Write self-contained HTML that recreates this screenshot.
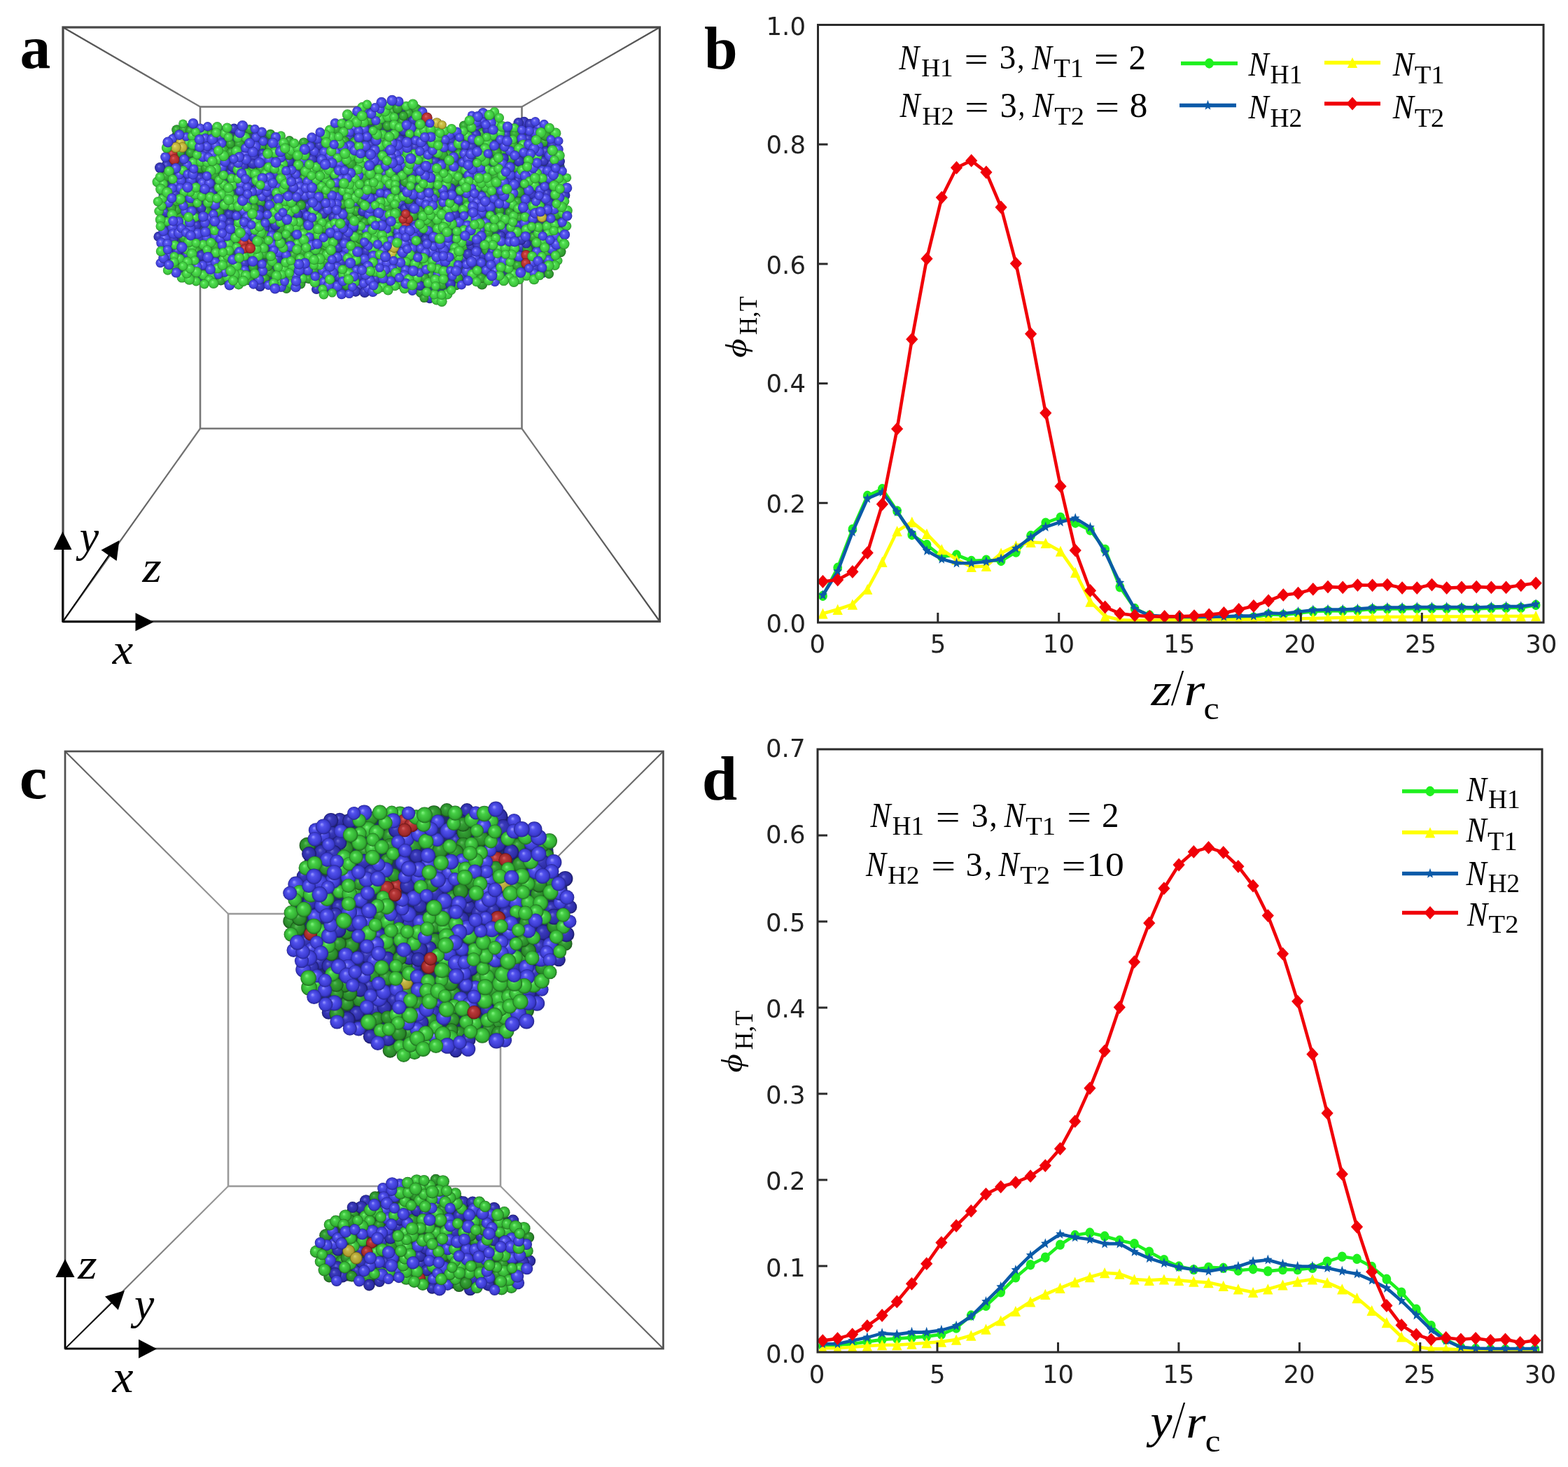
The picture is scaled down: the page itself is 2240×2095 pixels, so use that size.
<!DOCTYPE html>
<html><head><meta charset="utf-8"><title>Figure</title><style>html,body{margin:0;padding:0;background:#fff;}svg{display:block;}</style></head><body>
<svg width="2240" height="2095" viewBox="0 0 2240 2095">
<defs><radialGradient id="ga" cx="0.5" cy="0.5" r="0.5" fx="0.38" fy="0.34"><stop offset="0" stop-color="#8cf88c"/><stop offset="0.3" stop-color="#50e050"/><stop offset="0.8" stop-color="#3cc43c"/><stop offset="1" stop-color="#2a8a2a"/></radialGradient><radialGradient id="ba" cx="0.5" cy="0.5" r="0.5" fx="0.38" fy="0.34"><stop offset="0" stop-color="#a0a0ff"/><stop offset="0.3" stop-color="#5a5af2"/><stop offset="0.8" stop-color="#4040da"/><stop offset="1" stop-color="#2c2c9a"/></radialGradient><radialGradient id="ra" cx="0.5" cy="0.5" r="0.5" fx="0.38" fy="0.34"><stop offset="0" stop-color="#ff8c8c"/><stop offset="0.3" stop-color="#ee4a4a"/><stop offset="0.8" stop-color="#d43434"/><stop offset="1" stop-color="#902222"/></radialGradient><radialGradient id="ya" cx="0.5" cy="0.5" r="0.5" fx="0.38" fy="0.34"><stop offset="0" stop-color="#ffffa0"/><stop offset="0.3" stop-color="#fbec58"/><stop offset="0.8" stop-color="#e6d63c"/><stop offset="1" stop-color="#9a8a1c"/></radialGradient><radialGradient id="ga1" cx="0.5" cy="0.5" r="0.5" fx="0.38" fy="0.34"><stop offset="0" stop-color="#6cd06c"/><stop offset="0.3" stop-color="#3cb43c"/><stop offset="0.8" stop-color="#2e9a2e"/><stop offset="1" stop-color="#1e641e"/></radialGradient><radialGradient id="ba1" cx="0.5" cy="0.5" r="0.5" fx="0.38" fy="0.34"><stop offset="0" stop-color="#7c7ce4"/><stop offset="0.3" stop-color="#4444cc"/><stop offset="0.8" stop-color="#3232b2"/><stop offset="1" stop-color="#202078"/></radialGradient><radialGradient id="ra1" cx="0.5" cy="0.5" r="0.5" fx="0.38" fy="0.34"><stop offset="0" stop-color="#e06a6a"/><stop offset="0.3" stop-color="#c83c3c"/><stop offset="0.8" stop-color="#ac2c2c"/><stop offset="1" stop-color="#701818"/></radialGradient><radialGradient id="ya1" cx="0.5" cy="0.5" r="0.5" fx="0.38" fy="0.34"><stop offset="0" stop-color="#e0e088"/><stop offset="0.3" stop-color="#d0c448"/><stop offset="0.8" stop-color="#b8aa34"/><stop offset="1" stop-color="#746612"/></radialGradient><radialGradient id="gc" cx="0.5" cy="0.5" r="0.5" fx="0.38" fy="0.34"><stop offset="0" stop-color="#84f484"/><stop offset="0.3" stop-color="#46d046"/><stop offset="0.8" stop-color="#32ae32"/><stop offset="1" stop-color="#206a20"/></radialGradient><radialGradient id="bc" cx="0.5" cy="0.5" r="0.5" fx="0.38" fy="0.34"><stop offset="0" stop-color="#9c9cff"/><stop offset="0.3" stop-color="#5252ee"/><stop offset="0.8" stop-color="#3a3ace"/><stop offset="1" stop-color="#24248a"/></radialGradient><radialGradient id="rc" cx="0.5" cy="0.5" r="0.5" fx="0.38" fy="0.34"><stop offset="0" stop-color="#ff8080"/><stop offset="0.3" stop-color="#e84444"/><stop offset="0.8" stop-color="#cc3030"/><stop offset="1" stop-color="#861c1c"/></radialGradient><radialGradient id="yc" cx="0.5" cy="0.5" r="0.5" fx="0.38" fy="0.34"><stop offset="0" stop-color="#ffff98"/><stop offset="0.3" stop-color="#f4e450"/><stop offset="0.8" stop-color="#dccc38"/><stop offset="1" stop-color="#8e7e18"/></radialGradient><radialGradient id="gc1" cx="0.5" cy="0.5" r="0.5" fx="0.38" fy="0.34"><stop offset="0" stop-color="#60bc60"/><stop offset="0.3" stop-color="#34a034"/><stop offset="0.8" stop-color="#288628"/><stop offset="1" stop-color="#184c18"/></radialGradient><radialGradient id="bc1" cx="0.5" cy="0.5" r="0.5" fx="0.38" fy="0.34"><stop offset="0" stop-color="#7070dc"/><stop offset="0.3" stop-color="#3a3abc"/><stop offset="0.8" stop-color="#2c2ca2"/><stop offset="1" stop-color="#181860"/></radialGradient><radialGradient id="rc1" cx="0.5" cy="0.5" r="0.5" fx="0.38" fy="0.34"><stop offset="0" stop-color="#d46464"/><stop offset="0.3" stop-color="#b83838"/><stop offset="0.8" stop-color="#9c2828"/><stop offset="1" stop-color="#5c1212"/></radialGradient><radialGradient id="yc1" cx="0.5" cy="0.5" r="0.5" fx="0.38" fy="0.34"><stop offset="0" stop-color="#d4d476"/><stop offset="0.3" stop-color="#c2b444"/><stop offset="0.8" stop-color="#ac9c2e"/><stop offset="1" stop-color="#5e520e"/></radialGradient><linearGradient id="dg16" gradientUnits="userSpaceOnUse" x1="90" y1="39" x2="286" y2="152.5"><stop offset="0" stop-color="#4e4e4e"/><stop offset="1" stop-color="#777777"/></linearGradient><linearGradient id="dg17" gradientUnits="userSpaceOnUse" x1="942.5" y1="39" x2="745.5" y2="152.5"><stop offset="0" stop-color="#4e4e4e"/><stop offset="1" stop-color="#777777"/></linearGradient><linearGradient id="dg18" gradientUnits="userSpaceOnUse" x1="90" y1="887.5" x2="286" y2="612"><stop offset="0" stop-color="#4e4e4e"/><stop offset="1" stop-color="#777777"/></linearGradient><linearGradient id="dg19" gradientUnits="userSpaceOnUse" x1="942.5" y1="887.5" x2="745.5" y2="612"><stop offset="0" stop-color="#4e4e4e"/><stop offset="1" stop-color="#777777"/></linearGradient><linearGradient id="dg20" gradientUnits="userSpaceOnUse" x1="93" y1="1073" x2="326" y2="1305"><stop offset="0" stop-color="#5e5e5e"/><stop offset="1" stop-color="#9a9a9a"/></linearGradient><linearGradient id="dg21" gradientUnits="userSpaceOnUse" x1="947.5" y1="1073" x2="715" y2="1305"><stop offset="0" stop-color="#5e5e5e"/><stop offset="1" stop-color="#9a9a9a"/></linearGradient><linearGradient id="dg22" gradientUnits="userSpaceOnUse" x1="93" y1="1926" x2="326" y2="1694"><stop offset="0" stop-color="#5e5e5e"/><stop offset="1" stop-color="#9a9a9a"/></linearGradient><linearGradient id="dg23" gradientUnits="userSpaceOnUse" x1="947.5" y1="1926" x2="715" y2="1694"><stop offset="0" stop-color="#5e5e5e"/><stop offset="1" stop-color="#9a9a9a"/></linearGradient><clipPath id="cpb"><rect x="1168.5" y="35.5" width="1036.5" height="853.5"/></clipPath><clipPath id="cpd"><rect x="1168" y="1070" width="1035" height="861"/></clipPath></defs>
<rect width="2240" height="2095" fill="#fff"/>
<rect x="286" y="152.5" width="459.5" height="459.5" fill="none" stroke="#777777" stroke-width="2.6"/>
<line x1="90" y1="39" x2="286" y2="152.5" stroke="url(#dg16)" stroke-width="2.2"/>
<line x1="942.5" y1="39" x2="745.5" y2="152.5" stroke="url(#dg17)" stroke-width="2.2"/>
<line x1="90" y1="887.5" x2="286" y2="612" stroke="url(#dg18)" stroke-width="2.2"/>
<line x1="942.5" y1="887.5" x2="745.5" y2="612" stroke="url(#dg19)" stroke-width="2.2"/>
<g><polygon points="238.7,198.9 235.6,217.5 226,255.6 229.3,376 250,393.7 297.1,406.3 361,406.3 409,412.6 441.8,403 459,419.1 505.7,419.1 553.5,412.7 586.7,412.7 619.1,431.8 632.6,429.1 649.5,406.5 714.7,403 777.9,396.6 798.8,375.8 809.8,328.9 808.2,242.8 792.6,186.8 762.8,171.9 721.1,178.2 718.8,176.8 707,160.6 678,162 653.2,186.9 650.1,187.8 616.3,171 600.5,152.2 560.6,144.6 523.2,150.8 491.6,168 452.6,193.9 425.9,207.2 391.8,190.9 354,181.5 296.5,179.5 259.4,175.2" fill="#2e4a78"/><circle cx="738.9" cy="240.6" r="6.6" fill="url(#ga1)"/><circle cx="674.1" cy="210.1" r="7.5" fill="url(#ba1)"/><circle cx="584.3" cy="161.9" r="6.7" fill="url(#ga1)"/><circle cx="626.9" cy="284.3" r="7.5" fill="url(#ba1)"/><circle cx="285.7" cy="254.4" r="7.5" fill="url(#ba1)"/><circle cx="681.8" cy="183.4" r="7.3" fill="url(#ba1)"/><circle cx="371.5" cy="409.1" r="7.2" fill="url(#ba1)"/><circle cx="349.6" cy="376.2" r="6.8" fill="url(#ba1)"/><circle cx="576.7" cy="187.4" r="6.5" fill="url(#ba1)"/><circle cx="613.9" cy="426.6" r="6.7" fill="url(#ba1)"/><circle cx="358" cy="345.1" r="6.6" fill="url(#ra1)"/><circle cx="614.6" cy="321.6" r="7.3" fill="url(#ga1)"/><circle cx="334.4" cy="183.5" r="6.9" fill="url(#ba1)"/><circle cx="396.5" cy="370" r="7.5" fill="url(#ba1)"/><circle cx="576.1" cy="268" r="6.8" fill="url(#ba1)"/><circle cx="741.9" cy="274.5" r="7.7" fill="url(#ga1)"/><circle cx="548.7" cy="267.1" r="7.6" fill="url(#ba1)"/><circle cx="385.2" cy="388.9" r="7.1" fill="url(#ga1)"/><circle cx="664.9" cy="352.3" r="7.7" fill="url(#ga1)"/><circle cx="688.6" cy="406" r="7.6" fill="url(#ga1)"/><circle cx="688.8" cy="190.3" r="7.6" fill="url(#ga1)"/><circle cx="401.4" cy="326.1" r="7.3" fill="url(#ga1)"/><circle cx="513.1" cy="310.6" r="6.7" fill="url(#ga1)"/><circle cx="543.2" cy="234" r="7.6" fill="url(#ba1)"/><circle cx="295.6" cy="301.7" r="7.5" fill="url(#ga1)"/><circle cx="578.8" cy="320.7" r="7.5" fill="url(#ra1)"/><circle cx="386.5" cy="329.4" r="6.9" fill="url(#ba1)"/><circle cx="568.7" cy="298.2" r="7.7" fill="url(#ga1)"/><circle cx="721.3" cy="328.8" r="7.3" fill="url(#ba1)"/><circle cx="465" cy="280.2" r="6.5" fill="url(#ga1)"/><circle cx="272.1" cy="218.1" r="6.8" fill="url(#ga1)"/><circle cx="414.5" cy="342.9" r="6.7" fill="url(#ga1)"/><circle cx="666.1" cy="285.5" r="7.3" fill="url(#ga1)"/><circle cx="429.6" cy="405.8" r="6.8" fill="url(#ga1)"/><circle cx="499.3" cy="196.7" r="6.9" fill="url(#ba1)"/><circle cx="314" cy="197.1" r="6.9" fill="url(#ba1)"/><circle cx="572.2" cy="405.9" r="7.2" fill="url(#ga1)"/><circle cx="786.3" cy="234" r="7" fill="url(#ba1)"/><circle cx="494.4" cy="316.5" r="6.6" fill="url(#ba1)"/><circle cx="362.3" cy="338" r="7.4" fill="url(#ba1)"/><circle cx="419.2" cy="364.3" r="7.1" fill="url(#ga1)"/><circle cx="320.4" cy="214.5" r="7.6" fill="url(#ga1)"/><circle cx="778" cy="202.5" r="6.7" fill="url(#ga1)"/><circle cx="742" cy="311.4" r="7.3" fill="url(#ga1)"/><circle cx="281.5" cy="358.6" r="7" fill="url(#ga1)"/><circle cx="252.6" cy="185.6" r="7.4" fill="url(#ga1)"/><circle cx="521.1" cy="317.3" r="6.6" fill="url(#ga1)"/><circle cx="434" cy="203.6" r="7.2" fill="url(#ga1)"/><circle cx="795.1" cy="306.6" r="7" fill="url(#ga1)"/><circle cx="672.8" cy="352" r="6.3" fill="url(#ba1)"/><circle cx="621.4" cy="230.9" r="7.2" fill="url(#ba1)"/><circle cx="574.5" cy="173.6" r="7" fill="url(#ga1)"/><circle cx="601.3" cy="417.4" r="7.7" fill="url(#ga1)"/><circle cx="779.4" cy="193.7" r="7.5" fill="url(#ga1)"/><circle cx="433.8" cy="237" r="7.1" fill="url(#ba1)"/><circle cx="696.1" cy="279.6" r="7.5" fill="url(#ga1)"/><circle cx="689.8" cy="329.4" r="7" fill="url(#ba1)"/><circle cx="440.3" cy="294.7" r="7.1" fill="url(#ba1)"/><circle cx="413.1" cy="231.1" r="7.3" fill="url(#ba1)"/><circle cx="315.5" cy="401" r="6.4" fill="url(#ga1)"/><circle cx="508.7" cy="292.5" r="7.2" fill="url(#ba1)"/><circle cx="463.3" cy="326.2" r="6.6" fill="url(#ga1)"/><circle cx="715.7" cy="336.2" r="6.3" fill="url(#ba1)"/><circle cx="639" cy="236.5" r="7.7" fill="url(#ga1)"/><circle cx="432.7" cy="326.6" r="7.1" fill="url(#ga1)"/><circle cx="441.2" cy="398.1" r="6.9" fill="url(#ga1)"/><circle cx="713.7" cy="300.5" r="6.7" fill="url(#ga1)"/><circle cx="489.8" cy="291.3" r="6.6" fill="url(#ga1)"/><circle cx="697.8" cy="332.9" r="6.6" fill="url(#ga1)"/><circle cx="393.6" cy="321.7" r="7.4" fill="url(#ba1)"/><circle cx="656.8" cy="243.1" r="6.7" fill="url(#ga1)"/><circle cx="579.4" cy="259.5" r="7.4" fill="url(#ga1)"/><circle cx="362.9" cy="226" r="7.6" fill="url(#ba1)"/><circle cx="718.3" cy="217.3" r="6.7" fill="url(#ga1)"/><circle cx="655.5" cy="219.3" r="6.7" fill="url(#ga1)"/><circle cx="590" cy="171.9" r="6.9" fill="url(#ba1)"/><circle cx="483.9" cy="353.8" r="6.6" fill="url(#ba1)"/><circle cx="360.5" cy="242.4" r="6.8" fill="url(#ga1)"/><circle cx="308" cy="352" r="7.4" fill="url(#ga1)"/><circle cx="375.7" cy="343.3" r="7.5" fill="url(#ga1)"/><circle cx="466" cy="373.6" r="7.3" fill="url(#ga1)"/><circle cx="784.6" cy="290.1" r="7.1" fill="url(#ba1)"/><circle cx="724.2" cy="192.6" r="6.6" fill="url(#ba1)"/><circle cx="780" cy="216" r="7.1" fill="url(#ba1)"/><circle cx="663.8" cy="369.6" r="6.6" fill="url(#ba1)"/><circle cx="764.5" cy="382.6" r="7.1" fill="url(#ba1)"/><circle cx="806.9" cy="279" r="7.5" fill="url(#ba1)"/><circle cx="605.9" cy="425.6" r="6.5" fill="url(#ga1)"/><circle cx="415.3" cy="397.5" r="6.9" fill="url(#ga1)"/><circle cx="287.4" cy="364.8" r="7.6" fill="url(#ba1)"/><circle cx="708" cy="251.7" r="7.6" fill="url(#ga1)"/><circle cx="522.4" cy="159" r="7.7" fill="url(#ba1)"/><circle cx="739.9" cy="257.4" r="6.5" fill="url(#ba1)"/><circle cx="373.6" cy="242.3" r="7.3" fill="url(#ga1)"/><circle cx="741.5" cy="230.4" r="7.4" fill="url(#ba1)"/><circle cx="745.1" cy="352.9" r="7.1" fill="url(#ba1)"/><circle cx="520.7" cy="254" r="7.5" fill="url(#ga1)"/><circle cx="452.1" cy="413" r="7.1" fill="url(#ba1)"/><circle cx="709.4" cy="267.8" r="6.8" fill="url(#ba1)"/><circle cx="412.9" cy="221.8" r="6.7" fill="url(#ga1)"/><circle cx="361.7" cy="381.9" r="6.6" fill="url(#ga1)"/><circle cx="287.6" cy="297.7" r="6.8" fill="url(#ba1)"/><circle cx="478.2" cy="272.5" r="7.5" fill="url(#ga1)"/><circle cx="247.7" cy="341.8" r="7" fill="url(#ba1)"/><circle cx="709.4" cy="217.3" r="7.2" fill="url(#ga1)"/><circle cx="556.2" cy="391.8" r="7.4" fill="url(#ga1)"/><circle cx="329.8" cy="217.5" r="6.5" fill="url(#ga1)"/><circle cx="538" cy="221.7" r="7.1" fill="url(#ba1)"/><circle cx="615.4" cy="393.5" r="6.7" fill="url(#ga1)"/><circle cx="262.9" cy="340.4" r="6.7" fill="url(#ga1)"/><circle cx="382.5" cy="380.7" r="6.9" fill="url(#ga1)"/><circle cx="453.6" cy="272" r="6.9" fill="url(#ga1)"/><circle cx="432" cy="301.5" r="6.8" fill="url(#ba1)"/><circle cx="506.5" cy="202.5" r="7" fill="url(#ga1)"/><circle cx="781.7" cy="276.2" r="6.8" fill="url(#ba1)"/><circle cx="591" cy="316.6" r="7.3" fill="url(#ba1)"/><circle cx="237.2" cy="251.9" r="7.5" fill="url(#ga1)"/><circle cx="650.6" cy="307" r="6.7" fill="url(#ba1)"/><circle cx="631.9" cy="406.7" r="6.9" fill="url(#ga1)"/><circle cx="300.6" cy="191.4" r="6.5" fill="url(#ga1)"/><circle cx="466.8" cy="313.1" r="7.4" fill="url(#ga1)"/><circle cx="513.9" cy="411.1" r="6.8" fill="url(#ba1)"/><circle cx="540.3" cy="180" r="6.4" fill="url(#ga1)"/><circle cx="356.4" cy="184.7" r="6.6" fill="url(#ga1)"/><circle cx="668.9" cy="363.1" r="7.5" fill="url(#ba1)"/><circle cx="226.6" cy="338" r="7.2" fill="url(#ba1)"/><circle cx="488.2" cy="375" r="7.1" fill="url(#ba1)"/><circle cx="733.8" cy="207.6" r="6.7" fill="url(#ga1)"/><circle cx="476.1" cy="310.1" r="7.1" fill="url(#ba1)"/><circle cx="569" cy="382.8" r="7.5" fill="url(#ga1)"/><circle cx="753.5" cy="355.7" r="7.2" fill="url(#ga1)"/><circle cx="727.9" cy="303" r="6.4" fill="url(#ga1)"/><circle cx="800.9" cy="359.6" r="7.6" fill="url(#ga1)"/><circle cx="508.1" cy="416.4" r="7.3" fill="url(#ba1)"/><circle cx="430" cy="293.1" r="7" fill="url(#ga1)"/><circle cx="456.5" cy="207.6" r="6.7" fill="url(#ba1)"/><circle cx="394.7" cy="249.3" r="7.5" fill="url(#ba1)"/><circle cx="784.3" cy="391.3" r="6.7" fill="url(#ga1)"/><circle cx="425.4" cy="306.1" r="7.1" fill="url(#ba1)"/><circle cx="497.5" cy="382.8" r="7.2" fill="url(#ga1)"/><circle cx="465.2" cy="354.2" r="6.9" fill="url(#ga1)"/><circle cx="661.1" cy="393.3" r="6.8" fill="url(#ba1)"/><circle cx="608" cy="340.7" r="6.5" fill="url(#ba1)"/><circle cx="651.5" cy="407.8" r="6.5" fill="url(#ga1)"/><circle cx="250.6" cy="277" r="7.2" fill="url(#ba1)"/><circle cx="250.9" cy="289.6" r="7.2" fill="url(#ga1)"/><circle cx="554.2" cy="297.9" r="7.7" fill="url(#ga1)"/><circle cx="449.5" cy="320.5" r="7.2" fill="url(#ga1)"/><circle cx="372.9" cy="289.1" r="6.3" fill="url(#ga1)"/><circle cx="762" cy="338.5" r="6.8" fill="url(#ga1)"/><circle cx="561.5" cy="159.7" r="7.6" fill="url(#ga1)"/><circle cx="624.3" cy="358.8" r="7" fill="url(#ba1)"/><circle cx="689.2" cy="364.6" r="6.4" fill="url(#ba1)"/><circle cx="748.6" cy="174.4" r="7.6" fill="url(#ba1)"/><circle cx="378" cy="363.4" r="6.3" fill="url(#ga1)"/><circle cx="263.2" cy="185.3" r="7.6" fill="url(#ga1)"/><circle cx="385.3" cy="285" r="7.6" fill="url(#ba1)"/><circle cx="669.6" cy="344" r="7.5" fill="url(#ba1)"/><circle cx="695.6" cy="185.7" r="6.4" fill="url(#ba1)"/><circle cx="271.5" cy="186.5" r="6.6" fill="url(#ga1)"/><circle cx="358" cy="260.3" r="6.5" fill="url(#ba1)"/><circle cx="341.9" cy="205.9" r="7.7" fill="url(#ga1)"/><circle cx="590.6" cy="308.3" r="7.3" fill="url(#ga1)"/><circle cx="549.6" cy="248.7" r="7.6" fill="url(#ba1)"/><circle cx="573.5" cy="291.4" r="7.7" fill="url(#ba1)"/><circle cx="286.1" cy="240.2" r="6.7" fill="url(#ga1)"/><circle cx="409.2" cy="412.2" r="6.8" fill="url(#ga1)"/><circle cx="347.1" cy="347.8" r="7.7" fill="url(#ra1)"/><circle cx="329.3" cy="205.6" r="6.5" fill="url(#ga1)"/><circle cx="754.7" cy="198.1" r="6.8" fill="url(#ba1)"/><circle cx="606.3" cy="396.9" r="7.1" fill="url(#ga1)"/><circle cx="483.5" cy="395.8" r="6.8" fill="url(#ba1)"/><circle cx="528.6" cy="172.3" r="6.5" fill="url(#ga1)"/><circle cx="640.6" cy="221" r="6.8" fill="url(#ga1)"/><circle cx="461.6" cy="305.1" r="7.6" fill="url(#ba1)"/><circle cx="523.3" cy="358.7" r="6.9" fill="url(#ba1)"/><circle cx="501.6" cy="234.2" r="7.7" fill="url(#ga1)"/><circle cx="740.7" cy="175.3" r="7.2" fill="url(#ba1)"/><circle cx="578.8" cy="297.7" r="7.2" fill="url(#ba1)"/><circle cx="511.6" cy="348.7" r="7.2" fill="url(#ga1)"/><circle cx="445.8" cy="227.4" r="7.4" fill="url(#ba1)"/><circle cx="777" cy="229.9" r="6.8" fill="url(#ba1)"/><circle cx="458.4" cy="394.3" r="6.7" fill="url(#ga1)"/><circle cx="347.8" cy="237.3" r="6.7" fill="url(#ba1)"/><circle cx="623.3" cy="275.6" r="7.7" fill="url(#ga1)"/><circle cx="329.3" cy="246.4" r="6.5" fill="url(#ba1)"/><circle cx="572" cy="199.9" r="7" fill="url(#ba1)"/><circle cx="386.3" cy="191.7" r="7" fill="url(#ga1)"/><circle cx="679.9" cy="192.1" r="7" fill="url(#ba1)"/><circle cx="560.4" cy="362.9" r="6.9" fill="url(#ya1)"/><circle cx="695.4" cy="357.4" r="7.3" fill="url(#ga1)"/><circle cx="413.5" cy="200.8" r="6.7" fill="url(#ga1)"/><circle cx="586.3" cy="292.1" r="7.7" fill="url(#ba1)"/><circle cx="281.4" cy="321.5" r="6.4" fill="url(#ba1)"/><circle cx="256.6" cy="306.6" r="7.6" fill="url(#ga1)"/><circle cx="378.9" cy="397.7" r="6.5" fill="url(#ga1)"/><circle cx="644.7" cy="200.5" r="7" fill="url(#ba1)"/><circle cx="560" cy="325.9" r="6.6" fill="url(#ga1)"/><circle cx="501.9" cy="308.6" r="7.7" fill="url(#ga1)"/><circle cx="735.6" cy="190.8" r="7.2" fill="url(#ga1)"/><circle cx="356.2" cy="400.4" r="6.8" fill="url(#ga1)"/><circle cx="237.2" cy="303.2" r="7" fill="url(#ba1)"/><circle cx="266.3" cy="364.8" r="6.7" fill="url(#ba1)"/><circle cx="741.6" cy="321.8" r="6.6" fill="url(#ba1)"/><circle cx="459.7" cy="361.6" r="6.8" fill="url(#ga1)"/><circle cx="751.8" cy="348.1" r="6.5" fill="url(#ba1)"/><circle cx="728.9" cy="227" r="7.4" fill="url(#ga1)"/><circle cx="537.6" cy="398.4" r="6.7" fill="url(#ba1)"/><circle cx="739.7" cy="379.2" r="7.4" fill="url(#ga1)"/><circle cx="515.7" cy="333.1" r="6.9" fill="url(#ga1)"/><circle cx="789.2" cy="206.9" r="7.7" fill="url(#ba1)"/><circle cx="298.8" cy="324.9" r="6.5" fill="url(#ga1)"/><circle cx="313.2" cy="302.6" r="6.9" fill="url(#ga1)"/><circle cx="370.8" cy="299.4" r="6.7" fill="url(#ba1)"/><circle cx="249.7" cy="381.8" r="7.2" fill="url(#ga1)"/><circle cx="729.4" cy="257.7" r="6.9" fill="url(#ba1)"/><circle cx="585.9" cy="346.5" r="6.9" fill="url(#ba1)"/><circle cx="306" cy="250.1" r="7.3" fill="url(#ga1)"/><circle cx="601.2" cy="381.7" r="6.4" fill="url(#ga1)"/><circle cx="604.1" cy="224.6" r="6.7" fill="url(#ga1)"/><circle cx="649.1" cy="258.6" r="7.3" fill="url(#ga1)"/><circle cx="654.1" cy="397.3" r="7.2" fill="url(#ga1)"/><circle cx="449" cy="386.7" r="6.3" fill="url(#ga1)"/><circle cx="521" cy="417.3" r="7.7" fill="url(#ba1)"/><circle cx="481.6" cy="185.2" r="7" fill="url(#ga1)"/><circle cx="386.2" cy="211.2" r="7.5" fill="url(#ga1)"/><circle cx="332.5" cy="238.2" r="7.5" fill="url(#ba1)"/><circle cx="760.4" cy="277.8" r="6.4" fill="url(#ba1)"/><circle cx="744.4" cy="342.2" r="7.4" fill="url(#ba1)"/><circle cx="326.7" cy="378.8" r="7.7" fill="url(#ga1)"/><circle cx="702.9" cy="359.7" r="6.7" fill="url(#ba1)"/><circle cx="537.9" cy="282.6" r="6.7" fill="url(#ba1)"/><circle cx="495.5" cy="406.8" r="7.5" fill="url(#ga1)"/><circle cx="302.8" cy="274.1" r="6.9" fill="url(#ba1)"/><circle cx="509.3" cy="301.1" r="7.2" fill="url(#ga1)"/><circle cx="270.9" cy="291.7" r="6.4" fill="url(#ga1)"/><circle cx="392.8" cy="290" r="7.3" fill="url(#ga1)"/><circle cx="567.9" cy="155" r="7.3" fill="url(#ga1)"/><circle cx="456.2" cy="220.4" r="6.5" fill="url(#ba1)"/><circle cx="687.8" cy="397.1" r="7.2" fill="url(#ga1)"/><circle cx="355.5" cy="288.2" r="7" fill="url(#ba1)"/><circle cx="327.6" cy="306.4" r="7" fill="url(#ba1)"/><circle cx="253" cy="299.8" r="6.8" fill="url(#ga1)"/><circle cx="529.9" cy="206.9" r="6.9" fill="url(#ba1)"/><circle cx="595.3" cy="156" r="7.3" fill="url(#ga1)"/><circle cx="373.5" cy="209.9" r="6.6" fill="url(#ga1)"/><circle cx="757.3" cy="177.4" r="7.6" fill="url(#ba1)"/><circle cx="597.7" cy="332.5" r="7.1" fill="url(#ba1)"/><circle cx="253.1" cy="359.2" r="7.4" fill="url(#ba1)"/><circle cx="433.5" cy="254.6" r="6.3" fill="url(#ga1)"/><circle cx="514.3" cy="341" r="7.4" fill="url(#ga1)"/><circle cx="553.6" cy="179.6" r="7.1" fill="url(#ga1)"/><circle cx="285.6" cy="340.7" r="6.4" fill="url(#ba1)"/><circle cx="546.2" cy="199.5" r="6.5" fill="url(#ga1)"/><circle cx="294.1" cy="240" r="7.1" fill="url(#ga1)"/><circle cx="403.6" cy="278.7" r="6.5" fill="url(#ba1)"/><circle cx="599.8" cy="408.1" r="7" fill="url(#ba1)"/><circle cx="238.3" cy="236.2" r="7.4" fill="url(#ba1)"/><circle cx="626.3" cy="293.4" r="7.5" fill="url(#ga1)"/><circle cx="632.8" cy="221.2" r="7.1" fill="url(#ga1)"/><circle cx="360.9" cy="233.8" r="7.3" fill="url(#ba1)"/><circle cx="378.3" cy="326.3" r="6.7" fill="url(#ba1)"/><circle cx="800" cy="230.4" r="7" fill="url(#ba1)"/><circle cx="739.8" cy="288.1" r="6.8" fill="url(#ga1)"/><circle cx="459.9" cy="242.4" r="6.6" fill="url(#ga1)"/><circle cx="433.1" cy="360.1" r="6.5" fill="url(#ga1)"/><circle cx="549.8" cy="213.5" r="6.8" fill="url(#ba1)"/><circle cx="380.1" cy="336.1" r="6.7" fill="url(#ga1)"/><circle cx="228.5" cy="239.6" r="7.5" fill="url(#ba1)"/><circle cx="719.9" cy="225.9" r="6.9" fill="url(#ba1)"/><circle cx="518.1" cy="302.2" r="6.9" fill="url(#ba1)"/><circle cx="374.7" cy="218.6" r="6.3" fill="url(#ba1)"/><circle cx="630.5" cy="332.8" r="6.9" fill="url(#ba1)"/><circle cx="583.8" cy="284.3" r="7.3" fill="url(#ga1)"/><circle cx="515.6" cy="287.8" r="6.7" fill="url(#ga1)"/><circle cx="492.6" cy="201.1" r="6.6" fill="url(#ga1)"/><circle cx="256.9" cy="218.4" r="6.9" fill="url(#ga1)"/><circle cx="781.2" cy="361.6" r="6.5" fill="url(#ga1)"/><circle cx="643.5" cy="405.4" r="7.4" fill="url(#ba1)"/><circle cx="644.4" cy="268.7" r="6.6" fill="url(#ba1)"/><circle cx="590.4" cy="246.4" r="7.5" fill="url(#ba1)"/><circle cx="362.8" cy="297.3" r="6.9" fill="url(#ga1)"/><circle cx="576.3" cy="165.6" r="6.6" fill="url(#ga1)"/><circle cx="294.3" cy="216.9" r="6.6" fill="url(#ba1)"/><circle cx="494.4" cy="339.5" r="7.6" fill="url(#ba1)"/><circle cx="663" cy="179.6" r="7.1" fill="url(#ga1)"/><circle cx="328.2" cy="318.7" r="7.4" fill="url(#ba1)"/><circle cx="593" cy="210.3" r="7.4" fill="url(#ba1)"/><circle cx="534.5" cy="269.4" r="7.7" fill="url(#ga1)"/><circle cx="513.8" cy="393.9" r="7.3" fill="url(#ba1)"/><circle cx="245.2" cy="297.3" r="6.6" fill="url(#ga1)"/><circle cx="600.1" cy="300.9" r="6.3" fill="url(#ga1)"/><circle cx="682.6" cy="349.7" r="7.3" fill="url(#ba1)"/><circle cx="714.3" cy="309.6" r="6.4" fill="url(#ga)"/><circle cx="295.2" cy="339.9" r="6.4" fill="url(#ba)"/><circle cx="486.8" cy="255.5" r="7.1" fill="url(#ba)"/><circle cx="267.9" cy="203.4" r="7.3" fill="url(#ga)"/><circle cx="698.8" cy="343.4" r="6.6" fill="url(#ga)"/><circle cx="265" cy="302.2" r="6.9" fill="url(#ba)"/><circle cx="330.5" cy="294.1" r="6.5" fill="url(#ga)"/><circle cx="709.7" cy="177.8" r="7.5" fill="url(#ga)"/><circle cx="482.1" cy="281.9" r="7.4" fill="url(#ba)"/><circle cx="622.6" cy="301.3" r="6.5" fill="url(#ga)"/><circle cx="616.5" cy="359.5" r="7.5" fill="url(#ba)"/><circle cx="246.3" cy="324.9" r="7.2" fill="url(#ba)"/><circle cx="433.9" cy="334.3" r="7.7" fill="url(#ga)"/><circle cx="416.1" cy="214.5" r="7.4" fill="url(#ga)"/><circle cx="263.1" cy="317.2" r="6.9" fill="url(#ga)"/><circle cx="332.8" cy="263.9" r="7.3" fill="url(#ga)"/><circle cx="465.9" cy="256.4" r="6.6" fill="url(#ga)"/><circle cx="453.4" cy="198.4" r="6.8" fill="url(#ba)"/><circle cx="571.8" cy="215" r="7.6" fill="url(#ba)"/><circle cx="593.7" cy="236.9" r="7.6" fill="url(#ba)"/><circle cx="760" cy="375.2" r="7" fill="url(#ba)"/><circle cx="600.7" cy="287.6" r="7.1" fill="url(#ba)"/><circle cx="344.7" cy="263.6" r="7.4" fill="url(#ba)"/><circle cx="612.1" cy="403.9" r="7.3" fill="url(#ga)"/><circle cx="308.1" cy="337" r="7.5" fill="url(#ba)"/><circle cx="710.5" cy="371.7" r="7.6" fill="url(#ba)"/><circle cx="699.7" cy="366.8" r="7.4" fill="url(#ba)"/><circle cx="388.2" cy="337" r="7.3" fill="url(#ba)"/><circle cx="564.3" cy="408.6" r="6.6" fill="url(#ga)"/><circle cx="262.1" cy="294.1" r="6.6" fill="url(#ba)"/><circle cx="506.5" cy="402.7" r="7.3" fill="url(#ga)"/><circle cx="405.2" cy="384.5" r="7.5" fill="url(#ga)"/><circle cx="464.5" cy="248.7" r="7.1" fill="url(#ga)"/><circle cx="345.7" cy="324.4" r="6.7" fill="url(#ba)"/><circle cx="575.6" cy="235" r="6.9" fill="url(#ba)"/><circle cx="547.3" cy="357.3" r="6.7" fill="url(#ba)"/><circle cx="568.8" cy="330.6" r="6.7" fill="url(#ba)"/><circle cx="656" cy="317.5" r="7.2" fill="url(#ba)"/><circle cx="544.5" cy="170" r="6.4" fill="url(#ga)"/><circle cx="299.8" cy="375" r="7.4" fill="url(#ba)"/><circle cx="425.1" cy="347.7" r="6.7" fill="url(#ga)"/><circle cx="735.1" cy="182.6" r="6.4" fill="url(#ga)"/><circle cx="589.4" cy="354.5" r="6.5" fill="url(#ba)"/><circle cx="770.4" cy="181.8" r="7.3" fill="url(#ba)"/><circle cx="667.7" cy="294.3" r="6.7" fill="url(#ga)"/><circle cx="365.3" cy="316.4" r="7.6" fill="url(#ga)"/><circle cx="474.3" cy="279.3" r="7" fill="url(#ba)"/><circle cx="693.9" cy="267.2" r="7" fill="url(#ga)"/><circle cx="481.3" cy="291.2" r="6.9" fill="url(#ba)"/><circle cx="590.3" cy="336.8" r="7.6" fill="url(#ba)"/><circle cx="401.3" cy="194" r="6.7" fill="url(#ga)"/><circle cx="551.7" cy="288.1" r="6.9" fill="url(#ga)"/><circle cx="799.8" cy="330.7" r="6.5" fill="url(#ga)"/><circle cx="574.6" cy="250.5" r="7" fill="url(#ga)"/><circle cx="338" cy="215.9" r="7.6" fill="url(#ga)"/><circle cx="732.6" cy="292.3" r="6.8" fill="url(#ga)"/><circle cx="519.5" cy="242.3" r="7.4" fill="url(#ga)"/><circle cx="260" cy="396.2" r="7.4" fill="url(#ga)"/><circle cx="659.7" cy="346.4" r="6.8" fill="url(#ga)"/><circle cx="353" cy="247.8" r="7.2" fill="url(#ga)"/><circle cx="379.5" cy="247.9" r="6.9" fill="url(#ga)"/><circle cx="389.8" cy="349.4" r="6.7" fill="url(#ba)"/><circle cx="601.3" cy="354.7" r="6.6" fill="url(#ba)"/><circle cx="612.6" cy="263.5" r="7.3" fill="url(#ga)"/><circle cx="276.1" cy="231.9" r="7.3" fill="url(#ga)"/><circle cx="694.6" cy="385.8" r="6.9" fill="url(#ba)"/><circle cx="580.2" cy="151.5" r="6.7" fill="url(#ga)"/><circle cx="675.2" cy="283.6" r="7" fill="url(#ba)"/><circle cx="696.1" cy="241.6" r="6.3" fill="url(#ga)"/><circle cx="349.5" cy="385.5" r="6.4" fill="url(#ba)"/><circle cx="714.3" cy="190.4" r="6.7" fill="url(#ga)"/><circle cx="473.2" cy="290.5" r="6.8" fill="url(#ba)"/><circle cx="376.4" cy="354.3" r="7.3" fill="url(#ga)"/><circle cx="783.9" cy="371.5" r="7.3" fill="url(#ba)"/><circle cx="252.2" cy="262.7" r="6.5" fill="url(#ba)"/><circle cx="418.1" cy="379.9" r="7.7" fill="url(#ga)"/><circle cx="350.7" cy="196.1" r="6.8" fill="url(#ga)"/><circle cx="272.3" cy="282.6" r="7.5" fill="url(#ba)"/><circle cx="732.5" cy="199.5" r="6.5" fill="url(#ga)"/><circle cx="570.3" cy="367.1" r="6.5" fill="url(#ga)"/><circle cx="246.4" cy="198" r="6.5" fill="url(#ba)"/><circle cx="612.1" cy="329.5" r="6.5" fill="url(#ba)"/><circle cx="729.3" cy="249.9" r="6.9" fill="url(#ba)"/><circle cx="767" cy="359.3" r="6.9" fill="url(#ba)"/><circle cx="235.7" cy="340.8" r="7.6" fill="url(#ba)"/><circle cx="543.5" cy="208.6" r="7.2" fill="url(#ga)"/><circle cx="541.3" cy="242" r="6.9" fill="url(#ga)"/><circle cx="770.8" cy="294.4" r="7.3" fill="url(#ga)"/><circle cx="397.6" cy="205.3" r="7" fill="url(#ba)"/><circle cx="524" cy="328.5" r="7.2" fill="url(#ba)"/><circle cx="767.6" cy="224.3" r="6.5" fill="url(#ga)"/><circle cx="662" cy="260.1" r="6.7" fill="url(#ga)"/><circle cx="312.6" cy="267.9" r="6.9" fill="url(#ga)"/><circle cx="432.3" cy="397.5" r="6.5" fill="url(#ga)"/><circle cx="752" cy="393.4" r="7.4" fill="url(#ga)"/><circle cx="528.4" cy="282.9" r="6.9" fill="url(#ba)"/><circle cx="485.1" cy="234.1" r="7.4" fill="url(#ba)"/><circle cx="290.1" cy="189.6" r="7" fill="url(#ga)"/><circle cx="425.7" cy="259.1" r="6.7" fill="url(#ba)"/><circle cx="335.2" cy="285.2" r="7.1" fill="url(#ga)"/><circle cx="522.1" cy="230.6" r="7" fill="url(#ga)"/><circle cx="591.3" cy="219.5" r="6.4" fill="url(#ga)"/><circle cx="509" cy="385.8" r="6.6" fill="url(#ba)"/><circle cx="769.5" cy="208.3" r="6.5" fill="url(#ba)"/><circle cx="578" cy="226.2" r="7" fill="url(#ga)"/><circle cx="267.4" cy="356.6" r="7.1" fill="url(#ga)"/><circle cx="432.9" cy="229.2" r="6.9" fill="url(#ba)"/><circle cx="513.1" cy="250.7" r="6.3" fill="url(#ba)"/><circle cx="317.2" cy="277.9" r="7.3" fill="url(#ga)"/><circle cx="369.8" cy="307.4" r="7" fill="url(#ba)"/><circle cx="637.2" cy="264.1" r="7.5" fill="url(#ga)"/><circle cx="415" cy="405.2" r="6.4" fill="url(#ga)"/><circle cx="241" cy="289.9" r="6.5" fill="url(#ba)"/><circle cx="809.8" cy="253.8" r="6.4" fill="url(#ga)"/><circle cx="540.6" cy="254.4" r="7.2" fill="url(#ga)"/><circle cx="626.1" cy="392.4" r="7.6" fill="url(#ba)"/><circle cx="741.4" cy="366.1" r="7.5" fill="url(#ba)"/><circle cx="540.8" cy="313.7" r="7.1" fill="url(#ga)"/><circle cx="753.6" cy="291.5" r="6.9" fill="url(#ba)"/><circle cx="286.5" cy="231.3" r="6.6" fill="url(#ga)"/><circle cx="520.9" cy="278" r="7.4" fill="url(#ba)"/><circle cx="688.2" cy="173" r="6.5" fill="url(#ba)"/><circle cx="749.5" cy="318.5" r="7" fill="url(#ba)"/><circle cx="467.1" cy="346.7" r="7.7" fill="url(#ga)"/><circle cx="630.3" cy="235.8" r="7.2" fill="url(#ba)"/><circle cx="246" cy="220.4" r="7.6" fill="url(#ra1)"/><circle cx="435.7" cy="279.4" r="6.9" fill="url(#ba)"/><circle cx="666.8" cy="276.6" r="6.4" fill="url(#ba)"/><circle cx="567.7" cy="321.2" r="6.4" fill="url(#ga)"/><circle cx="738.3" cy="331.3" r="7.5" fill="url(#ga)"/><circle cx="282.1" cy="333.6" r="7.7" fill="url(#ba)"/><circle cx="750.7" cy="284.4" r="7" fill="url(#ba)"/><circle cx="274.6" cy="353.6" r="6.6" fill="url(#ga)"/><circle cx="646.1" cy="248" r="7.1" fill="url(#ga)"/><circle cx="413.7" cy="303.1" r="7.4" fill="url(#ga)"/><circle cx="551.7" cy="256.6" r="7.5" fill="url(#ga)"/><circle cx="488" cy="420.2" r="7.1" fill="url(#ba)"/><circle cx="278.9" cy="277.3" r="7.4" fill="url(#ga)"/><circle cx="622" cy="399.4" r="7.4" fill="url(#ga)"/><circle cx="316.6" cy="204.6" r="6.7" fill="url(#ba)"/><circle cx="289.7" cy="378.6" r="6.5" fill="url(#ba)"/><circle cx="435" cy="221.5" r="7.5" fill="url(#ga)"/><circle cx="256.9" cy="369.6" r="6.8" fill="url(#ga)"/><circle cx="797.3" cy="213.4" r="7.4" fill="url(#ba)"/><circle cx="258.5" cy="257.9" r="6.8" fill="url(#ba)"/><circle cx="385.2" cy="292.9" r="7.1" fill="url(#ba)"/><circle cx="396.3" cy="266.3" r="6.9" fill="url(#ba)"/><circle cx="463.7" cy="217.2" r="7.6" fill="url(#ba)"/><circle cx="681.9" cy="288.6" r="7.2" fill="url(#ba)"/><circle cx="299" cy="311.7" r="6.7" fill="url(#ba)"/><circle cx="330.9" cy="254.6" r="6.7" fill="url(#ga)"/><circle cx="546.5" cy="222.5" r="7.2" fill="url(#ga)"/><circle cx="307.1" cy="292.2" r="7.5" fill="url(#ba)"/><circle cx="257.4" cy="268.6" r="6.8" fill="url(#ba)"/><circle cx="295.7" cy="232.3" r="6.4" fill="url(#ga)"/><circle cx="625.4" cy="326.8" r="7.5" fill="url(#ga)"/><circle cx="348" cy="301.7" r="6.6" fill="url(#ba)"/><circle cx="281.9" cy="289.9" r="6.4" fill="url(#ga)"/><circle cx="721.9" cy="313.2" r="7" fill="url(#ga)"/><circle cx="666.8" cy="387.4" r="7.4" fill="url(#ba)"/><circle cx="337.8" cy="379.9" r="7.7" fill="url(#ga)"/><circle cx="506.8" cy="338.2" r="6.9" fill="url(#ga)"/><circle cx="606.1" cy="211.3" r="7" fill="url(#ba)"/><circle cx="728.6" cy="215.7" r="6.9" fill="url(#ba)"/><circle cx="741.4" cy="249.4" r="6.3" fill="url(#ba)"/><circle cx="302.8" cy="392.3" r="7.1" fill="url(#ga)"/><circle cx="398.3" cy="360.6" r="6.7" fill="url(#ba)"/><circle cx="774.5" cy="243" r="6.3" fill="url(#ba)"/><circle cx="733.9" cy="391.6" r="7.5" fill="url(#ga)"/><circle cx="673.3" cy="337.1" r="7.3" fill="url(#ga)"/><circle cx="388.2" cy="270.6" r="7.3" fill="url(#ba)"/><circle cx="742" cy="399.4" r="6.6" fill="url(#ga)"/><circle cx="526.3" cy="262.5" r="6.4" fill="url(#ga)"/><circle cx="388.7" cy="313.1" r="6.4" fill="url(#ga)"/><circle cx="325.7" cy="396.1" r="7.6" fill="url(#ga)"/><circle cx="499.7" cy="208.7" r="7.6" fill="url(#ba)"/><circle cx="592.8" cy="325.6" r="7.4" fill="url(#ba)"/><circle cx="428.6" cy="266.7" r="7.2" fill="url(#ba)"/><circle cx="554.2" cy="166.4" r="7.6" fill="url(#ga)"/><circle cx="306.5" cy="329.1" r="7" fill="url(#ga)"/><circle cx="461" cy="386.7" r="6.8" fill="url(#ba)"/><circle cx="320.8" cy="292.6" r="7.2" fill="url(#ga)"/><circle cx="326.8" cy="348.8" r="7.1" fill="url(#ga)"/><circle cx="715.5" cy="321.9" r="6.3" fill="url(#ga)"/><circle cx="495.2" cy="356" r="7.1" fill="url(#ba)"/><circle cx="527.1" cy="306.3" r="6.9" fill="url(#ba)"/><circle cx="517.3" cy="153.1" r="7" fill="url(#ga)"/><circle cx="272.9" cy="257.5" r="7.6" fill="url(#ba)"/><circle cx="229.1" cy="375.6" r="6.6" fill="url(#ba)"/><circle cx="364.9" cy="248.7" r="7.7" fill="url(#ga)"/><circle cx="682" cy="268" r="6.4" fill="url(#ga)"/><circle cx="727.7" cy="396.4" r="6.7" fill="url(#ga)"/><circle cx="803.5" cy="304.3" r="6.7" fill="url(#ga)"/><circle cx="678.1" cy="260" r="7.1" fill="url(#ga)"/><circle cx="558" cy="401.2" r="6.8" fill="url(#ba)"/><circle cx="470" cy="243" r="7.2" fill="url(#ga)"/><circle cx="459.4" cy="266.3" r="6.9" fill="url(#ga)"/><circle cx="471.4" cy="323" r="7.3" fill="url(#ga)"/><circle cx="422.4" cy="324.3" r="7.2" fill="url(#ga)"/><circle cx="376" cy="201.9" r="6.4" fill="url(#ba)"/><circle cx="339.3" cy="242.2" r="6.8" fill="url(#ga)"/><circle cx="296.9" cy="289.3" r="6.9" fill="url(#ga)"/><circle cx="395.6" cy="275.6" r="7.5" fill="url(#ga)"/><circle cx="557.8" cy="246.4" r="7.4" fill="url(#ga)"/><circle cx="567.8" cy="312.1" r="6.8" fill="url(#ga)"/><circle cx="489.7" cy="365.1" r="6.4" fill="url(#ba)"/><circle cx="704.2" cy="193.4" r="6.7" fill="url(#ga)"/><circle cx="256.2" cy="250.1" r="6.3" fill="url(#ba)"/><circle cx="318.8" cy="370.4" r="6.6" fill="url(#ga)"/><circle cx="794.1" cy="336.9" r="6.6" fill="url(#ba)"/><circle cx="806.6" cy="287.5" r="6.7" fill="url(#ga)"/><circle cx="668.3" cy="194.5" r="7" fill="url(#ga)"/><circle cx="481.5" cy="381.2" r="6.7" fill="url(#ba)"/><circle cx="553.2" cy="277.2" r="6.5" fill="url(#ba)"/><circle cx="376.3" cy="226.3" r="7.6" fill="url(#ba)"/><circle cx="408.9" cy="364.5" r="6.8" fill="url(#ba)"/><circle cx="623.7" cy="428" r="7.4" fill="url(#ga)"/><circle cx="566.2" cy="220.3" r="6.6" fill="url(#ba)"/><circle cx="726.5" cy="383.4" r="7" fill="url(#ga)"/><circle cx="271.7" cy="274.2" r="6.7" fill="url(#ga)"/><circle cx="592" cy="297.7" r="7.5" fill="url(#ba)"/><circle cx="810.4" cy="300.7" r="7.4" fill="url(#ga)"/><circle cx="763.8" cy="189.1" r="7.1" fill="url(#ba)"/><circle cx="343.5" cy="392.1" r="7.3" fill="url(#ga)"/><circle cx="481.7" cy="408.7" r="7.4" fill="url(#ba)"/><circle cx="641.9" cy="192.8" r="7.2" fill="url(#ba)"/><circle cx="774.1" cy="366" r="6.4" fill="url(#ga)"/><circle cx="289.7" cy="261.3" r="7.5" fill="url(#ba)"/><circle cx="317.3" cy="239.4" r="6.5" fill="url(#ba)"/><circle cx="670.1" cy="313" r="7.5" fill="url(#ga)"/><circle cx="548.5" cy="308" r="7.5" fill="url(#ba)"/><circle cx="688.5" cy="304" r="6.5" fill="url(#ba)"/><circle cx="406.6" cy="296" r="7.3" fill="url(#ga)"/><circle cx="421.9" cy="298.9" r="6.4" fill="url(#ga)"/><circle cx="598.9" cy="190" r="7.6" fill="url(#ga)"/><circle cx="687.8" cy="247.4" r="6.6" fill="url(#ba)"/><circle cx="655.4" cy="367.2" r="6.5" fill="url(#ga)"/><circle cx="320.7" cy="190.6" r="6.9" fill="url(#ga)"/><circle cx="340.9" cy="406.2" r="7.3" fill="url(#ga)"/><circle cx="554.2" cy="335.4" r="7.1" fill="url(#ga)"/><circle cx="767.6" cy="247.1" r="6.4" fill="url(#ga)"/><circle cx="300.3" cy="281.7" r="7.4" fill="url(#ga)"/><circle cx="537" cy="334.6" r="7.5" fill="url(#ga)"/><circle cx="688.3" cy="295.5" r="7.5" fill="url(#ba)"/><circle cx="290.3" cy="349.4" r="7" fill="url(#ga)"/><circle cx="400.5" cy="318" r="6.4" fill="url(#ga)"/><circle cx="225" cy="259.7" r="7.5" fill="url(#ga)"/><circle cx="763.7" cy="264.8" r="7.2" fill="url(#ga)"/><circle cx="365.1" cy="209" r="7.5" fill="url(#ba)"/><circle cx="719.6" cy="260.7" r="7.6" fill="url(#ba)"/><circle cx="293.2" cy="197.2" r="6.6" fill="url(#ba)"/><circle cx="456.8" cy="379.1" r="6.3" fill="url(#ga)"/><circle cx="352.9" cy="295.7" r="6.7" fill="url(#ga)"/><circle cx="290.7" cy="392.8" r="7" fill="url(#ga)"/><circle cx="372.5" cy="332.2" r="7.6" fill="url(#ga)"/><circle cx="623.1" cy="184.1" r="6.4" fill="url(#ga)"/><circle cx="635.8" cy="186.7" r="6.5" fill="url(#ga)"/><circle cx="482" cy="217.2" r="7.1" fill="url(#ba)"/><circle cx="304.4" cy="220.1" r="7.6" fill="url(#ba)"/><circle cx="526.4" cy="411.5" r="7.5" fill="url(#ba)"/><circle cx="680" cy="174.3" r="7.6" fill="url(#ba)"/><circle cx="520.8" cy="370.2" r="7.4" fill="url(#ba)"/><circle cx="564.9" cy="255.6" r="6.5" fill="url(#ga)"/><circle cx="520.7" cy="184.6" r="6.7" fill="url(#ba)"/><circle cx="648.4" cy="237.9" r="7.2" fill="url(#ba)"/><circle cx="781.6" cy="323.2" r="7.4" fill="url(#ga)"/><circle cx="539" cy="162.9" r="6.3" fill="url(#ga)"/><circle cx="462.9" cy="402.8" r="7.3" fill="url(#ba)"/><circle cx="445" cy="328.2" r="7.1" fill="url(#ga)"/><circle cx="353" cy="310" r="7.3" fill="url(#ba)"/><circle cx="423.2" cy="393.6" r="6.3" fill="url(#ba)"/><circle cx="610.6" cy="229.9" r="7.4" fill="url(#ga)"/><circle cx="714" cy="355" r="7.5" fill="url(#ga)"/><circle cx="755.4" cy="271.8" r="7.3" fill="url(#ba)"/><circle cx="468.1" cy="299.8" r="6.5" fill="url(#ba)"/><circle cx="627.9" cy="374.3" r="6.7" fill="url(#ba)"/><circle cx="484" cy="311.9" r="7.7" fill="url(#ba)"/><circle cx="453.9" cy="310" r="6.7" fill="url(#ga)"/><circle cx="550.3" cy="159.4" r="7" fill="url(#ga)"/><circle cx="454.1" cy="336" r="6.9" fill="url(#ga)"/><circle cx="447.3" cy="301.5" r="7.3" fill="url(#ga)"/><circle cx="585.6" cy="364" r="7.5" fill="url(#ga)"/><circle cx="690" cy="161.5" r="7.4" fill="url(#ba)"/><circle cx="674.7" cy="392" r="7.5" fill="url(#ga)"/><circle cx="580.4" cy="373.8" r="6.5" fill="url(#ga)"/><circle cx="251.6" cy="389.4" r="7.2" fill="url(#ba)"/><circle cx="618.8" cy="283.7" r="6.9" fill="url(#ba)"/><circle cx="802.6" cy="262" r="7.3" fill="url(#ga)"/><circle cx="674.1" cy="268.8" r="6.3" fill="url(#ba)"/><circle cx="746.3" cy="243.1" r="7.6" fill="url(#ga)"/><circle cx="519.6" cy="404.6" r="6.6" fill="url(#ba)"/><circle cx="515.8" cy="323" r="6.5" fill="url(#ga)"/><circle cx="577.2" cy="329.3" r="7.5" fill="url(#ba)"/><circle cx="312.9" cy="227.5" r="6.9" fill="url(#ga)"/><circle cx="338" cy="353" r="6.6" fill="url(#ga)"/><circle cx="603.5" cy="159.6" r="6.9" fill="url(#ba)"/><circle cx="661.4" cy="299.2" r="6.8" fill="url(#ga)"/><circle cx="533.9" cy="343.1" r="6.9" fill="url(#ga)"/><circle cx="532.6" cy="416.4" r="7.6" fill="url(#ba)"/><circle cx="536.9" cy="172.3" r="6.5" fill="url(#ba)"/><circle cx="384.3" cy="228.4" r="6.6" fill="url(#ba)"/><circle cx="471.1" cy="185.6" r="7.1" fill="url(#ga)"/><circle cx="770.1" cy="216.8" r="6.7" fill="url(#ba)"/><circle cx="232.2" cy="283.6" r="6.6" fill="url(#ga)"/><circle cx="645.4" cy="319.9" r="7.5" fill="url(#ga)"/><circle cx="414.5" cy="351.6" r="7.6" fill="url(#ba)"/><circle cx="279" cy="310.4" r="6.3" fill="url(#ga)"/><circle cx="427.1" cy="317" r="6.4" fill="url(#ga)"/><circle cx="592.7" cy="376.7" r="7" fill="url(#ga)"/><circle cx="552.2" cy="327" r="6.6" fill="url(#ba)"/><circle cx="546.9" cy="409.5" r="7.5" fill="url(#ga)"/><circle cx="662" cy="187.4" r="6.5" fill="url(#ga)"/><circle cx="500.6" cy="223" r="7.6" fill="url(#ga)"/><circle cx="585.4" cy="329.5" r="7.7" fill="url(#ba)"/><circle cx="543.5" cy="288.2" r="7" fill="url(#ga)"/><circle cx="640.3" cy="349.1" r="7.2" fill="url(#ba)"/><circle cx="588.7" cy="256.6" r="7" fill="url(#ga)"/><circle cx="321.5" cy="231" r="7.2" fill="url(#ba)"/><circle cx="441.9" cy="338.4" r="6.5" fill="url(#ba)"/><circle cx="562.9" cy="167.3" r="6.5" fill="url(#ga)"/><circle cx="715.1" cy="199.4" r="6.7" fill="url(#ba)"/><circle cx="758.9" cy="247.6" r="6.9" fill="url(#ba)"/><circle cx="247.5" cy="333.7" r="7.3" fill="url(#ba)"/><circle cx="799.4" cy="282.4" r="7" fill="url(#ba)"/><circle cx="756.3" cy="186.9" r="6.7" fill="url(#ba)"/><circle cx="544.6" cy="375" r="7.1" fill="url(#ba)"/><circle cx="393.8" cy="195.8" r="7.1" fill="url(#ba)"/><circle cx="504.7" cy="323.1" r="7.6" fill="url(#ba)"/><circle cx="609.7" cy="314.4" r="6.5" fill="url(#ga)"/><circle cx="308.2" cy="208" r="6.8" fill="url(#ba)"/><circle cx="449.6" cy="403.1" r="7.3" fill="url(#ga)"/><circle cx="797.2" cy="372.2" r="6.3" fill="url(#ga)"/><circle cx="497.5" cy="331.7" r="7.1" fill="url(#ba)"/><circle cx="288.1" cy="280.7" r="6.4" fill="url(#ga)"/><circle cx="734.1" cy="402.3" r="7.6" fill="url(#ga)"/><circle cx="543.3" cy="156.1" r="6.3" fill="url(#ba)"/><circle cx="679.1" cy="368.1" r="6.3" fill="url(#ba)"/><circle cx="750.3" cy="251.1" r="7.5" fill="url(#ba)"/><circle cx="685.9" cy="239.5" r="7.2" fill="url(#ba)"/><circle cx="751.5" cy="364.2" r="7.1" fill="url(#ra1)"/><circle cx="701.2" cy="378.2" r="6.9" fill="url(#ba)"/><circle cx="241.5" cy="364" r="6.7" fill="url(#ba)"/><circle cx="391.7" cy="302.7" r="6.8" fill="url(#ga)"/><circle cx="721.8" cy="291.3" r="6.6" fill="url(#ba)"/><circle cx="534.6" cy="228.9" r="7.4" fill="url(#ba)"/><circle cx="704.6" cy="244.1" r="6.6" fill="url(#ga)"/><circle cx="370.3" cy="399.5" r="6.9" fill="url(#ba)"/><circle cx="583.5" cy="313.1" r="6.6" fill="url(#ra1)"/><circle cx="625.4" cy="218.1" r="7.5" fill="url(#ga)"/><circle cx="611" cy="284.9" r="7.4" fill="url(#ba)"/><circle cx="624.6" cy="313.4" r="7.3" fill="url(#ga)"/><circle cx="593.9" cy="200.6" r="6.7" fill="url(#ba)"/><circle cx="227.1" cy="301.5" r="6.8" fill="url(#ga)"/><circle cx="353.7" cy="329.7" r="7.7" fill="url(#ba)"/><circle cx="271.8" cy="325.9" r="7.2" fill="url(#ba)"/><circle cx="729.7" cy="337.4" r="7.3" fill="url(#ba)"/><circle cx="791.6" cy="299.1" r="7.1" fill="url(#ba)"/><circle cx="349.5" cy="365.9" r="6.3" fill="url(#ga)"/><circle cx="375.3" cy="387" r="6.9" fill="url(#ba)"/><circle cx="478.2" cy="318.8" r="6.8" fill="url(#ga)"/><circle cx="611.5" cy="221.1" r="7" fill="url(#ba)"/><circle cx="528.3" cy="297.7" r="7.3" fill="url(#ba)"/><circle cx="734.9" cy="354.6" r="7.3" fill="url(#ga)"/><circle cx="249" cy="227.8" r="7.6" fill="url(#ra1)"/><circle cx="503.2" cy="361.9" r="6.4" fill="url(#ga)"/><circle cx="383.8" cy="238.7" r="6.9" fill="url(#ga)"/><circle cx="745.4" cy="197.7" r="7" fill="url(#ba)"/><circle cx="545.7" cy="335.8" r="7.3" fill="url(#ga)"/><circle cx="270.2" cy="345.2" r="7.7" fill="url(#ga)"/><circle cx="507" cy="256.2" r="7.4" fill="url(#ga)"/><circle cx="292.8" cy="318.3" r="6.9" fill="url(#ba)"/><circle cx="788.5" cy="356" r="7" fill="url(#ba)"/><circle cx="374.1" cy="281" r="6.5" fill="url(#ba)"/><circle cx="687.7" cy="261.7" r="7" fill="url(#ga)"/><circle cx="579.1" cy="385" r="6.5" fill="url(#ba)"/><circle cx="428.8" cy="369.2" r="6.7" fill="url(#ga)"/><circle cx="696.8" cy="203.6" r="7.3" fill="url(#ga)"/><circle cx="733.7" cy="275.8" r="6.7" fill="url(#ba)"/><circle cx="639.7" cy="298.9" r="7.6" fill="url(#ga)"/><circle cx="439.8" cy="386" r="7.2" fill="url(#ba)"/><circle cx="677.6" cy="250.1" r="6.8" fill="url(#ba)"/><circle cx="233.4" cy="330" r="7.1" fill="url(#ba)"/><circle cx="469.4" cy="407.6" r="7.4" fill="url(#ba)"/><circle cx="782.2" cy="243.8" r="6.9" fill="url(#ba)"/><circle cx="522.1" cy="208.7" r="7.4" fill="url(#ba)"/><circle cx="349.4" cy="338.2" r="6.8" fill="url(#ba)"/><circle cx="777.3" cy="177.3" r="6.5" fill="url(#ba)"/><circle cx="552.9" cy="376" r="7.3" fill="url(#ba)"/><circle cx="753.9" cy="302.3" r="7.2" fill="url(#ba)"/><circle cx="339.9" cy="255.3" r="6.7" fill="url(#ga)"/><circle cx="340.5" cy="294.5" r="7.2" fill="url(#ga)"/><circle cx="267.7" cy="235.4" r="6.4" fill="url(#ba)"/><circle cx="499" cy="419.6" r="6.5" fill="url(#ba)"/><circle cx="688.2" cy="280.2" r="6.8" fill="url(#ba)"/><circle cx="692.9" cy="212.3" r="7.5" fill="url(#ga)"/><circle cx="460.9" cy="412.8" r="6.6" fill="url(#ga)"/><circle cx="799.3" cy="222" r="7.5" fill="url(#ga)"/><circle cx="317.7" cy="312.2" r="6.4" fill="url(#ba)"/><circle cx="632.9" cy="289.2" r="6.4" fill="url(#ba)"/><circle cx="761.2" cy="294.5" r="7.3" fill="url(#ga)"/><circle cx="460.2" cy="317.9" r="6.5" fill="url(#ga)"/><circle cx="761.5" cy="239.5" r="7.6" fill="url(#ba)"/><circle cx="346.6" cy="286.3" r="7.7" fill="url(#ba)"/><circle cx="335.4" cy="392" r="7.3" fill="url(#ga)"/><circle cx="280.2" cy="401.9" r="6.5" fill="url(#ga)"/><circle cx="756.3" cy="258.5" r="6.4" fill="url(#ga)"/><circle cx="604.9" cy="326.7" r="6.6" fill="url(#ga)"/><circle cx="559.4" cy="283.6" r="7.3" fill="url(#ga)"/><circle cx="282" cy="380.8" r="6.6" fill="url(#ba)"/><circle cx="599.3" cy="255.6" r="6.4" fill="url(#ga)"/><circle cx="667.4" cy="321.6" r="6.9" fill="url(#ba)"/><circle cx="700" cy="295.4" r="7.5" fill="url(#ba)"/><circle cx="422.5" cy="410" r="7.3" fill="url(#ba)"/><circle cx="719.6" cy="400.7" r="7.4" fill="url(#ga)"/><circle cx="765.7" cy="287.6" r="6.6" fill="url(#ba)"/><circle cx="368.6" cy="272" r="6.7" fill="url(#ba)"/><circle cx="659.3" cy="406.9" r="6.6" fill="url(#ba)"/><circle cx="231.2" cy="294.4" r="6.4" fill="url(#ga)"/><circle cx="533.4" cy="355.8" r="7.6" fill="url(#ga)"/><circle cx="349.6" cy="355.1" r="6.6" fill="url(#ra1)"/><circle cx="475.1" cy="389.3" r="7.5" fill="url(#ba)"/><circle cx="775" cy="345" r="6.9" fill="url(#ga)"/><circle cx="426.2" cy="235.5" r="7.3" fill="url(#ga)"/><circle cx="619.5" cy="338.5" r="7.3" fill="url(#ba)"/><circle cx="793.8" cy="190.2" r="7.6" fill="url(#ga)"/><circle cx="506.8" cy="214.8" r="7.3" fill="url(#ba)"/><circle cx="560.6" cy="383.2" r="6.6" fill="url(#ba)"/><circle cx="255.3" cy="316.3" r="6.8" fill="url(#ba)"/><circle cx="261.6" cy="243.3" r="6.5" fill="url(#ga)"/><circle cx="648.1" cy="224.5" r="7.2" fill="url(#ba)"/><circle cx="366.6" cy="257.8" r="7.3" fill="url(#ga)"/><circle cx="496.8" cy="368.6" r="7" fill="url(#ga)"/><circle cx="784.9" cy="182.8" r="7.1" fill="url(#ga)"/><circle cx="706.1" cy="208.1" r="7.1" fill="url(#ba)"/><circle cx="451" cy="356.2" r="7.5" fill="url(#ga)"/><circle cx="453" cy="294.7" r="7" fill="url(#ba)"/><circle cx="718.4" cy="233.7" r="6.8" fill="url(#ba)"/><circle cx="398.4" cy="309.3" r="6.4" fill="url(#ba)"/><circle cx="383.6" cy="407.2" r="6.9" fill="url(#ba)"/><circle cx="558.1" cy="343.2" r="6.4" fill="url(#ba)"/><circle cx="533.2" cy="365.3" r="7.3" fill="url(#ba)"/><circle cx="480.9" cy="326.9" r="6.9" fill="url(#ba)"/><circle cx="664.7" cy="243.2" r="6.4" fill="url(#ga)"/><circle cx="652.3" cy="340.7" r="6.6" fill="url(#ga)"/><circle cx="660.9" cy="232.1" r="6.6" fill="url(#ba)"/><circle cx="649.4" cy="296.1" r="6.3" fill="url(#ga)"/><circle cx="809.8" cy="268.4" r="7.5" fill="url(#ba)"/><circle cx="320.9" cy="389" r="6.7" fill="url(#ba)"/><circle cx="636" cy="199.5" r="6.5" fill="url(#ba)"/><circle cx="619.5" cy="352.1" r="6.3" fill="url(#ba)"/><circle cx="707" cy="402.6" r="6.7" fill="url(#ba)"/><circle cx="669.7" cy="250.4" r="7.3" fill="url(#ba)"/><circle cx="575.6" cy="313.1" r="6.3" fill="url(#ra1)"/><circle cx="338" cy="325.6" r="6.4" fill="url(#ga)"/><circle cx="267.7" cy="248.6" r="6.3" fill="url(#ba)"/><circle cx="733.7" cy="308.6" r="7" fill="url(#ga)"/><circle cx="273.7" cy="301.6" r="7.1" fill="url(#ba)"/><circle cx="566.8" cy="239.6" r="7.3" fill="url(#ba)"/><circle cx="809.5" cy="322.7" r="6.8" fill="url(#ga)"/><circle cx="620.6" cy="248.1" r="7.5" fill="url(#ga)"/><circle cx="233.4" cy="262.7" r="6.5" fill="url(#ga)"/><circle cx="543.1" cy="296.4" r="6.4" fill="url(#ga)"/><circle cx="286.2" cy="182.9" r="6.5" fill="url(#ba)"/><circle cx="509" cy="371.2" r="7" fill="url(#ga)"/><circle cx="749.3" cy="262.4" r="6.4" fill="url(#ga)"/><circle cx="445.3" cy="243.1" r="7.5" fill="url(#ga)"/><circle cx="782.7" cy="333.7" r="7" fill="url(#ga)"/><circle cx="785.5" cy="222.3" r="7.7" fill="url(#ba)"/><circle cx="445" cy="350.3" r="7.1" fill="url(#ba)"/><circle cx="274.1" cy="362.6" r="7.5" fill="url(#ga)"/><circle cx="239.6" cy="385.9" r="6.8" fill="url(#ga)"/><circle cx="275.5" cy="249.1" r="7.4" fill="url(#ba)"/><circle cx="350.6" cy="220.1" r="7.2" fill="url(#ba)"/><circle cx="448.4" cy="378.8" r="6.5" fill="url(#ga)"/><circle cx="680.7" cy="402.5" r="6.8" fill="url(#ga)"/><circle cx="556.6" cy="263" r="6.8" fill="url(#ga)"/><circle cx="293.4" cy="331.3" r="7.3" fill="url(#ba)"/><circle cx="389" cy="373.4" r="7.1" fill="url(#ga)"/><circle cx="449.2" cy="216.4" r="6.6" fill="url(#ba)"/><circle cx="271.3" cy="317.6" r="7.2" fill="url(#ba)"/><circle cx="450.9" cy="257.3" r="7.2" fill="url(#ga)"/><circle cx="470.9" cy="223.5" r="7.1" fill="url(#ba)"/><circle cx="289.7" cy="223.6" r="7.7" fill="url(#ba)"/><circle cx="734.4" cy="263.7" r="7.5" fill="url(#ba)"/><circle cx="567.8" cy="284" r="6.3" fill="url(#ga)"/><circle cx="717.3" cy="180.5" r="7.6" fill="url(#ga)"/><circle cx="768.4" cy="333" r="6.6" fill="url(#ga)"/><circle cx="642.6" cy="289.9" r="6.7" fill="url(#ga)"/><circle cx="721.8" cy="353.9" r="7.1" fill="url(#ga)"/><circle cx="512.8" cy="208.7" r="6.7" fill="url(#ga)"/><circle cx="404.7" cy="354" r="6.8" fill="url(#ga)"/><circle cx="638.9" cy="420" r="7.6" fill="url(#ga)"/><circle cx="506.8" cy="282.6" r="7.5" fill="url(#ga)"/><circle cx="535.4" cy="214.2" r="7.2" fill="url(#ba)"/><circle cx="639.8" cy="339.8" r="7" fill="url(#ba)"/><circle cx="646" cy="209.9" r="6.9" fill="url(#ba)"/><circle cx="425.6" cy="212.1" r="7" fill="url(#ga)"/><circle cx="434" cy="342.5" r="7.5" fill="url(#ga)"/><circle cx="618.1" cy="214.9" r="6.7" fill="url(#ba)"/><circle cx="452" cy="238.4" r="7" fill="url(#ga)"/><circle cx="405.2" cy="204.1" r="7.1" fill="url(#ga)"/><circle cx="632.6" cy="270.9" r="6.9" fill="url(#ba)"/><circle cx="478" cy="249.4" r="6.3" fill="url(#ga)"/><circle cx="257.9" cy="203.3" r="6.6" fill="url(#ya1)"/><circle cx="633.8" cy="356.4" r="7.3" fill="url(#ba)"/><circle cx="310.3" cy="181.3" r="7.3" fill="url(#ga)"/><circle cx="473.3" cy="215.9" r="7.3" fill="url(#ga)"/><circle cx="536" cy="293.1" r="6.4" fill="url(#ga)"/><circle cx="617.9" cy="203.8" r="7.4" fill="url(#ga)"/><circle cx="608.7" cy="292.4" r="6.9" fill="url(#ba)"/><circle cx="471.9" cy="332.1" r="7.2" fill="url(#ba)"/><circle cx="575.2" cy="360.3" r="7.7" fill="url(#ba)"/><circle cx="575.6" cy="280.5" r="6.7" fill="url(#ga)"/><circle cx="624.5" cy="196.8" r="7.3" fill="url(#ga)"/><circle cx="750.1" cy="309.9" r="6.9" fill="url(#ga)"/><circle cx="792.7" cy="379" r="7.1" fill="url(#ga)"/><circle cx="779.6" cy="283.8" r="7.1" fill="url(#ba)"/><circle cx="422.9" cy="249" r="6.3" fill="url(#ba)"/><circle cx="601.5" cy="203.3" r="7.4" fill="url(#ba)"/><circle cx="345.2" cy="247.9" r="7.3" fill="url(#ba)"/><circle cx="427.6" cy="274.5" r="6.5" fill="url(#ba)"/><circle cx="490.7" cy="392.6" r="7.4" fill="url(#ga)"/><circle cx="537.4" cy="200.4" r="7.4" fill="url(#ba)"/><circle cx="606" cy="185.9" r="6.9" fill="url(#ga)"/><circle cx="304.9" cy="306" r="6.4" fill="url(#ba)"/><circle cx="701.4" cy="175.3" r="7.4" fill="url(#ba)"/><circle cx="669.9" cy="258.4" r="6.5" fill="url(#ga)"/><circle cx="775.3" cy="337.2" r="6.6" fill="url(#ba)"/><circle cx="307.5" cy="374.3" r="6.8" fill="url(#ba)"/><circle cx="298.9" cy="399.4" r="6.4" fill="url(#ga)"/><circle cx="515.3" cy="234.6" r="6.6" fill="url(#ga)"/><circle cx="280.6" cy="388.6" r="7.6" fill="url(#ga)"/><circle cx="789.3" cy="214.8" r="7.6" fill="url(#ga)"/><circle cx="440.8" cy="321.4" r="7.5" fill="url(#ba)"/><circle cx="311.9" cy="392.1" r="6.4" fill="url(#ba)"/><circle cx="555.4" cy="150.5" r="6.4" fill="url(#ga)"/><circle cx="577.8" cy="348.2" r="7.3" fill="url(#ba)"/><circle cx="495" cy="228.4" r="7.1" fill="url(#ga)"/><circle cx="360.3" cy="361.6" r="6.7" fill="url(#ga)"/><circle cx="511.1" cy="242.3" r="7" fill="url(#ga)"/><circle cx="747.4" cy="206.7" r="7.2" fill="url(#ga)"/><circle cx="532.9" cy="374.3" r="6.9" fill="url(#ga)"/><circle cx="626.3" cy="255.1" r="6.5" fill="url(#ga)"/><circle cx="505.5" cy="183.6" r="6.6" fill="url(#ba)"/><circle cx="482" cy="367.4" r="7.1" fill="url(#ba)"/><circle cx="608" cy="360.6" r="6.6" fill="url(#ba)"/><circle cx="523.9" cy="337.8" r="7" fill="url(#ga)"/><circle cx="501" cy="247.2" r="7.2" fill="url(#ba)"/><circle cx="290.4" cy="309.3" r="7.4" fill="url(#ba)"/><circle cx="314.7" cy="341.3" r="6.9" fill="url(#ba)"/><circle cx="716.1" cy="344.7" r="6.8" fill="url(#ba)"/><circle cx="255.4" cy="332.7" r="7.5" fill="url(#ba)"/><circle cx="308.5" cy="360.8" r="7" fill="url(#ga)"/><circle cx="595.5" cy="165.4" r="7.5" fill="url(#ga)"/><circle cx="490.1" cy="210.3" r="7.5" fill="url(#ba)"/><circle cx="409.5" cy="253.3" r="7.6" fill="url(#ba)"/><circle cx="350.8" cy="211.4" r="6.7" fill="url(#ba)"/><circle cx="542.5" cy="363.5" r="6.6" fill="url(#ga)"/><circle cx="441.3" cy="366" r="7.1" fill="url(#ga)"/><circle cx="752.1" cy="327.9" r="7.5" fill="url(#ga)"/><circle cx="339.7" cy="197.2" r="6.5" fill="url(#ga)"/><circle cx="614.7" cy="253.5" r="7.5" fill="url(#ba)"/><circle cx="550.4" cy="385.6" r="6.8" fill="url(#ba)"/><circle cx="581.7" cy="355.7" r="6.5" fill="url(#ba)"/><circle cx="459.8" cy="228.1" r="7.6" fill="url(#ba)"/><circle cx="539.5" cy="412.9" r="7" fill="url(#ga)"/><circle cx="663.5" cy="219.6" r="7" fill="url(#ba)"/><circle cx="629.1" cy="349.2" r="6.9" fill="url(#ba)"/><circle cx="680" cy="329.3" r="6.8" fill="url(#ga)"/><circle cx="278.1" cy="372" r="6.5" fill="url(#ga)"/><circle cx="608.6" cy="375.6" r="6.5" fill="url(#ga)"/><circle cx="262.8" cy="274.5" r="6.4" fill="url(#ga)"/><circle cx="712.3" cy="240.9" r="6.9" fill="url(#ga)"/><circle cx="361.2" cy="217.2" r="7.6" fill="url(#ba)"/><circle cx="342.7" cy="272.4" r="6.4" fill="url(#ba)"/><circle cx="328" cy="276.7" r="6.9" fill="url(#ga)"/><circle cx="762.9" cy="390.1" r="6.3" fill="url(#ba)"/><circle cx="384.7" cy="253.5" r="7.2" fill="url(#ba)"/><circle cx="249" cy="366" r="6.3" fill="url(#ga)"/><circle cx="771.5" cy="271.3" r="6.7" fill="url(#ba)"/><circle cx="699.8" cy="261.7" r="7.2" fill="url(#ga)"/><circle cx="625.6" cy="264" r="6.6" fill="url(#ga)"/><circle cx="793.5" cy="364.9" r="6.8" fill="url(#ga)"/><circle cx="465.4" cy="290" r="6.9" fill="url(#ba)"/><circle cx="704.3" cy="185.3" r="7.3" fill="url(#ba)"/><circle cx="369" cy="365.3" r="7.2" fill="url(#ga)"/><circle cx="308.2" cy="240.9" r="7.6" fill="url(#ga)"/><circle cx="610" cy="168.2" r="7.7" fill="url(#ra1)"/><circle cx="751.2" cy="376" r="6.9" fill="url(#ra1)"/><circle cx="457.1" cy="251.3" r="7.1" fill="url(#ga)"/><circle cx="655" cy="285.4" r="6.4" fill="url(#ba)"/><circle cx="259.3" cy="325.9" r="6.7" fill="url(#ba)"/><circle cx="401.4" cy="409.3" r="7.7" fill="url(#ba)"/><circle cx="625.2" cy="383.9" r="6.8" fill="url(#ga)"/><circle cx="545" cy="146.4" r="7.6" fill="url(#ba)"/><circle cx="420.3" cy="204.5" r="6.8" fill="url(#ga)"/><circle cx="328" cy="406.9" r="7.5" fill="url(#ba)"/><circle cx="763" cy="399" r="7.3" fill="url(#ga)"/><circle cx="595.4" cy="396.7" r="7.6" fill="url(#ga)"/><circle cx="251.2" cy="240.3" r="7.3" fill="url(#ba)"/><circle cx="490.4" cy="326" r="7" fill="url(#ba)"/><circle cx="525.6" cy="380.3" r="7.6" fill="url(#ba)"/><circle cx="569" cy="338.6" r="6.5" fill="url(#ba)"/><circle cx="444.2" cy="278" r="6.6" fill="url(#ba)"/><circle cx="480.3" cy="260.8" r="6.6" fill="url(#ba)"/><circle cx="795" cy="348.9" r="7.7" fill="url(#ba)"/><circle cx="695.1" cy="195.8" r="6.4" fill="url(#ga)"/><circle cx="340.4" cy="232.8" r="7" fill="url(#ba)"/><circle cx="587.3" cy="182.8" r="7.2" fill="url(#ba)"/><circle cx="512.3" cy="187.3" r="6.6" fill="url(#ba)"/><circle cx="792.8" cy="320.8" r="6.5" fill="url(#ga)"/><circle cx="633.9" cy="387.6" r="7.5" fill="url(#ga)"/><circle cx="265.9" cy="195.2" r="6.3" fill="url(#ba)"/><circle cx="615.9" cy="240.1" r="6.8" fill="url(#ba)"/><circle cx="443.3" cy="209" r="6.4" fill="url(#ba)"/><circle cx="248.7" cy="374.2" r="6.8" fill="url(#ga)"/><circle cx="436.8" cy="244.8" r="7.7" fill="url(#ga)"/><circle cx="510.7" cy="359.4" r="7.5" fill="url(#ba)"/><circle cx="662.9" cy="329.1" r="7.6" fill="url(#ga)"/><circle cx="568.3" cy="207.4" r="7.5" fill="url(#ba)"/><circle cx="687.3" cy="337.2" r="7.5" fill="url(#ba)"/><circle cx="590.2" cy="277.7" r="7.5" fill="url(#ba)"/><circle cx="624" cy="240.4" r="7.1" fill="url(#ga)"/><circle cx="351.4" cy="393.6" r="7.5" fill="url(#ga)"/><circle cx="589.8" cy="149" r="7.6" fill="url(#ga)"/><circle cx="706.3" cy="159.8" r="6.9" fill="url(#ga)"/><circle cx="644.6" cy="375.3" r="7.5" fill="url(#ga)"/><circle cx="530.4" cy="162.6" r="7.1" fill="url(#ba)"/><circle cx="643.8" cy="386.5" r="6.5" fill="url(#ba)"/><circle cx="519.5" cy="174.6" r="7.3" fill="url(#ga)"/><circle cx="798.1" cy="201.3" r="6.4" fill="url(#ba)"/><circle cx="342.6" cy="189.8" r="7.3" fill="url(#ba)"/><circle cx="594.4" cy="343.6" r="6.9" fill="url(#ga)"/><circle cx="541.3" cy="264.7" r="6.8" fill="url(#ga)"/><circle cx="604.7" cy="368.7" r="7.4" fill="url(#ga)"/><circle cx="668.5" cy="400.9" r="7.1" fill="url(#ba)"/><circle cx="362.6" cy="285.1" r="6.6" fill="url(#ga)"/><circle cx="381.1" cy="274.4" r="6.5" fill="url(#ba)"/><circle cx="351.6" cy="227.9" r="7.3" fill="url(#ba)"/><circle cx="281.5" cy="221.1" r="6.6" fill="url(#ga)"/><circle cx="636.3" cy="373" r="7.5" fill="url(#ba)"/><circle cx="454.5" cy="327" r="7.4" fill="url(#ga)"/><circle cx="324.8" cy="365.2" r="7.2" fill="url(#ga)"/><circle cx="465.8" cy="271.3" r="6.4" fill="url(#ga)"/><circle cx="713.2" cy="168.3" r="6.8" fill="url(#ga)"/><circle cx="793.2" cy="277.8" r="7.2" fill="url(#ga)"/><circle cx="407.3" cy="287" r="7.4" fill="url(#ga)"/><circle cx="739.8" cy="297.7" r="6.6" fill="url(#ga)"/><circle cx="475.9" cy="346" r="6.8" fill="url(#ga)"/><circle cx="620.4" cy="420.5" r="7" fill="url(#ga)"/><circle cx="785" cy="255.1" r="6.6" fill="url(#ba)"/><circle cx="597.3" cy="228.6" r="6.5" fill="url(#ga)"/><circle cx="528.7" cy="400.9" r="7.1" fill="url(#ba)"/><circle cx="526.1" cy="351.2" r="6.6" fill="url(#ba)"/><circle cx="324.4" cy="336.9" r="7.2" fill="url(#ba)"/><circle cx="453" cy="348.3" r="7.4" fill="url(#ba)"/><circle cx="249.7" cy="349.9" r="6.6" fill="url(#ga)"/><circle cx="274.3" cy="194.4" r="6.4" fill="url(#ga)"/><circle cx="503.7" cy="169.3" r="7.3" fill="url(#ga)"/><circle cx="524.4" cy="271" r="7.2" fill="url(#ga)"/><circle cx="439.4" cy="259.6" r="7" fill="url(#ba)"/><circle cx="546.5" cy="191.6" r="6.4" fill="url(#ga)"/><circle cx="297.6" cy="224.7" r="6.8" fill="url(#ba)"/><circle cx="727.9" cy="282.6" r="7.4" fill="url(#ga)"/><circle cx="326.7" cy="285.3" r="7.7" fill="url(#ga)"/><circle cx="471.2" cy="380.8" r="7.5" fill="url(#ba)"/><circle cx="416.9" cy="242.8" r="6.5" fill="url(#ba)"/><circle cx="604.3" cy="308.8" r="7.4" fill="url(#ga)"/><circle cx="560.8" cy="204.7" r="7" fill="url(#ba)"/><circle cx="562.9" cy="353.6" r="7.3" fill="url(#ya1)"/><circle cx="803.5" cy="244.4" r="6.4" fill="url(#ba)"/><circle cx="295.6" cy="209" r="6.7" fill="url(#ba)"/><circle cx="400.3" cy="347.1" r="7.5" fill="url(#ga)"/><circle cx="705.4" cy="283.7" r="6.4" fill="url(#ba)"/><circle cx="556.7" cy="306.7" r="7.1" fill="url(#ga)"/><circle cx="547.5" cy="343.5" r="6.8" fill="url(#ga)"/><circle cx="535.7" cy="153.6" r="6.6" fill="url(#ba)"/><circle cx="674.1" cy="164.7" r="6.3" fill="url(#ba)"/><circle cx="727.4" cy="345.3" r="6.6" fill="url(#ba)"/><circle cx="649.9" cy="353.8" r="7.3" fill="url(#ga)"/><circle cx="492.1" cy="347.8" r="6.9" fill="url(#ba)"/><circle cx="506.5" cy="267.2" r="6.8" fill="url(#ga)"/><circle cx="672.2" cy="328.6" r="7.6" fill="url(#ba)"/><circle cx="512.9" cy="226.9" r="6.8" fill="url(#ga)"/><circle cx="498.4" cy="391" r="7.5" fill="url(#ga)"/><circle cx="577.5" cy="393.3" r="7.4" fill="url(#ba)"/><circle cx="233.7" cy="368.5" r="7.4" fill="url(#ba)"/><circle cx="798.3" cy="254.8" r="6.9" fill="url(#ga)"/><circle cx="607.3" cy="251" r="7.1" fill="url(#ba)"/><circle cx="360.6" cy="273.6" r="6.4" fill="url(#ba)"/><circle cx="435.5" cy="376.1" r="7.5" fill="url(#ba)"/><circle cx="755.4" cy="206.3" r="7.2" fill="url(#ba)"/><circle cx="366.3" cy="355.6" r="7.1" fill="url(#ga)"/><circle cx="802.1" cy="341.7" r="6.4" fill="url(#ga)"/><circle cx="617.5" cy="372.7" r="6.5" fill="url(#ga)"/><circle cx="538.5" cy="192.2" r="7.6" fill="url(#ga)"/><circle cx="404" cy="234.6" r="7.2" fill="url(#ga)"/><circle cx="589.1" cy="415.4" r="6.5" fill="url(#ba)"/><circle cx="316.2" cy="321.8" r="7.1" fill="url(#ba)"/><circle cx="241.5" cy="244.4" r="7.2" fill="url(#ga)"/><circle cx="400.6" cy="242.5" r="7.5" fill="url(#ga)"/><circle cx="532.9" cy="186.7" r="6.4" fill="url(#ga)"/><circle cx="467.3" cy="363.9" r="7.5" fill="url(#ga)"/><circle cx="398.4" cy="401.7" r="6.4" fill="url(#ga)"/><circle cx="709" cy="260.1" r="7.5" fill="url(#ga)"/><circle cx="466.5" cy="392.4" r="6.6" fill="url(#ba)"/><circle cx="506.1" cy="315.5" r="7.3" fill="url(#ga)"/><circle cx="279.8" cy="267.8" r="7.1" fill="url(#ga)"/><circle cx="473.6" cy="196" r="7.6" fill="url(#ga)"/><circle cx="365.7" cy="195.8" r="6.6" fill="url(#ba)"/><circle cx="631.2" cy="430.4" r="7.5" fill="url(#ga)"/><circle cx="741.5" cy="212.5" r="7.4" fill="url(#ga)"/><circle cx="735.2" cy="345" r="7.4" fill="url(#ba)"/><circle cx="577.6" cy="412.4" r="6.9" fill="url(#ga)"/><circle cx="303.3" cy="198.9" r="7.7" fill="url(#ba)"/><circle cx="657.3" cy="271.8" r="6.6" fill="url(#ga)"/><circle cx="774.8" cy="254.7" r="6.9" fill="url(#ga)"/><circle cx="496.4" cy="163.8" r="7.5" fill="url(#ga)"/><circle cx="766.5" cy="346.5" r="7" fill="url(#ga)"/><circle cx="628.5" cy="190" r="6.7" fill="url(#ga)"/><circle cx="408" cy="374.9" r="6.9" fill="url(#ga)"/><circle cx="729.4" cy="324.8" r="6.4" fill="url(#ga)"/><circle cx="401.6" cy="225.5" r="6.5" fill="url(#ba)"/><circle cx="772.8" cy="189.5" r="7.6" fill="url(#ga)"/><circle cx="435.3" cy="213.3" r="7.6" fill="url(#ba)"/><circle cx="543" cy="275.6" r="6.3" fill="url(#ba)"/><circle cx="665.8" cy="267.8" r="7.3" fill="url(#ga)"/><circle cx="536.7" cy="388.1" r="6.9" fill="url(#ga)"/><circle cx="693.9" cy="317.6" r="6.8" fill="url(#ba)"/><circle cx="406.6" cy="402" r="6.4" fill="url(#ba)"/><circle cx="509.6" cy="174.5" r="7.6" fill="url(#ga)"/><circle cx="332.6" cy="370.7" r="7.3" fill="url(#ba)"/><circle cx="596.9" cy="367.7" r="6.8" fill="url(#ba)"/><circle cx="340.3" cy="317.8" r="6.5" fill="url(#ga)"/><circle cx="708" cy="386.9" r="6.7" fill="url(#ba)"/><circle cx="499.6" cy="188.8" r="6.5" fill="url(#ba)"/><circle cx="648" cy="361.6" r="7" fill="url(#ga)"/><circle cx="599.6" cy="389.4" r="6.4" fill="url(#ba)"/><circle cx="761" cy="312.6" r="6.8" fill="url(#ba)"/><circle cx="482.3" cy="225.6" r="6.7" fill="url(#ga)"/><circle cx="790.5" cy="249.5" r="7.6" fill="url(#ba)"/><circle cx="490.2" cy="272.6" r="6.8" fill="url(#ga)"/><circle cx="392.2" cy="241.2" r="6.9" fill="url(#ga)"/><circle cx="362.1" cy="406.2" r="6.6" fill="url(#ba)"/><circle cx="524.4" cy="149.1" r="6.6" fill="url(#ga)"/><circle cx="698.1" cy="324.3" r="6.7" fill="url(#ga)"/><circle cx="474.3" cy="232.7" r="7.3" fill="url(#ba)"/><circle cx="624" cy="175.5" r="7.3" fill="url(#ya1)"/><circle cx="245.9" cy="306.6" r="7.4" fill="url(#ga)"/><circle cx="623.9" cy="366.7" r="7.5" fill="url(#ba)"/><circle cx="582" cy="219.2" r="7" fill="url(#ga)"/><circle cx="655.8" cy="358.8" r="7.4" fill="url(#ga)"/><circle cx="464.6" cy="192.8" r="7.6" fill="url(#ga)"/><circle cx="782.2" cy="299.4" r="7.1" fill="url(#ba)"/><circle cx="529.1" cy="248.3" r="7.5" fill="url(#ga)"/><circle cx="265.6" cy="332.2" r="6.5" fill="url(#ba)"/><circle cx="615.4" cy="185" r="7.2" fill="url(#ga)"/><circle cx="735.5" cy="222" r="7" fill="url(#ba)"/><circle cx="257.3" cy="284.3" r="7.6" fill="url(#ga)"/><circle cx="630.9" cy="421.2" r="6.7" fill="url(#ga)"/><circle cx="677.8" cy="276.3" r="6.7" fill="url(#ba)"/><circle cx="719.7" cy="372.6" r="6.8" fill="url(#ba)"/><circle cx="639.1" cy="254.5" r="7.6" fill="url(#ga)"/><circle cx="363.9" cy="328.7" r="6.5" fill="url(#ga)"/><circle cx="346.4" cy="179.7" r="7.7" fill="url(#ba)"/><circle cx="267.8" cy="374.1" r="7.3" fill="url(#ga)"/><circle cx="389.8" cy="204.3" r="7.5" fill="url(#ba)"/><circle cx="348.7" cy="317.1" r="6.8" fill="url(#ba)"/><circle cx="510.1" cy="159" r="6.9" fill="url(#ba)"/><circle cx="767.2" cy="232.5" r="7" fill="url(#ba)"/><circle cx="563.2" cy="191.7" r="7" fill="url(#ga)"/><circle cx="404.5" cy="270.1" r="6.7" fill="url(#ga)"/><circle cx="692.7" cy="229.9" r="7.5" fill="url(#ga)"/><circle cx="600.1" cy="244.4" r="6.8" fill="url(#ba)"/><circle cx="563.2" cy="178.4" r="7.2" fill="url(#ga)"/><circle cx="583.1" cy="242.7" r="7.2" fill="url(#ga)"/><circle cx="615.4" cy="195.7" r="7.2" fill="url(#ba)"/><circle cx="532.1" cy="328.4" r="6.9" fill="url(#ga)"/><circle cx="374.4" cy="377.2" r="6.4" fill="url(#ba)"/><circle cx="471.1" cy="399.1" r="7.1" fill="url(#ga)"/><circle cx="474.6" cy="418.1" r="6.4" fill="url(#ga)"/><circle cx="539.5" cy="349" r="6.6" fill="url(#ba)"/><circle cx="609.5" cy="417.1" r="6.9" fill="url(#ga)"/><circle cx="472.2" cy="262.7" r="6.6" fill="url(#ga)"/><circle cx="584.2" cy="398.4" r="7.1" fill="url(#ga)"/><circle cx="397.7" cy="284" r="7.5" fill="url(#ba)"/><circle cx="608.6" cy="237.3" r="7.6" fill="url(#ba)"/><circle cx="599.8" cy="216.1" r="6.7" fill="url(#ba)"/><circle cx="570.5" cy="228.9" r="7.1" fill="url(#ba)"/><circle cx="515.1" cy="219.4" r="6.9" fill="url(#ba)"/><circle cx="693.2" cy="287.4" r="7.4" fill="url(#ba)"/><circle cx="564.4" cy="305.1" r="7.4" fill="url(#ga)"/><circle cx="478.7" cy="175.9" r="6.9" fill="url(#ba)"/><circle cx="778.1" cy="266.2" r="6.4" fill="url(#ba)"/><circle cx="488.2" cy="176" r="6.6" fill="url(#ga)"/><circle cx="634.1" cy="210.7" r="6.7" fill="url(#ba)"/><circle cx="317.3" cy="350.2" r="6.5" fill="url(#ba)"/><circle cx="762.8" cy="212.2" r="7.7" fill="url(#ba)"/><circle cx="764.7" cy="173.8" r="6.7" fill="url(#ba)"/><circle cx="337.8" cy="308.2" r="6.4" fill="url(#ba)"/><circle cx="531.2" cy="314.7" r="6.6" fill="url(#ga)"/><circle cx="275.3" cy="206.3" r="7.4" fill="url(#ga)"/><circle cx="572.1" cy="375" r="7.2" fill="url(#ba)"/><circle cx="702.4" cy="272.5" r="6.8" fill="url(#ga)"/><circle cx="397.4" cy="381.8" r="6.8" fill="url(#ga)"/><circle cx="416.1" cy="288.8" r="7.3" fill="url(#ga)"/><circle cx="403.1" cy="392.2" r="6.3" fill="url(#ga)"/><circle cx="747.4" cy="296.2" r="7.4" fill="url(#ba)"/><circle cx="398.1" cy="296.2" r="6.6" fill="url(#ga)"/><circle cx="687.4" cy="375" r="6.7" fill="url(#ba)"/><circle cx="695.3" cy="254" r="7.2" fill="url(#ga)"/><circle cx="547.3" cy="397.8" r="7" fill="url(#ba)"/><circle cx="319.5" cy="263.5" r="6.6" fill="url(#ga)"/><circle cx="725.1" cy="180.9" r="7.3" fill="url(#ba)"/><circle cx="498.4" cy="178.2" r="6.7" fill="url(#ga)"/><circle cx="285.1" cy="210.1" r="7" fill="url(#ba)"/><circle cx="246.1" cy="268.9" r="6.7" fill="url(#ba)"/><circle cx="764.6" cy="304.4" r="7.4" fill="url(#ba)"/><circle cx="601.7" cy="278.7" r="6.5" fill="url(#ba)"/><circle cx="562.2" cy="372.2" r="6.4" fill="url(#ba)"/><circle cx="424.3" cy="334.9" r="7" fill="url(#ba)"/><circle cx="427.4" cy="386.1" r="7.7" fill="url(#ba)"/><circle cx="565.2" cy="389.5" r="7" fill="url(#ga)"/><circle cx="230.5" cy="346.8" r="7.3" fill="url(#ba)"/><circle cx="392.5" cy="217.9" r="7.6" fill="url(#ga)"/><circle cx="456.9" cy="369.8" r="7.6" fill="url(#ga)"/><circle cx="437.4" cy="353.6" r="6.9" fill="url(#ga)"/><circle cx="684.3" cy="254.3" r="7.4" fill="url(#ga)"/><circle cx="238.6" cy="316.4" r="6.5" fill="url(#ga)"/><circle cx="418.9" cy="316.7" r="6.8" fill="url(#ga)"/><circle cx="645.3" cy="278.5" r="7.3" fill="url(#ba)"/><circle cx="579.6" cy="305.5" r="6.4" fill="url(#ra1)"/><circle cx="728.4" cy="238.7" r="7.4" fill="url(#ba)"/><circle cx="239.1" cy="347.8" r="6.9" fill="url(#ba)"/><circle cx="301.3" cy="346.5" r="7" fill="url(#ga)"/><circle cx="230" cy="358.8" r="7.2" fill="url(#ga)"/><circle cx="270.5" cy="399.1" r="7.7" fill="url(#ga)"/><circle cx="791.9" cy="228.4" r="6.5" fill="url(#ga)"/><circle cx="395.1" cy="393.9" r="7.4" fill="url(#ga)"/><circle cx="329.5" cy="387" r="7.3" fill="url(#ga)"/><circle cx="713.2" cy="290.7" r="7" fill="url(#ba)"/><circle cx="279.5" cy="188.6" r="6.4" fill="url(#ga)"/><circle cx="652.7" cy="188.3" r="6.8" fill="url(#ba)"/><circle cx="413.3" cy="389.9" r="6.6" fill="url(#ga)"/><circle cx="400.7" cy="216.7" r="7.6" fill="url(#ba)"/><circle cx="637.6" cy="317.4" r="7.3" fill="url(#ga)"/><circle cx="260.5" cy="210.6" r="7.3" fill="url(#ya1)"/><circle cx="438.7" cy="307.9" r="6.5" fill="url(#ba)"/><circle cx="717.2" cy="250.8" r="6.9" fill="url(#ga)"/><circle cx="472.7" cy="357" r="7.4" fill="url(#ga)"/><circle cx="533.8" cy="260.6" r="6.9" fill="url(#ga)"/><circle cx="306.7" cy="316" r="7.4" fill="url(#ba)"/><circle cx="687.1" cy="223.4" r="7.6" fill="url(#ga)"/><circle cx="436.5" cy="268.7" r="6.7" fill="url(#ba)"/><circle cx="550.6" cy="366.6" r="7.6" fill="url(#ba)"/><circle cx="608.7" cy="384.9" r="6.7" fill="url(#ba)"/><circle cx="305.1" cy="404.8" r="7.3" fill="url(#ga)"/><circle cx="728.7" cy="374.2" r="6.5" fill="url(#ga)"/><circle cx="401.4" cy="255.3" r="7.6" fill="url(#ga)"/><circle cx="791.7" cy="265.2" r="7.6" fill="url(#ga)"/><circle cx="564" cy="291.5" r="6.5" fill="url(#ga)"/><circle cx="381.5" cy="265.5" r="7.4" fill="url(#ba)"/><circle cx="442" cy="235" r="7" fill="url(#ga)"/><circle cx="247.4" cy="315.7" r="7.1" fill="url(#ba)"/><circle cx="492.8" cy="219.4" r="7.6" fill="url(#ga)"/><circle cx="370.4" cy="323.7" r="7.2" fill="url(#ga)"/><circle cx="645.1" cy="183.9" r="7" fill="url(#ga)"/><circle cx="680.2" cy="312.1" r="7.6" fill="url(#ba)"/><circle cx="785.9" cy="342.7" r="6.6" fill="url(#ba)"/><circle cx="569.6" cy="144.9" r="7" fill="url(#ba)"/><circle cx="445.9" cy="310.8" r="6.7" fill="url(#ba)"/><circle cx="567.2" cy="346.6" r="7.2" fill="url(#ga)"/><circle cx="361.1" cy="373.2" r="7.5" fill="url(#ba)"/><circle cx="682.5" cy="166.5" r="7.4" fill="url(#ba)"/><circle cx="700.2" cy="307.5" r="6.4" fill="url(#ga)"/><circle cx="545.4" cy="322.1" r="7.7" fill="url(#ba)"/><circle cx="299.2" cy="261.7" r="7.2" fill="url(#ba)"/><circle cx="674.8" cy="198.7" r="6.8" fill="url(#ba)"/><circle cx="675.8" cy="295.3" r="7.7" fill="url(#ba)"/><circle cx="276.7" cy="241.2" r="6.5" fill="url(#ba)"/><circle cx="310.6" cy="383.3" r="7.2" fill="url(#ga)"/><circle cx="312.9" cy="257.1" r="6.4" fill="url(#ga)"/><circle cx="766" cy="199.9" r="7.2" fill="url(#ga)"/><circle cx="445.7" cy="267.9" r="7.4" fill="url(#ba)"/><circle cx="341.8" cy="224.3" r="7.2" fill="url(#ba)"/><circle cx="524.1" cy="195.1" r="6.7" fill="url(#ba)"/><circle cx="229.2" cy="313.8" r="7.4" fill="url(#ga)"/><circle cx="685.4" cy="319.4" r="7.4" fill="url(#ga)"/><circle cx="336.5" cy="339.6" r="7.4" fill="url(#ga)"/><circle cx="342" cy="359.6" r="7" fill="url(#ba)"/><circle cx="303.4" cy="230.2" r="7.1" fill="url(#ga)"/><circle cx="552.7" cy="205.6" r="6.7" fill="url(#ga)"/><circle cx="674.8" cy="241.9" r="7.1" fill="url(#ba)"/><circle cx="489.8" cy="305.9" r="6.9" fill="url(#ba)"/><circle cx="251.2" cy="210.6" r="7.5" fill="url(#ya1)"/><circle cx="427" cy="377.3" r="7.4" fill="url(#ba)"/><circle cx="334" cy="226.9" r="6.5" fill="url(#ba)"/><circle cx="256.2" cy="192.6" r="7.3" fill="url(#ba)"/><circle cx="356.7" cy="204.4" r="7.4" fill="url(#ba)"/><circle cx="229.3" cy="323.1" r="6.8" fill="url(#ga)"/><circle cx="229.6" cy="270.1" r="7.5" fill="url(#ga)"/><circle cx="706.5" cy="313.4" r="7" fill="url(#ga)"/><circle cx="529.5" cy="220.6" r="7.6" fill="url(#ba)"/><circle cx="641.8" cy="228.9" r="7.4" fill="url(#ga)"/><circle cx="610" cy="348.5" r="6.8" fill="url(#ba)"/><circle cx="581.7" cy="211.4" r="7" fill="url(#ba)"/><circle cx="680.4" cy="359.3" r="7.2" fill="url(#ba)"/><circle cx="391.2" cy="357.2" r="6.4" fill="url(#ba)"/><circle cx="319.5" cy="222.6" r="7.6" fill="url(#ga)"/><circle cx="225.6" cy="287.8" r="6.9" fill="url(#ga)"/><circle cx="599.4" cy="268.8" r="6.4" fill="url(#ga)"/><circle cx="564.6" cy="263.3" r="6.4" fill="url(#ga)"/><circle cx="715.5" cy="381.8" r="7.2" fill="url(#ga)"/><circle cx="415.5" cy="372.5" r="6.5" fill="url(#ga)"/><circle cx="480.9" cy="299.8" r="7" fill="url(#ba)"/><circle cx="272.4" cy="336.3" r="7.3" fill="url(#ba)"/><circle cx="708.3" cy="340" r="6.7" fill="url(#ga)"/><circle cx="585.5" cy="234.4" r="7" fill="url(#ga)"/><circle cx="489.8" cy="401.7" r="6.9" fill="url(#ba)"/><circle cx="748.3" cy="217.6" r="6.9" fill="url(#ba)"/><circle cx="275.9" cy="176.3" r="7.4" fill="url(#ba)"/><circle cx="268" cy="267.4" r="7.6" fill="url(#ba)"/><circle cx="466.1" cy="203.7" r="7.5" fill="url(#ga)"/><circle cx="412.7" cy="326.2" r="7.3" fill="url(#ga)"/><circle cx="425.3" cy="222.1" r="7.4" fill="url(#ga)"/><circle cx="673.7" cy="182.1" r="6.8" fill="url(#ga)"/><circle cx="710.5" cy="362.2" r="6.6" fill="url(#ga)"/><circle cx="367.8" cy="344.4" r="7.7" fill="url(#ga)"/><circle cx="474.3" cy="370.7" r="6.5" fill="url(#ba)"/><circle cx="301" cy="243.8" r="7.5" fill="url(#ga)"/><circle cx="550.7" cy="237.2" r="6.5" fill="url(#ba)"/><circle cx="802.4" cy="295.6" r="7.4" fill="url(#ga)"/><circle cx="484.1" cy="243.4" r="7.1" fill="url(#ba)"/><circle cx="705.9" cy="325.2" r="6.5" fill="url(#ga)"/><circle cx="720.8" cy="209.6" r="6.8" fill="url(#ba)"/><circle cx="512.8" cy="275.8" r="6.8" fill="url(#ga)"/><circle cx="616.6" cy="381.8" r="6.8" fill="url(#ga)"/><circle cx="457.3" cy="188.9" r="6.8" fill="url(#ba)"/><circle cx="570.3" cy="181.7" r="6.7" fill="url(#ga)"/><circle cx="626" cy="207.6" r="6.8" fill="url(#ga)"/><circle cx="527.7" cy="236.3" r="7.6" fill="url(#ba)"/><circle cx="236.2" cy="224.3" r="7" fill="url(#ba)"/><circle cx="462.5" cy="420.7" r="6.9" fill="url(#ga)"/><circle cx="541.2" cy="304" r="7.5" fill="url(#ba)"/><circle cx="319.4" cy="250.2" r="6.7" fill="url(#ga)"/><circle cx="386.9" cy="365.9" r="7.1" fill="url(#ga)"/><circle cx="580.8" cy="178.6" r="7.1" fill="url(#ba)"/><circle cx="705.8" cy="231" r="6.4" fill="url(#ga)"/><circle cx="631.5" cy="178.3" r="6.3" fill="url(#ya1)"/><circle cx="285" cy="199.2" r="7.2" fill="url(#ba)"/><circle cx="786.9" cy="199.1" r="6.3" fill="url(#ba)"/><circle cx="490.8" cy="188.4" r="6.9" fill="url(#ga)"/><circle cx="615.4" cy="308" r="6.4" fill="url(#ga)"/><circle cx="295.9" cy="356.6" r="6.4" fill="url(#ga)"/><circle cx="501" cy="350.8" r="6.9" fill="url(#ga)"/><circle cx="503.4" cy="409.8" r="6.4" fill="url(#ba)"/><circle cx="374.9" cy="254.6" r="7.4" fill="url(#ba)"/><circle cx="784.1" cy="379.4" r="7.6" fill="url(#ga)"/><circle cx="266.9" cy="390.9" r="6.7" fill="url(#ga)"/><circle cx="770.2" cy="279.4" r="6.4" fill="url(#ba)"/><circle cx="269.3" cy="309.9" r="7" fill="url(#ga)"/><circle cx="559.4" cy="223.9" r="6.4" fill="url(#ba)"/><circle cx="750.8" cy="337.6" r="7.1" fill="url(#ba)"/><circle cx="599.6" cy="320.2" r="7.3" fill="url(#ga)"/><circle cx="328.9" cy="326.9" r="7.2" fill="url(#ba)"/><circle cx="684.4" cy="200.8" r="7.3" fill="url(#ga)"/><circle cx="327.2" cy="357.9" r="6.8" fill="url(#ga)"/><circle cx="347.5" cy="401.4" r="7.6" fill="url(#ga)"/><circle cx="533.7" cy="407.7" r="6.8" fill="url(#ba)"/><circle cx="793.8" cy="240" r="6.6" fill="url(#ba)"/><circle cx="743.8" cy="389.3" r="7.5" fill="url(#ba)"/><circle cx="261.4" cy="176.7" r="6.3" fill="url(#ga)"/><circle cx="324.5" cy="182.5" r="7.1" fill="url(#ga)"/><circle cx="411.7" cy="280.2" r="7.2" fill="url(#ba)"/><circle cx="681.6" cy="386.3" r="6.7" fill="url(#ga)"/><circle cx="448.6" cy="371" r="7.2" fill="url(#ga)"/><circle cx="522.3" cy="392.5" r="7.2" fill="url(#ba)"/><circle cx="370.5" cy="232.4" r="7.7" fill="url(#ba)"/><circle cx="713.5" cy="393.8" r="7.1" fill="url(#ga)"/><circle cx="498.9" cy="272.9" r="6.7" fill="url(#ga)"/><circle cx="363.9" cy="391" r="7" fill="url(#ga)"/><circle cx="719.9" cy="279.3" r="7.7" fill="url(#ba)"/><circle cx="407.3" cy="211.9" r="7.3" fill="url(#ga)"/><circle cx="558" cy="214.1" r="7.7" fill="url(#ba)"/><circle cx="732.6" cy="317.1" r="6.7" fill="url(#ga)"/><circle cx="357.6" cy="354.4" r="7.5" fill="url(#ra1)"/><circle cx="712" cy="225.4" r="7.2" fill="url(#ga)"/><circle cx="484.9" cy="204.6" r="7.5" fill="url(#ga)"/><circle cx="483.8" cy="195.3" r="6.5" fill="url(#ga)"/><circle cx="238.7" cy="274.7" r="7.6" fill="url(#ga)"/><circle cx="774.2" cy="310.4" r="7" fill="url(#ya1)"/><circle cx="641.8" cy="367.1" r="6.9" fill="url(#ba)"/><circle cx="462.3" cy="339.5" r="6.5" fill="url(#ba)"/><circle cx="618.2" cy="293.5" r="7.1" fill="url(#ba)"/><circle cx="246.8" cy="255.8" r="6.7" fill="url(#ga)"/><circle cx="731.1" cy="363.6" r="7" fill="url(#ga)"/><circle cx="769.1" cy="324.5" r="6.9" fill="url(#ga)"/><circle cx="633.9" cy="247.5" r="6.4" fill="url(#ga)"/><circle cx="699.1" cy="164.3" r="7.3" fill="url(#ga)"/><circle cx="389.7" cy="261.4" r="7" fill="url(#ba)"/><circle cx="499.2" cy="263.6" r="7" fill="url(#ga)"/><circle cx="271.7" cy="383.8" r="6.6" fill="url(#ga)"/><circle cx="554.4" cy="414.4" r="7.2" fill="url(#ga)"/><circle cx="663" cy="307.9" r="6.5" fill="url(#ba)"/><circle cx="261.5" cy="380.1" r="6.6" fill="url(#ga)"/><circle cx="341.8" cy="368.2" r="7.2" fill="url(#ga)"/><circle cx="505.6" cy="394.8" r="7.1" fill="url(#ba)"/><circle cx="482.7" cy="336.4" r="6.6" fill="url(#ba)"/><circle cx="556.2" cy="195.3" r="7.2" fill="url(#ga)"/><circle cx="668.8" cy="227" r="7.4" fill="url(#ba)"/><circle cx="631.1" cy="306.2" r="7.4" fill="url(#ga)"/><circle cx="724.4" cy="201.4" r="7.5" fill="url(#ba)"/><circle cx="585.1" cy="191.1" r="6.3" fill="url(#ga)"/><circle cx="409.9" cy="313.5" r="7.4" fill="url(#ba)"/><circle cx="799.8" cy="269.6" r="6.9" fill="url(#ga)"/><circle cx="239.4" cy="356.5" r="6.6" fill="url(#ba)"/><circle cx="512.7" cy="196.5" r="7" fill="url(#ba)"/><circle cx="308.9" cy="189.5" r="6.9" fill="url(#ga)"/><circle cx="760.2" cy="366" r="7" fill="url(#ga)"/><circle cx="382.1" cy="306.5" r="6.3" fill="url(#ba)"/><circle cx="464.7" cy="234.8" r="7.7" fill="url(#ba)"/><circle cx="778.2" cy="353.5" r="7.1" fill="url(#ga)"/><circle cx="455.4" cy="281.2" r="7.2" fill="url(#ba)"/><circle cx="374" cy="188.5" r="6.9" fill="url(#ba)"/><circle cx="806.8" cy="335.1" r="7.4" fill="url(#ba)"/><circle cx="238.2" cy="210.9" r="7.4" fill="url(#ga)"/><circle cx="408.7" cy="334.4" r="6.4" fill="url(#ga)"/><circle cx="590.3" cy="386.8" r="7.6" fill="url(#ba)"/><circle cx="239.8" cy="203" r="7.5" fill="url(#ba)"/><circle cx="317.7" cy="333.1" r="6.6" fill="url(#ba)"/><circle cx="772.1" cy="302.3" r="7.2" fill="url(#ba)"/><circle cx="241.3" cy="378.2" r="7" fill="url(#ba)"/><circle cx="296.6" cy="180.7" r="6.6" fill="url(#ba)"/><circle cx="360.5" cy="305.3" r="7.4" fill="url(#ga)"/><circle cx="600.2" cy="177.5" r="7.4" fill="url(#ga)"/><circle cx="803.2" cy="317.5" r="6.6" fill="url(#ba)"/><circle cx="318.6" cy="360.4" r="6.5" fill="url(#ga)"/><circle cx="404" cy="303.3" r="6.4" fill="url(#ba)"/><circle cx="500.4" cy="298.7" r="6.6" fill="url(#ga)"/><circle cx="764.4" cy="254.3" r="7.4" fill="url(#ga)"/><circle cx="646.3" cy="394.2" r="6.4" fill="url(#ba)"/><circle cx="716" cy="272.6" r="6.7" fill="url(#ba)"/><circle cx="722.7" cy="245.4" r="7" fill="url(#ba)"/><circle cx="670.7" cy="172.2" r="7.3" fill="url(#ga)"/><circle cx="407.6" cy="263" r="7.5" fill="url(#ga)"/><circle cx="672.6" cy="219.9" r="7.4" fill="url(#ba)"/><circle cx="495.6" cy="254.7" r="7.1" fill="url(#ba)"/><circle cx="382.5" cy="219.5" r="7.3" fill="url(#ga)"/><circle cx="581.8" cy="274.1" r="7.5" fill="url(#ba)"/><circle cx="654.3" cy="378.2" r="6.4" fill="url(#ba)"/><circle cx="353" cy="267.5" r="6.6" fill="url(#ba)"/><circle cx="612.6" cy="275.4" r="7.1" fill="url(#ba)"/><circle cx="651.6" cy="387" r="7.6" fill="url(#ba)"/><circle cx="633.4" cy="324.7" r="7.7" fill="url(#ga)"/><circle cx="394.2" cy="232" r="7.5" fill="url(#ba)"/><circle cx="521.1" cy="293.5" r="7.2" fill="url(#ga)"/><circle cx="722.2" cy="363.2" r="6.4" fill="url(#ga)"/><circle cx="681.5" cy="216.7" r="7.2" fill="url(#ba)"/><circle cx="770.8" cy="393.6" r="6.5" fill="url(#ga)"/><circle cx="664.4" cy="336.7" r="7.2" fill="url(#ba)"/><circle cx="371.9" cy="264.1" r="6.6" fill="url(#ga)"/><circle cx="586.7" cy="226.5" r="7.6" fill="url(#ba)"/><circle cx="496.3" cy="281.6" r="6.5" fill="url(#ga)"/><circle cx="544.4" cy="390.6" r="7" fill="url(#ga)"/><circle cx="612.7" cy="300.4" r="6.8" fill="url(#ga)"/><circle cx="520.5" cy="345.7" r="6.5" fill="url(#ba)"/><circle cx="536.3" cy="321.9" r="6.6" fill="url(#ba)"/><circle cx="350.6" cy="255.6" r="6.8" fill="url(#ba)"/><circle cx="245.5" cy="283" r="6.9" fill="url(#ba)"/><circle cx="704.1" cy="350" r="7" fill="url(#ga)"/><circle cx="675.8" cy="303.6" r="7.3" fill="url(#ba)"/><circle cx="560.1" cy="143.4" r="7.6" fill="url(#ba)"/><circle cx="564.9" cy="271.6" r="6.8" fill="url(#ga)"/><circle cx="326.3" cy="268.4" r="7.3" fill="url(#ga)"/><circle cx="492" cy="243.3" r="6.6" fill="url(#ba)"/><circle cx="668.9" cy="235.8" r="7.3" fill="url(#ba)"/><circle cx="655.2" cy="205.1" r="7.6" fill="url(#ga)"/><circle cx="787" cy="312" r="6.6" fill="url(#ba)"/><circle cx="560.5" cy="232.7" r="7.7" fill="url(#ba)"/><circle cx="396.7" cy="337.6" r="6.6" fill="url(#ga)"/><circle cx="666.3" cy="377.6" r="6.4" fill="url(#ba)"/><circle cx="292" cy="405.8" r="6.7" fill="url(#ga)"/><circle cx="326.4" cy="196" r="6.6" fill="url(#ga)"/><circle cx="528.9" cy="387.3" r="7.1" fill="url(#ga)"/><circle cx="446.8" cy="289.3" r="7.3" fill="url(#ba)"/><circle cx="614.3" cy="176" r="6.3" fill="url(#ba)"/><circle cx="309.6" cy="283.2" r="6.7" fill="url(#ga)"/><circle cx="424.2" cy="356.2" r="7.1" fill="url(#ga)"/><circle cx="628.2" cy="340.7" r="7.5" fill="url(#ga)"/><circle cx="806" cy="348.5" r="7.5" fill="url(#ga)"/><circle cx="292.5" cy="269.9" r="7.2" fill="url(#ba)"/><circle cx="419.4" cy="267.9" r="6.8" fill="url(#ba)"/><circle cx="498" cy="399" r="7.3" fill="url(#ga)"/><circle cx="673.6" cy="373.9" r="7.6" fill="url(#ba)"/><circle cx="697.8" cy="400.5" r="7" fill="url(#ga)"/><circle cx="259.9" cy="353.1" r="7.7" fill="url(#ba)"/><circle cx="622.3" cy="408.6" r="6.5" fill="url(#ga)"/><circle cx="416.1" cy="259.5" r="6.9" fill="url(#ba)"/><circle cx="423.1" cy="401.6" r="7.3" fill="url(#ba)"/><circle cx="228.6" cy="252.9" r="7" fill="url(#ga)"/><circle cx="579.9" cy="405" r="7.4" fill="url(#ba)"/><circle cx="477.2" cy="206.3" r="6.6" fill="url(#ba)"/><circle cx="633.4" cy="365.8" r="7" fill="url(#ba)"/><circle cx="795" cy="291.1" r="6.5" fill="url(#ga)"/><circle cx="758.1" cy="219.7" r="6.7" fill="url(#ba)"/><circle cx="634.6" cy="279.3" r="6.7" fill="url(#ba)"/><circle cx="755" cy="229" r="7.1" fill="url(#ga)"/><circle cx="486.1" cy="319.4" r="7.3" fill="url(#ga)"/><circle cx="681" cy="342" r="7.1" fill="url(#ba)"/><circle cx="553.5" cy="351.1" r="6.4" fill="url(#ba)"/><circle cx="677.8" cy="320.8" r="6.9" fill="url(#ga)"/><circle cx="642.2" cy="310.1" r="7.3" fill="url(#ba)"/><circle cx="489.3" cy="384.9" r="6.6" fill="url(#ga)"/><circle cx="391.1" cy="404.3" r="6.9" fill="url(#ga)"/><circle cx="300.6" cy="384.8" r="7.3" fill="url(#ba)"/><circle cx="638.5" cy="331.4" r="7.3" fill="url(#ga)"/><circle cx="450.2" cy="394.6" r="6.7" fill="url(#ba)"/><circle cx="644.7" cy="414.4" r="6.6" fill="url(#ga)"/><circle cx="353.6" cy="277.2" r="6.6" fill="url(#ba)"/><circle cx="604.7" cy="262.4" r="6.5" fill="url(#ga)"/><circle cx="745.5" cy="185.6" r="6.5" fill="url(#ba)"/><circle cx="692.5" cy="350" r="7.1" fill="url(#ga)"/><circle cx="579.7" cy="338.9" r="6.3" fill="url(#ba)"/><circle cx="333.2" cy="400.7" r="7.1" fill="url(#ga)"/><circle cx="702.7" cy="393.7" r="7.6" fill="url(#ba)"/><circle cx="517.2" cy="165.5" r="7.5" fill="url(#ga)"/><circle cx="295.6" cy="251.3" r="6.6" fill="url(#ba)"/><circle cx="445" cy="250.9" r="6.6" fill="url(#ga)"/><circle cx="697.2" cy="219.3" r="6.4" fill="url(#ba)"/><circle cx="753.2" cy="238.1" r="7" fill="url(#ga)"/><circle cx="445.5" cy="196.4" r="7.1" fill="url(#ba)"/><circle cx="768.6" cy="372.8" r="7.1" fill="url(#ba)"/><circle cx="759.5" cy="323.6" r="6.5" fill="url(#ga)"/><circle cx="392.9" cy="412.1" r="7.4" fill="url(#ba)"/><circle cx="656.5" cy="196.3" r="6.4" fill="url(#ba)"/><circle cx="542.4" cy="382.5" r="6.3" fill="url(#ba)"/><circle cx="423.5" cy="281.4" r="6.7" fill="url(#ba)"/><circle cx="297" cy="367.5" r="7.7" fill="url(#ba)"/><circle cx="654.4" cy="252.2" r="6.4" fill="url(#ga)"/><circle cx="491.3" cy="261.9" r="7.5" fill="url(#ga)"/><circle cx="517.2" cy="385.8" r="7" fill="url(#ba)"/><circle cx="364.1" cy="184.1" r="6.4" fill="url(#ba)"/><circle cx="312.1" cy="215.1" r="7" fill="url(#ga)"/><circle cx="652.7" cy="330.4" r="6.6" fill="url(#ga)"/><circle cx="606.9" cy="195.9" r="7" fill="url(#ba)"/><circle cx="343.2" cy="332.5" r="7.6" fill="url(#ga)"/><circle cx="513.7" cy="263.1" r="6.6" fill="url(#ga)"/><circle cx="633.4" cy="398.8" r="7.1" fill="url(#ga)"/><circle cx="681.5" cy="232.6" r="6.4" fill="url(#ga)"/><circle cx="810.2" cy="308.5" r="7.2" fill="url(#ba)"/><circle cx="263" cy="227.4" r="6.8" fill="url(#ba)"/><circle cx="586.3" cy="265.5" r="6.3" fill="url(#ga)"/><circle cx="774.5" cy="382.2" r="6.8" fill="url(#ba)"/><circle cx="588.9" cy="406.9" r="7.6" fill="url(#ga)"/><circle cx="724.1" cy="270.1" r="7.4" fill="url(#ga)"/><circle cx="558.6" cy="316.1" r="7.3" fill="url(#ba)"/><circle cx="500.5" cy="375.6" r="7.6" fill="url(#ba)"/><circle cx="581.1" cy="203.3" r="7.7" fill="url(#ba)"/><circle cx="570.4" cy="396.7" r="6.6" fill="url(#ba)"/><circle cx="694" cy="178.1" r="6.6" fill="url(#ba)"/><circle cx="317.9" cy="378.7" r="7.2" fill="url(#ga)"/><circle cx="378.9" cy="318.4" r="6.4" fill="url(#ba)"/><circle cx="280.1" cy="347.1" r="6.4" fill="url(#ga)"/><circle cx="499.2" cy="290.7" r="7.6" fill="url(#ga)"/><circle cx="755.6" cy="383" r="6.4" fill="url(#ba)"/><circle cx="552.9" cy="229.5" r="6.9" fill="url(#ga)"/><circle cx="359.1" cy="321.2" r="6.4" fill="url(#ba)"/><circle cx="791.2" cy="329.5" r="6.6" fill="url(#ga)"/><circle cx="664.5" cy="207.2" r="6.4" fill="url(#ba)"/><circle cx="383.6" cy="343.3" r="6.5" fill="url(#ga)"/><circle cx="408.8" cy="243.9" r="6.6" fill="url(#ba)"/></g>
<rect x="90" y="39" width="852.5" height="848.5" fill="none" stroke="#474747" stroke-width="3.2"/>
<line x1="89.5" y1="888" x2="89.5" y2="770" stroke="#000" stroke-width="2.4"/>
<polygon points="89.5,759 102.5,785 76.5,785" fill="#000"/>
<line x1="89.5" y1="888" x2="160" y2="786.5" stroke="#000" stroke-width="1.7"/>
<polygon points="170.4,771.8 166.6,800.9 144.5,785.4" fill="#000"/>
<line x1="89.5" y1="888" x2="205" y2="888" stroke="#000" stroke-width="2.4"/>
<polygon points="219.5,888.2 193.5,901.2 193.5,875.2" fill="#000"/>
<text transform="translate(113.86 786.58) scale(0.9715 1)" font-family="'Liberation Serif', 'Times New Roman', serif" font-style="italic" font-size="63.57">y</text>
<text transform="translate(203.49 831.00) scale(1.1004 1)" font-family="'Liberation Serif', 'Times New Roman', serif" font-style="italic" font-size="63.84">z</text>
<text transform="translate(160.81 947.50) scale(1.0695 1)" font-family="'Liberation Serif', 'Times New Roman', serif" font-style="italic" font-size="62.09">x</text>
<rect x="326" y="1305" width="389" height="389" fill="none" stroke="#9a9a9a" stroke-width="2.6"/>
<line x1="93" y1="1073" x2="326" y2="1305" stroke="url(#dg20)" stroke-width="2.1"/>
<line x1="947.5" y1="1073" x2="715" y2="1305" stroke="url(#dg21)" stroke-width="2.1"/>
<line x1="93" y1="1926" x2="326" y2="1694" stroke="url(#dg22)" stroke-width="2.1"/>
<line x1="947.5" y1="1926" x2="715" y2="1694" stroke="url(#dg23)" stroke-width="2.1"/>
<g><polygon points="474.2,1168.3 447.3,1190.7 435.8,1222.7 430.8,1252.2 416.6,1276.1 414.3,1322.6 418.8,1358.7 433.2,1371.6 435.8,1407.6 479.9,1458.6 519.8,1477.4 573.8,1505.5 621.6,1493.8 656.6,1505.2 667.5,1496.1 672.1,1478 676.4,1474.6 716.8,1486 752.6,1454.7 773.6,1417.2 785.8,1383.3 805,1359 811.8,1331.8 812.9,1298.8 809.5,1257.8 792.8,1242.6 790.2,1211.3 770.2,1186.9 750.1,1175.8 729.9,1172.8 720,1157.8 669.7,1157.8 633.8,1154.3 597.4,1161.4 549.1,1162.6 501.3,1161.5" fill="#222e6a"/><circle cx="669.7" cy="1295.2" r="9.6" fill="url(#bc1)"/><circle cx="617.3" cy="1211.6" r="10.1" fill="url(#gc1)"/><circle cx="696.5" cy="1442.5" r="10.5" fill="url(#bc1)"/><circle cx="667.1" cy="1156.8" r="9.7" fill="url(#bc1)"/><circle cx="705.6" cy="1414.8" r="10.7" fill="url(#gc1)"/><circle cx="647.2" cy="1456.4" r="9.8" fill="url(#gc1)"/><circle cx="630.2" cy="1245.3" r="11.5" fill="url(#bc1)"/><circle cx="656.1" cy="1475.5" r="9.8" fill="url(#gc1)"/><circle cx="648.6" cy="1419" r="10" fill="url(#gc1)"/><circle cx="537" cy="1441" r="10.8" fill="url(#bc1)"/><circle cx="621.6" cy="1322.9" r="9.7" fill="url(#gc1)"/><circle cx="723.8" cy="1304" r="11.2" fill="url(#bc1)"/><circle cx="485.2" cy="1170.2" r="9.5" fill="url(#bc1)"/><circle cx="651.6" cy="1200.6" r="10.5" fill="url(#bc1)"/><circle cx="592.2" cy="1381.5" r="9.7" fill="url(#bc1)"/><circle cx="582.5" cy="1317.4" r="11.3" fill="url(#bc1)"/><circle cx="667.6" cy="1280.5" r="9.5" fill="url(#bc1)"/><circle cx="415.3" cy="1315.5" r="11" fill="url(#gc1)"/><circle cx="775.9" cy="1331.7" r="11.2" fill="url(#bc1)"/><circle cx="751.3" cy="1317.9" r="9.7" fill="url(#gc1)"/><circle cx="771.6" cy="1351.9" r="11.1" fill="url(#bc1)"/><circle cx="552.8" cy="1228.7" r="9.6" fill="url(#gc1)"/><circle cx="687.7" cy="1197.4" r="11.4" fill="url(#gc1)"/><circle cx="714" cy="1165.9" r="11.3" fill="url(#bc1)"/><circle cx="502" cy="1349.7" r="11.4" fill="url(#gc1)"/><circle cx="598.7" cy="1433.1" r="11" fill="url(#gc1)"/><circle cx="555.7" cy="1355.9" r="10" fill="url(#gc1)"/><circle cx="557.3" cy="1500.1" r="10.6" fill="url(#gc1)"/><circle cx="669" cy="1484.7" r="10.6" fill="url(#bc1)"/><circle cx="457" cy="1374.5" r="10.6" fill="url(#bc1)"/><circle cx="710.7" cy="1461.3" r="10.6" fill="url(#gc1)"/><circle cx="567.6" cy="1313.4" r="9.9" fill="url(#bc1)"/><circle cx="621.5" cy="1344" r="11.2" fill="url(#gc1)"/><circle cx="484.2" cy="1347.7" r="10.7" fill="url(#gc1)"/><circle cx="684.4" cy="1397.6" r="10.4" fill="url(#gc1)"/><circle cx="459.6" cy="1217.3" r="11.1" fill="url(#bc1)"/><circle cx="788.1" cy="1297.5" r="10.7" fill="url(#bc1)"/><circle cx="737.1" cy="1267.4" r="11" fill="url(#gc1)"/><circle cx="442.8" cy="1289.4" r="10.8" fill="url(#bc1)"/><circle cx="672.8" cy="1382.8" r="10.9" fill="url(#bc1)"/><circle cx="740.7" cy="1207.9" r="10.8" fill="url(#gc1)"/><circle cx="470.5" cy="1379.3" r="10.9" fill="url(#bc1)"/><circle cx="590.8" cy="1208.8" r="11.5" fill="url(#gc1)"/><circle cx="495" cy="1330.1" r="11.4" fill="url(#gc1)"/><circle cx="643.6" cy="1404" r="11.3" fill="url(#gc1)"/><circle cx="622.3" cy="1275.9" r="11.1" fill="url(#bc1)"/><circle cx="703.6" cy="1385" r="10.2" fill="url(#gc1)"/><circle cx="557.1" cy="1193.8" r="11.3" fill="url(#gc1)"/><circle cx="500.1" cy="1172.3" r="10.7" fill="url(#bc1)"/><circle cx="724.8" cy="1411.5" r="11.1" fill="url(#gc1)"/><circle cx="511.7" cy="1273.9" r="10.8" fill="url(#gc1)"/><circle cx="674.4" cy="1260.1" r="11.4" fill="url(#gc1)"/><circle cx="638.3" cy="1156.9" r="9.8" fill="url(#gc1)"/><circle cx="562.7" cy="1428" r="10" fill="url(#bc1)"/><circle cx="651.1" cy="1500.7" r="9.5" fill="url(#bc1)"/><circle cx="553.4" cy="1369.7" r="10.9" fill="url(#bc1)"/><circle cx="446" cy="1381" r="9.6" fill="url(#bc1)"/><circle cx="513.5" cy="1261.3" r="9.9" fill="url(#gc1)"/><circle cx="514.5" cy="1427.3" r="11.4" fill="url(#gc1)"/><circle cx="764.3" cy="1389.6" r="11.3" fill="url(#bc1)"/><circle cx="807.3" cy="1347.8" r="10.3" fill="url(#gc1)"/><circle cx="595.2" cy="1222.6" r="10.2" fill="url(#bc1)"/><circle cx="767.7" cy="1276.5" r="9.7" fill="url(#gc1)"/><circle cx="719.6" cy="1263" r="10.3" fill="url(#yc1)"/><circle cx="484.2" cy="1294.7" r="10.3" fill="url(#bc1)"/><circle cx="699" cy="1470.1" r="10" fill="url(#gc1)"/><circle cx="557.3" cy="1207.2" r="10.3" fill="url(#gc1)"/><circle cx="581.7" cy="1416.1" r="10.1" fill="url(#gc1)"/><circle cx="627.4" cy="1434.5" r="9.7" fill="url(#bc1)"/><circle cx="781.2" cy="1221.8" r="10.2" fill="url(#gc1)"/><circle cx="643.9" cy="1385.8" r="9.8" fill="url(#gc1)"/><circle cx="620.4" cy="1446.2" r="10.3" fill="url(#bc1)"/><circle cx="524.8" cy="1364.5" r="11.3" fill="url(#bc1)"/><circle cx="615.3" cy="1456.6" r="10.1" fill="url(#gc1)"/><circle cx="472.7" cy="1171.5" r="10.6" fill="url(#bc1)"/><circle cx="469.4" cy="1446.2" r="9.6" fill="url(#bc1)"/><circle cx="628.9" cy="1214.5" r="11.4" fill="url(#gc1)"/><circle cx="663.8" cy="1189.1" r="11.2" fill="url(#gc1)"/><circle cx="549" cy="1438.9" r="10.2" fill="url(#bc1)"/><circle cx="551.6" cy="1255.2" r="11.2" fill="url(#gc1)"/><circle cx="433.3" cy="1251.3" r="9.5" fill="url(#bc1)"/><circle cx="425.6" cy="1325.7" r="11.1" fill="url(#gc1)"/><circle cx="439.2" cy="1207.2" r="11.5" fill="url(#gc1)"/><circle cx="465.7" cy="1239.8" r="9.8" fill="url(#gc1)"/><circle cx="603" cy="1459.9" r="9.5" fill="url(#bc1)"/><circle cx="661.5" cy="1177.3" r="10.4" fill="url(#gc1)"/><circle cx="613.8" cy="1353.8" r="9.8" fill="url(#bc1)"/><circle cx="742.7" cy="1234.8" r="11.2" fill="url(#gc1)"/><circle cx="427.8" cy="1311.4" r="10.7" fill="url(#gc1)"/><circle cx="807.4" cy="1254.9" r="11" fill="url(#bc1)"/><circle cx="483.4" cy="1328.1" r="11.1" fill="url(#bc1)"/><circle cx="736.2" cy="1379.7" r="9.6" fill="url(#bc1)"/><circle cx="521.3" cy="1216.7" r="9.7" fill="url(#gc1)"/><circle cx="437.3" cy="1343.4" r="9.8" fill="url(#bc1)"/><circle cx="520" cy="1230.3" r="10.7" fill="url(#bc1)"/><circle cx="528.5" cy="1408.2" r="10.5" fill="url(#bc1)"/><circle cx="646.9" cy="1281.9" r="10.8" fill="url(#gc1)"/><circle cx="552.6" cy="1396.5" r="11.3" fill="url(#gc1)"/><circle cx="539" cy="1454.6" r="9.6" fill="url(#gc1)"/><circle cx="599.6" cy="1356.5" r="11.3" fill="url(#bc1)"/><circle cx="704.2" cy="1299.5" r="9.5" fill="url(#bc1)"/><circle cx="730.2" cy="1216.7" r="10.9" fill="url(#bc1)"/><circle cx="748.1" cy="1368.7" r="10.4" fill="url(#gc1)"/><circle cx="509.9" cy="1447.3" r="10.7" fill="url(#bc1)"/><circle cx="639.5" cy="1302.6" r="10.5" fill="url(#bc1)"/><circle cx="473.4" cy="1362.4" r="10.1" fill="url(#gc1)"/><circle cx="709.3" cy="1226.8" r="10.8" fill="url(#rc1)"/><circle cx="494.4" cy="1211.4" r="10.7" fill="url(#gc1)"/><circle cx="474.5" cy="1189.6" r="9.5" fill="url(#bc1)"/><circle cx="479.4" cy="1305.7" r="9.6" fill="url(#bc1)"/><circle cx="514.6" cy="1413" r="10.7" fill="url(#bc1)"/><circle cx="495.7" cy="1433.3" r="10.2" fill="url(#gc1)"/><circle cx="645" cy="1470.9" r="9.6" fill="url(#gc1)"/><circle cx="783" cy="1259.4" r="10.9" fill="url(#gc1)"/><circle cx="578.2" cy="1378.9" r="11.3" fill="url(#gc1)"/><circle cx="502.2" cy="1320.8" r="9.7" fill="url(#bc1)"/><circle cx="566.9" cy="1265.7" r="10.2" fill="url(#rc1)"/><circle cx="754.8" cy="1418.1" r="11.4" fill="url(#bc1)"/><circle cx="616" cy="1262.9" r="11.5" fill="url(#gc1)"/><circle cx="579.6" cy="1403.2" r="10.6" fill="url(#yc1)"/><circle cx="775.3" cy="1207.5" r="9.6" fill="url(#gc1)"/><circle cx="584.7" cy="1368.3" r="9.7" fill="url(#bc1)"/><circle cx="770.2" cy="1263.2" r="11.4" fill="url(#gc1)"/><circle cx="484.9" cy="1203.6" r="10.5" fill="url(#bc1)"/><circle cx="499" cy="1418.4" r="11.4" fill="url(#gc1)"/><circle cx="529" cy="1480.3" r="10.2" fill="url(#bc1)"/><circle cx="492.3" cy="1405.9" r="11.5" fill="url(#gc1)"/><circle cx="711.9" cy="1475" r="9.8" fill="url(#gc1)"/><circle cx="530.8" cy="1246" r="11.3" fill="url(#bc1)"/><circle cx="751.5" cy="1443.1" r="11.5" fill="url(#gc1)"/><circle cx="562.4" cy="1249.5" r="9.6" fill="url(#gc1)"/><circle cx="809.2" cy="1334.2" r="11.2" fill="url(#bc1)"/><circle cx="600.1" cy="1294" r="9.8" fill="url(#bc1)"/><circle cx="496" cy="1456" r="11.5" fill="url(#bc1)"/><circle cx="660.7" cy="1312.5" r="9.9" fill="url(#bc1)"/><circle cx="711.9" cy="1206.3" r="10.6" fill="url(#bc1)"/><circle cx="582.2" cy="1265.3" r="10.8" fill="url(#bc1)"/><circle cx="792.2" cy="1322.7" r="11.1" fill="url(#gc1)"/><circle cx="585.1" cy="1475.5" r="11" fill="url(#gc1)"/><circle cx="554.4" cy="1484.2" r="9.8" fill="url(#bc1)"/><circle cx="798.3" cy="1370.7" r="9.6" fill="url(#bc1)"/><circle cx="542.4" cy="1336.6" r="10.9" fill="url(#bc1)"/><circle cx="566.2" cy="1185.3" r="11.2" fill="url(#bc1)"/><circle cx="481.4" cy="1419.3" r="9.6" fill="url(#gc1)"/><circle cx="530.8" cy="1168.6" r="9.8" fill="url(#gc1)"/><circle cx="480.5" cy="1406.6" r="10.2" fill="url(#gc1)"/><circle cx="553.6" cy="1452.9" r="9.7" fill="url(#gc1)"/><circle cx="708.1" cy="1240.6" r="10.9" fill="url(#gc1)"/><circle cx="683.6" cy="1303.3" r="10.5" fill="url(#bc1)"/><circle cx="619.9" cy="1161.4" r="11.2" fill="url(#gc1)"/><circle cx="774.6" cy="1382.3" r="9.9" fill="url(#gc1)"/><circle cx="481.2" cy="1447.7" r="10.7" fill="url(#gc1)"/><circle cx="774.3" cy="1231.3" r="11.3" fill="url(#bc1)"/><circle cx="755.1" cy="1357.5" r="10.9" fill="url(#gc1)"/><circle cx="658.1" cy="1272.7" r="11.1" fill="url(#gc1)"/><circle cx="718.9" cy="1181.2" r="11.3" fill="url(#bc1)"/><circle cx="441.5" cy="1219.5" r="10.4" fill="url(#bc1)"/><circle cx="661.8" cy="1206.1" r="10.4" fill="url(#gc1)"/><circle cx="569.9" cy="1475.8" r="10.9" fill="url(#gc1)"/><circle cx="543.8" cy="1307.7" r="10.2" fill="url(#gc1)"/><circle cx="532.4" cy="1392.7" r="9.6" fill="url(#gc1)"/><circle cx="476.5" cy="1218.3" r="11.3" fill="url(#bc1)"/><circle cx="597.6" cy="1370.4" r="10.4" fill="url(#bc1)"/><circle cx="814.6" cy="1295.2" r="9.6" fill="url(#bc1)"/><circle cx="651.7" cy="1217" r="10.9" fill="url(#gc1)"/><circle cx="791.4" cy="1309.1" r="11.4" fill="url(#bc1)"/><circle cx="747.8" cy="1342.9" r="9.5" fill="url(#gc1)"/><circle cx="570.8" cy="1368.7" r="10" fill="url(#gc1)"/><circle cx="493.9" cy="1363.7" r="10.5" fill="url(#bc)"/><circle cx="678.9" cy="1461.5" r="9.9" fill="url(#gc)"/><circle cx="571.5" cy="1162.7" r="11.1" fill="url(#gc)"/><circle cx="694.4" cy="1230.9" r="9.7" fill="url(#bc)"/><circle cx="534.4" cy="1372.4" r="10.1" fill="url(#bc)"/><circle cx="736.8" cy="1366.8" r="10.1" fill="url(#gc)"/><circle cx="583.5" cy="1305.8" r="11.4" fill="url(#bc)"/><circle cx="804.6" cy="1323.3" r="10.2" fill="url(#gc)"/><circle cx="712.1" cy="1426.4" r="11.2" fill="url(#gc)"/><circle cx="767.3" cy="1432.9" r="10.9" fill="url(#bc)"/><circle cx="721.5" cy="1452.1" r="11.4" fill="url(#gc)"/><circle cx="695.8" cy="1395.2" r="10.7" fill="url(#gc)"/><circle cx="460.1" cy="1330.4" r="10.9" fill="url(#gc)"/><circle cx="673.9" cy="1171" r="10.7" fill="url(#gc)"/><circle cx="799.9" cy="1289.3" r="9.5" fill="url(#bc)"/><circle cx="552.6" cy="1268.6" r="10.7" fill="url(#rc1)"/><circle cx="553.1" cy="1316.7" r="10.3" fill="url(#gc)"/><circle cx="728.2" cy="1332.1" r="10.6" fill="url(#bc)"/><circle cx="764.9" cy="1244.3" r="11.3" fill="url(#bc)"/><circle cx="422.7" cy="1262.9" r="11.3" fill="url(#bc)"/><circle cx="611.1" cy="1488" r="10" fill="url(#gc)"/><circle cx="433.3" cy="1384.8" r="11" fill="url(#bc)"/><circle cx="714.5" cy="1404.8" r="11.5" fill="url(#gc)"/><circle cx="541.6" cy="1426.6" r="11.2" fill="url(#bc)"/><circle cx="785.8" cy="1349.3" r="10.8" fill="url(#bc)"/><circle cx="737.2" cy="1288.1" r="11.2" fill="url(#bc)"/><circle cx="670.6" cy="1337.6" r="10.8" fill="url(#gc)"/><circle cx="574.9" cy="1297.6" r="9.6" fill="url(#bc)"/><circle cx="444.9" cy="1355.3" r="9.6" fill="url(#bc)"/><circle cx="642.1" cy="1246.5" r="11" fill="url(#bc)"/><circle cx="794.8" cy="1338" r="10" fill="url(#gc)"/><circle cx="454" cy="1406" r="11.1" fill="url(#gc)"/><circle cx="774" cy="1413.2" r="9.6" fill="url(#bc)"/><circle cx="512.1" cy="1469.1" r="10.3" fill="url(#bc)"/><circle cx="689.9" cy="1383.2" r="9.6" fill="url(#gc)"/><circle cx="721.1" cy="1485.6" r="10.1" fill="url(#bc)"/><circle cx="543.8" cy="1471.8" r="10" fill="url(#gc)"/><circle cx="611.5" cy="1234.3" r="10.3" fill="url(#bc)"/><circle cx="772.6" cy="1369.8" r="10.8" fill="url(#bc)"/><circle cx="636.5" cy="1264.6" r="10.6" fill="url(#bc)"/><circle cx="625.5" cy="1173.1" r="9.8" fill="url(#bc)"/><circle cx="666.8" cy="1324.8" r="10.8" fill="url(#bc)"/><circle cx="702.1" cy="1172.6" r="10.1" fill="url(#gc)"/><circle cx="660.6" cy="1229.7" r="10.9" fill="url(#bc)"/><circle cx="547.2" cy="1281.9" r="9.8" fill="url(#gc)"/><circle cx="726.8" cy="1353.3" r="11.4" fill="url(#bc)"/><circle cx="461.8" cy="1193.1" r="9.9" fill="url(#bc)"/><circle cx="591.3" cy="1347.3" r="10.5" fill="url(#gc)"/><circle cx="699.9" cy="1214" r="9.6" fill="url(#bc)"/><circle cx="691.1" cy="1179.3" r="10.5" fill="url(#bc)"/><circle cx="592.2" cy="1503.3" r="9.9" fill="url(#gc)"/><circle cx="759.3" cy="1203.9" r="10.9" fill="url(#bc)"/><circle cx="722.1" cy="1228" r="9.7" fill="url(#rc1)"/><circle cx="711.2" cy="1312" r="11.2" fill="url(#rc1)"/><circle cx="658.3" cy="1426.5" r="10.5" fill="url(#bc)"/><circle cx="484.8" cy="1273.2" r="9.8" fill="url(#gc)"/><circle cx="725.8" cy="1240.8" r="9.9" fill="url(#gc)"/><circle cx="533.8" cy="1266.1" r="11.2" fill="url(#gc)"/><circle cx="701.2" cy="1201.7" r="9.7" fill="url(#gc)"/><circle cx="734.4" cy="1171.8" r="9.9" fill="url(#bc)"/><circle cx="814" cy="1315.9" r="9.5" fill="url(#bc)"/><circle cx="427.6" cy="1273.5" r="9.7" fill="url(#gc)"/><circle cx="584.6" cy="1390.4" r="10.6" fill="url(#gc)"/><circle cx="652.4" cy="1240.3" r="9.8" fill="url(#gc)"/><circle cx="595.9" cy="1394.8" r="10.2" fill="url(#bc)"/><circle cx="799.7" cy="1358.9" r="9.6" fill="url(#gc)"/><circle cx="475.5" cy="1257.9" r="11.2" fill="url(#bc)"/><circle cx="451" cy="1185.5" r="10.2" fill="url(#bc)"/><circle cx="634.4" cy="1325" r="10" fill="url(#gc)"/><circle cx="679.3" cy="1409.8" r="9.5" fill="url(#bc)"/><circle cx="571.3" cy="1494.3" r="9.6" fill="url(#gc)"/><circle cx="696.7" cy="1456.9" r="10.5" fill="url(#gc)"/><circle cx="635.8" cy="1372.3" r="9.5" fill="url(#gc)"/><circle cx="750.8" cy="1195.4" r="10.8" fill="url(#gc)"/><circle cx="707.5" cy="1371" r="10.5" fill="url(#bc)"/><circle cx="703.6" cy="1339.4" r="9.9" fill="url(#gc)"/><circle cx="597.9" cy="1449" r="9.7" fill="url(#bc)"/><circle cx="487" cy="1187" r="10" fill="url(#bc)"/><circle cx="754.5" cy="1288.5" r="10.2" fill="url(#gc)"/><circle cx="575.5" cy="1232.1" r="10.8" fill="url(#bc)"/><circle cx="443.9" cy="1277.8" r="11" fill="url(#gc)"/><circle cx="725.7" cy="1197.7" r="10.5" fill="url(#gc)"/><circle cx="644.3" cy="1230.7" r="11" fill="url(#bc)"/><circle cx="651.2" cy="1319.4" r="10.6" fill="url(#gc)"/><circle cx="462.1" cy="1180.5" r="11.1" fill="url(#bc)"/><circle cx="791" cy="1231.4" r="11.4" fill="url(#bc)"/><circle cx="570.1" cy="1326.3" r="9.6" fill="url(#gc)"/><circle cx="687" cy="1217.9" r="10" fill="url(#gc)"/><circle cx="726.4" cy="1423.2" r="10.2" fill="url(#gc)"/><circle cx="469.5" cy="1206" r="9.5" fill="url(#bc)"/><circle cx="565.3" cy="1449.5" r="9.6" fill="url(#gc)"/><circle cx="437.1" cy="1239.5" r="10.5" fill="url(#gc)"/><circle cx="693.5" cy="1365.4" r="10.9" fill="url(#gc)"/><circle cx="740.4" cy="1446.8" r="11.5" fill="url(#bc)"/><circle cx="551.2" cy="1344.6" r="11.2" fill="url(#gc)"/><circle cx="457.4" cy="1260.2" r="10.7" fill="url(#bc)"/><circle cx="698.9" cy="1257.8" r="9.6" fill="url(#bc)"/><circle cx="612.3" cy="1380.5" r="10.6" fill="url(#rc1)"/><circle cx="772.2" cy="1289.5" r="11" fill="url(#gc)"/><circle cx="737.4" cy="1419.2" r="10.1" fill="url(#gc)"/><circle cx="499.4" cy="1276.7" r="11" fill="url(#gc)"/><circle cx="681.4" cy="1186.2" r="9.5" fill="url(#gc)"/><circle cx="693.8" cy="1311.2" r="9.6" fill="url(#bc)"/><circle cx="443.6" cy="1333.6" r="9.6" fill="url(#rc1)"/><circle cx="677.9" cy="1357.5" r="11" fill="url(#gc)"/><circle cx="665.8" cy="1406.9" r="9.7" fill="url(#bc)"/><circle cx="784.9" cy="1201.1" r="11.1" fill="url(#gc)"/><circle cx="621.4" cy="1481.4" r="9.7" fill="url(#bc)"/><circle cx="769.5" cy="1195.9" r="11.4" fill="url(#bc)"/><circle cx="526.3" cy="1184.6" r="11.5" fill="url(#gc)"/><circle cx="477.7" cy="1432.4" r="11.1" fill="url(#bc)"/><circle cx="520.4" cy="1160.6" r="11.1" fill="url(#bc)"/><circle cx="762.1" cy="1339.1" r="10" fill="url(#gc)"/><circle cx="716.7" cy="1345" r="9.7" fill="url(#bc)"/><circle cx="679.7" cy="1160.8" r="9.6" fill="url(#bc)"/><circle cx="497.7" cy="1252.6" r="11.2" fill="url(#bc)"/><circle cx="416" cy="1303.5" r="10.4" fill="url(#gc)"/><circle cx="468.4" cy="1350.2" r="11.1" fill="url(#gc)"/><circle cx="665.3" cy="1241.6" r="11" fill="url(#gc)"/><circle cx="532.3" cy="1212.4" r="10.7" fill="url(#gc)"/><circle cx="679.7" cy="1228.9" r="10.7" fill="url(#gc)"/><circle cx="643.8" cy="1482.5" r="11.4" fill="url(#gc)"/><circle cx="526.4" cy="1459.6" r="11.3" fill="url(#gc)"/><circle cx="548.3" cy="1416.9" r="10.8" fill="url(#bc)"/><circle cx="558.2" cy="1305.8" r="9.6" fill="url(#bc)"/><circle cx="465.2" cy="1434.4" r="10.2" fill="url(#bc)"/><circle cx="624.6" cy="1199.3" r="9.7" fill="url(#bc)"/><circle cx="777.5" cy="1310" r="10.2" fill="url(#gc)"/><circle cx="525.2" cy="1315.3" r="9.7" fill="url(#bc)"/><circle cx="765.9" cy="1302.2" r="10.6" fill="url(#gc)"/><circle cx="655.8" cy="1331.2" r="11.5" fill="url(#bc)"/><circle cx="510.5" cy="1305.8" r="9.9" fill="url(#bc)"/><circle cx="559.7" cy="1160.1" r="9.5" fill="url(#gc)"/><circle cx="642.6" cy="1208.6" r="10.1" fill="url(#gc)"/><circle cx="673.6" cy="1205.5" r="10" fill="url(#gc)"/><circle cx="566.2" cy="1413.1" r="9.9" fill="url(#bc)"/><circle cx="717" cy="1360.8" r="9.7" fill="url(#bc)"/><circle cx="580.5" cy="1198" r="11.3" fill="url(#bc)"/><circle cx="537.4" cy="1348.7" r="11.4" fill="url(#bc)"/><circle cx="737.2" cy="1347.8" r="9.5" fill="url(#gc)"/><circle cx="565.7" cy="1379.7" r="9.6" fill="url(#gc)"/><circle cx="598.1" cy="1191.6" r="10.7" fill="url(#bc)"/><circle cx="737.5" cy="1301.9" r="9.5" fill="url(#gc)"/><circle cx="649" cy="1437" r="10.1" fill="url(#gc)"/><circle cx="441.6" cy="1410.4" r="11.4" fill="url(#gc)"/><circle cx="529.5" cy="1421.9" r="9.6" fill="url(#bc)"/><circle cx="450.3" cy="1309" r="10.9" fill="url(#bc)"/><circle cx="470.3" cy="1336.5" r="11.3" fill="url(#bc)"/><circle cx="640.9" cy="1361" r="11.2" fill="url(#bc)"/><circle cx="611.5" cy="1401.4" r="10.5" fill="url(#gc)"/><circle cx="498.9" cy="1302.8" r="11.3" fill="url(#bc)"/><circle cx="474.6" cy="1391.1" r="10.5" fill="url(#gc)"/><circle cx="597.4" cy="1253.7" r="10.2" fill="url(#bc)"/><circle cx="497.8" cy="1264.8" r="10.1" fill="url(#gc)"/><circle cx="694.7" cy="1244.7" r="9.5" fill="url(#bc)"/><circle cx="488.2" cy="1240.6" r="10.2" fill="url(#gc)"/><circle cx="513.2" cy="1171.7" r="9.8" fill="url(#gc)"/><circle cx="762.5" cy="1406.1" r="11.5" fill="url(#gc)"/><circle cx="752" cy="1381.6" r="11.1" fill="url(#bc)"/><circle cx="552.3" cy="1294.4" r="11.5" fill="url(#gc)"/><circle cx="655.6" cy="1290.5" r="11.2" fill="url(#bc)"/><circle cx="717.9" cy="1391.5" r="11.4" fill="url(#gc)"/><circle cx="678.4" cy="1244.7" r="10.3" fill="url(#bc)"/><circle cx="550.8" cy="1242.2" r="10.9" fill="url(#bc)"/><circle cx="763.3" cy="1184.5" r="11.2" fill="url(#bc)"/><circle cx="578.4" cy="1252.3" r="9.7" fill="url(#bc)"/><circle cx="565.3" cy="1397.3" r="10.4" fill="url(#gc)"/><circle cx="774.1" cy="1400.9" r="10.8" fill="url(#gc)"/><circle cx="788" cy="1244.6" r="10.5" fill="url(#bc)"/><circle cx="578.1" cy="1172.3" r="10.4" fill="url(#rc1)"/><circle cx="464" cy="1414" r="10.2" fill="url(#bc)"/><circle cx="753" cy="1395.2" r="11" fill="url(#bc)"/><circle cx="415.8" cy="1334.5" r="10.2" fill="url(#gc)"/><circle cx="513.5" cy="1317.9" r="11.1" fill="url(#bc)"/><circle cx="758.1" cy="1230.4" r="10.8" fill="url(#gc)"/><circle cx="781" cy="1359.9" r="9.9" fill="url(#bc)"/><circle cx="668.6" cy="1498.1" r="10.7" fill="url(#bc)"/><circle cx="702.5" cy="1327" r="11.4" fill="url(#bc)"/><circle cx="752.2" cy="1458.5" r="11" fill="url(#bc)"/><circle cx="799.8" cy="1275.1" r="10.8" fill="url(#bc)"/><circle cx="663.2" cy="1390" r="10.1" fill="url(#bc)"/><circle cx="625.4" cy="1364" r="9.9" fill="url(#gc)"/><circle cx="441.2" cy="1265.2" r="9.8" fill="url(#bc)"/><circle cx="631.8" cy="1312" r="11.2" fill="url(#gc)"/><circle cx="714.2" cy="1251.7" r="10.5" fill="url(#gc)"/><circle cx="649.6" cy="1255.6" r="9.5" fill="url(#bc)"/><circle cx="540.9" cy="1234.8" r="9.5" fill="url(#bc)"/><circle cx="634.8" cy="1286.8" r="11.3" fill="url(#bc)"/><circle cx="526.6" cy="1332.7" r="11.3" fill="url(#gc)"/><circle cx="608.5" cy="1201.6" r="10.9" fill="url(#gc)"/><circle cx="421.3" cy="1284.9" r="10" fill="url(#gc)"/><circle cx="523.8" cy="1255.9" r="11.2" fill="url(#bc)"/><circle cx="452.6" cy="1393.7" r="9.6" fill="url(#bc)"/><circle cx="809.9" cy="1281.6" r="10.5" fill="url(#bc)"/><circle cx="785.4" cy="1370.9" r="9.7" fill="url(#bc)"/><circle cx="497.4" cy="1380.7" r="10.8" fill="url(#bc)"/><circle cx="449.7" cy="1198.2" r="10.3" fill="url(#bc)"/><circle cx="733.9" cy="1187.1" r="10.5" fill="url(#bc)"/><circle cx="600.3" cy="1316.7" r="10.7" fill="url(#bc)"/><circle cx="754.4" cy="1262.2" r="10.1" fill="url(#gc)"/><circle cx="524.1" cy="1351.7" r="10.2" fill="url(#bc)"/><circle cx="591.4" cy="1282.7" r="11.3" fill="url(#bc)"/><circle cx="588.2" cy="1177.8" r="10.5" fill="url(#rc1)"/><circle cx="666" cy="1459.6" r="10" fill="url(#gc)"/><circle cx="745.4" cy="1251.3" r="11.3" fill="url(#gc)"/><circle cx="595.9" cy="1470.1" r="10.4" fill="url(#bc)"/><circle cx="651.3" cy="1302.4" r="10.3" fill="url(#bc)"/><circle cx="718.2" cy="1286" r="11.3" fill="url(#bc)"/><circle cx="622.7" cy="1466.7" r="10" fill="url(#gc)"/><circle cx="609.5" cy="1441.3" r="11" fill="url(#bc)"/><circle cx="515.2" cy="1285.3" r="10.4" fill="url(#bc)"/><circle cx="729.2" cy="1276" r="11.1" fill="url(#gc)"/><circle cx="483.7" cy="1380.4" r="10.9" fill="url(#bc)"/><circle cx="597.4" cy="1331.3" r="10.9" fill="url(#gc)"/><circle cx="578.2" cy="1185.6" r="9.8" fill="url(#rc1)"/><circle cx="452.3" cy="1345.8" r="9.5" fill="url(#bc)"/><circle cx="747.3" cy="1274.3" r="10" fill="url(#gc)"/><circle cx="632.6" cy="1477.2" r="11.5" fill="url(#gc)"/><circle cx="561.7" cy="1172" r="10.8" fill="url(#bc)"/><circle cx="695.3" cy="1272.2" r="11.4" fill="url(#bc)"/><circle cx="755.3" cy="1329.4" r="10" fill="url(#bc)"/><circle cx="539.7" cy="1489.7" r="10.3" fill="url(#bc)"/><circle cx="690.3" cy="1345.8" r="11" fill="url(#gc)"/><circle cx="576.7" cy="1506.9" r="10.1" fill="url(#gc)"/><circle cx="448.4" cy="1322.8" r="11.1" fill="url(#gc)"/><circle cx="419.4" cy="1357" r="9.9" fill="url(#bc)"/><circle cx="615.8" cy="1184" r="10.1" fill="url(#bc)"/><circle cx="640" cy="1186.7" r="11.5" fill="url(#bc)"/><circle cx="689" cy="1478.7" r="11.1" fill="url(#gc)"/><circle cx="714.9" cy="1440.8" r="10.5" fill="url(#gc)"/><circle cx="448.7" cy="1423.5" r="10.5" fill="url(#bc)"/><circle cx="582.7" cy="1461.3" r="10.1" fill="url(#bc)"/><circle cx="630.1" cy="1232.1" r="10.9" fill="url(#gc)"/><circle cx="514.2" cy="1190.1" r="9.5" fill="url(#gc)"/><circle cx="538" cy="1188.9" r="11.2" fill="url(#gc)"/><circle cx="688.9" cy="1291.9" r="10.9" fill="url(#bc)"/><circle cx="765" cy="1314.8" r="10.2" fill="url(#bc)"/><circle cx="491.4" cy="1224.5" r="11" fill="url(#gc)"/><circle cx="540.7" cy="1404.6" r="10" fill="url(#bc)"/><circle cx="458.4" cy="1361.2" r="10.7" fill="url(#bc)"/><circle cx="540.9" cy="1361.6" r="10.7" fill="url(#bc)"/><circle cx="532.7" cy="1199.2" r="9.6" fill="url(#gc)"/><circle cx="568.8" cy="1202.4" r="9.8" fill="url(#bc)"/><circle cx="574.9" cy="1285.2" r="9.7" fill="url(#bc)"/><circle cx="786.5" cy="1274.1" r="11" fill="url(#gc)"/><circle cx="594.5" cy="1167" r="10.7" fill="url(#gc)"/><circle cx="745.3" cy="1184.3" r="11.3" fill="url(#bc)"/><circle cx="583.6" cy="1161.3" r="9.7" fill="url(#bc)"/><circle cx="637.8" cy="1337.3" r="11.5" fill="url(#gc)"/><circle cx="495.7" cy="1393.2" r="11.4" fill="url(#bc)"/><circle cx="611.3" cy="1221.8" r="10.7" fill="url(#bc)"/><circle cx="460.6" cy="1293.6" r="11.5" fill="url(#bc)"/><circle cx="503.8" cy="1407.1" r="9.7" fill="url(#bc)"/><circle cx="699.1" cy="1284.1" r="11.4" fill="url(#bc)"/><circle cx="520.1" cy="1395.2" r="9.7" fill="url(#bc)"/><circle cx="648.2" cy="1176.2" r="10.1" fill="url(#gc)"/><circle cx="670.6" cy="1434.9" r="11.1" fill="url(#bc)"/><circle cx="692" cy="1162" r="11.2" fill="url(#gc)"/><circle cx="524.1" cy="1438.3" r="10.4" fill="url(#bc)"/><circle cx="804.6" cy="1306.6" r="10.1" fill="url(#gc)"/><circle cx="597.5" cy="1413.4" r="10.6" fill="url(#bc)"/><circle cx="660.4" cy="1440.3" r="11.3" fill="url(#gc)"/><circle cx="441.7" cy="1368" r="11.4" fill="url(#bc)"/><circle cx="550.5" cy="1174.9" r="10.2" fill="url(#gc)"/><circle cx="755" cy="1431.3" r="11.5" fill="url(#bc)"/><circle cx="748.9" cy="1408" r="10.9" fill="url(#gc)"/><circle cx="536.3" cy="1320.9" r="9.7" fill="url(#gc)"/><circle cx="639" cy="1493.4" r="11.4" fill="url(#bc)"/><circle cx="775.1" cy="1251" r="10.9" fill="url(#bc)"/><circle cx="706.6" cy="1450.2" r="11.1" fill="url(#gc)"/><circle cx="498.7" cy="1233.7" r="9.8" fill="url(#gc)"/><circle cx="608.2" cy="1475.9" r="11" fill="url(#gc)"/><circle cx="613.2" cy="1311" r="9.8" fill="url(#gc)"/><circle cx="685.9" cy="1262" r="10.5" fill="url(#gc)"/><circle cx="532.2" cy="1224.5" r="10.7" fill="url(#gc)"/><circle cx="610" cy="1414.9" r="10.9" fill="url(#gc)"/><circle cx="561.3" cy="1219.3" r="9.5" fill="url(#gc)"/><circle cx="707.1" cy="1270.9" r="10.3" fill="url(#bc)"/><circle cx="651.5" cy="1375.3" r="11.5" fill="url(#bc)"/><circle cx="472.5" cy="1321.2" r="10.1" fill="url(#bc)"/><circle cx="491.3" cy="1315" r="11.4" fill="url(#gc)"/><circle cx="598.4" cy="1241.8" r="11.2" fill="url(#bc)"/><circle cx="578.8" cy="1214.6" r="9.8" fill="url(#bc)"/><circle cx="725.8" cy="1373" r="11.5" fill="url(#gc)"/><circle cx="542.7" cy="1160.3" r="10.8" fill="url(#gc)"/><circle cx="723.5" cy="1472.6" r="10.9" fill="url(#gc)"/><circle cx="729.7" cy="1318.6" r="10.6" fill="url(#bc)"/><circle cx="572.4" cy="1342.4" r="10.5" fill="url(#gc)"/><circle cx="706.9" cy="1187.6" r="10" fill="url(#gc)"/><circle cx="467.4" cy="1227.5" r="10.4" fill="url(#bc)"/><circle cx="692.7" cy="1429.1" r="11.4" fill="url(#gc)"/><circle cx="586.4" cy="1491.6" r="11.3" fill="url(#gc)"/><circle cx="750.5" cy="1304" r="10.4" fill="url(#gc)"/><circle cx="510.9" cy="1367.8" r="9.5" fill="url(#bc)"/><circle cx="601.2" cy="1266.5" r="10.1" fill="url(#gc)"/><circle cx="677.2" cy="1445.8" r="9.8" fill="url(#rc1)"/><circle cx="709.2" cy="1486.4" r="11.2" fill="url(#bc)"/><circle cx="513.3" cy="1203.5" r="11.2" fill="url(#gc)"/><circle cx="615" cy="1369.2" r="9.5" fill="url(#rc1)"/><circle cx="434.2" cy="1298.7" r="11" fill="url(#gc)"/><circle cx="735.1" cy="1404.7" r="11.1" fill="url(#gc)"/><circle cx="625.8" cy="1256.3" r="11.1" fill="url(#bc)"/><circle cx="630.9" cy="1399.8" r="9.5" fill="url(#gc)"/><circle cx="677.2" cy="1423.4" r="9.9" fill="url(#bc)"/><circle cx="650.2" cy="1161.2" r="10.6" fill="url(#gc)"/><circle cx="505.6" cy="1161.4" r="9.5" fill="url(#bc)"/><circle cx="693.2" cy="1409.8" r="11.5" fill="url(#gc)"/><circle cx="686.8" cy="1329.5" r="9.5" fill="url(#bc)"/><circle cx="672.3" cy="1473.5" r="9.9" fill="url(#gc)"/><circle cx="440.6" cy="1396.7" r="11.3" fill="url(#gc)"/><circle cx="760.2" cy="1368" r="10.3" fill="url(#gc)"/><circle cx="525.2" cy="1275.4" r="10.2" fill="url(#bc)"/><circle cx="568.7" cy="1461" r="9.8" fill="url(#gc)"/><circle cx="613.2" cy="1245.9" r="10.7" fill="url(#gc)"/><circle cx="631.2" cy="1385.6" r="11.1" fill="url(#gc)"/><circle cx="499.8" cy="1468.8" r="10" fill="url(#bc)"/><circle cx="481.1" cy="1230.6" r="10" fill="url(#bc)"/><circle cx="574.5" cy="1425.7" r="10.8" fill="url(#bc)"/><circle cx="728" cy="1436.9" r="10.6" fill="url(#gc)"/><circle cx="732.1" cy="1462.4" r="10.7" fill="url(#bc)"/><circle cx="508.8" cy="1224" r="10" fill="url(#gc)"/><circle cx="664" cy="1253.3" r="11.3" fill="url(#gc)"/><circle cx="431" cy="1372.3" r="10.1" fill="url(#bc)"/><circle cx="432.7" cy="1359.4" r="10.2" fill="url(#bc)"/><circle cx="651.9" cy="1394.2" r="11.1" fill="url(#bc)"/><circle cx="449.5" cy="1233.5" r="10.8" fill="url(#gc)"/><circle cx="660" cy="1355.7" r="9.7" fill="url(#bc)"/><circle cx="715.9" cy="1322.7" r="9.9" fill="url(#gc)"/><circle cx="750.1" cy="1221.4" r="9.9" fill="url(#bc)"/><circle cx="671.6" cy="1218.4" r="10.5" fill="url(#gc)"/><circle cx="730.8" cy="1253.4" r="10.6" fill="url(#bc)"/><circle cx="679.3" cy="1314.1" r="10" fill="url(#bc)"/><circle cx="539.2" cy="1293.9" r="10.1" fill="url(#gc)"/><circle cx="663.6" cy="1374.2" r="10" fill="url(#bc)"/><circle cx="613.8" cy="1430.1" r="11.2" fill="url(#gc)"/><circle cx="511.9" cy="1336.8" r="9.9" fill="url(#bc)"/><circle cx="734.4" cy="1392.8" r="10.1" fill="url(#bc)"/><circle cx="558.7" cy="1329.1" r="10.1" fill="url(#gc)"/><circle cx="512.3" cy="1245.5" r="10.1" fill="url(#bc)"/><circle cx="740.6" cy="1328.2" r="9.5" fill="url(#gc)"/><circle cx="448.6" cy="1251.7" r="11.2" fill="url(#bc)"/><circle cx="680.2" cy="1275.4" r="10.8" fill="url(#gc)"/><circle cx="706.9" cy="1353.6" r="9.8" fill="url(#gc)"/><circle cx="564.4" cy="1277.7" r="9.5" fill="url(#rc1)"/><circle cx="583.9" cy="1240.6" r="11.1" fill="url(#bc)"/><circle cx="507.3" cy="1388" r="9.8" fill="url(#bc)"/><circle cx="609.3" cy="1279.3" r="9.6" fill="url(#bc)"/><circle cx="596.1" cy="1483.1" r="10.9" fill="url(#gc)"/><circle cx="708.3" cy="1155.6" r="11" fill="url(#bc)"/><circle cx="633.7" cy="1453.3" r="10.7" fill="url(#bc)"/><circle cx="769.5" cy="1219.5" r="10.9" fill="url(#bc)"/><circle cx="467.1" cy="1283.7" r="10.5" fill="url(#gc)"/><circle cx="555.4" cy="1469.6" r="9.8" fill="url(#gc)"/><circle cx="606.9" cy="1338.6" r="10.2" fill="url(#bc)"/><circle cx="545.2" cy="1381.9" r="10.7" fill="url(#gc)"/><circle cx="605.2" cy="1177.7" r="10.3" fill="url(#gc)"/><circle cx="604.5" cy="1498.1" r="10.9" fill="url(#gc)"/><circle cx="585.6" cy="1449.9" r="11.4" fill="url(#gc)"/><circle cx="468.4" cy="1267.1" r="9.7" fill="url(#bc)"/><circle cx="498" cy="1290.7" r="10.3" fill="url(#gc)"/><circle cx="539.6" cy="1254.9" r="11" fill="url(#bc)"/><circle cx="424.9" cy="1345.9" r="10.9" fill="url(#bc)"/><circle cx="456.8" cy="1277.3" r="11.2" fill="url(#bc)"/><circle cx="477.7" cy="1246.1" r="10.9" fill="url(#bc)"/><circle cx="798.1" cy="1262.1" r="10.4" fill="url(#bc)"/><circle cx="414.2" cy="1275.5" r="10" fill="url(#bc)"/><circle cx="606.5" cy="1163.9" r="11.4" fill="url(#gc)"/><circle cx="676.6" cy="1370.2" r="9.9" fill="url(#gc)"/><circle cx="525.2" cy="1383.4" r="9.9" fill="url(#bc)"/><circle cx="610.3" cy="1326.6" r="10.3" fill="url(#gc)"/><circle cx="626" cy="1415.3" r="11.4" fill="url(#gc)"/><circle cx="620.1" cy="1296.5" r="11.5" fill="url(#gc)"/><circle cx="649.7" cy="1346.2" r="11.2" fill="url(#bc)"/><circle cx="527.2" cy="1300.5" r="11" fill="url(#bc)"/><circle cx="586.5" cy="1428.6" r="10.4" fill="url(#gc)"/><circle cx="636.6" cy="1350" r="11.4" fill="url(#gc)"/><circle cx="656.9" cy="1488.9" r="9.8" fill="url(#bc)"/><circle cx="545.5" cy="1209.6" r="10.4" fill="url(#gc)"/><circle cx="638.1" cy="1441.2" r="11.4" fill="url(#gc)"/><circle cx="500.6" cy="1192.2" r="10.7" fill="url(#gc)"/><circle cx="743.5" cy="1430.5" r="11.1" fill="url(#gc)"/><circle cx="464.3" cy="1400.2" r="9.6" fill="url(#bc)"/><circle cx="577" cy="1356.4" r="10.5" fill="url(#bc)"/><circle cx="785.6" cy="1388.4" r="9.9" fill="url(#gc)"/><circle cx="635.5" cy="1422.4" r="9.5" fill="url(#gc)"/><circle cx="481.5" cy="1459.5" r="10.1" fill="url(#bc)"/><circle cx="622.8" cy="1493.7" r="10.4" fill="url(#gc)"/><circle cx="466.9" cy="1307.9" r="10.7" fill="url(#bc)"/><circle cx="581.8" cy="1330.5" r="9.8" fill="url(#gc)"/><circle cx="570.2" cy="1438.4" r="10.1" fill="url(#bc)"/></g><g><polygon points="451.2,1790.7 452.8,1803.5 461.2,1813.7 479,1827.9 501,1829.8 534.2,1835.3 554,1827.8 592.6,1833.6 630.6,1841.1 668.7,1839.3 706.5,1841.1 737.7,1836 741.3,1822.3 752.9,1808.6 759.6,1796.7 756.1,1768.6 742,1749.1 723,1735.8 704.9,1719.5 672.5,1715.5 639.1,1695.9 628.6,1684.4 562.6,1689 538.9,1701.8 521.4,1715.4 498.7,1724.9 475,1744.9" fill="#264e36"/><circle cx="655.8" cy="1836.1" r="8.9" fill="url(#gc1)"/><circle cx="585.8" cy="1732.6" r="8.3" fill="url(#bc1)"/><circle cx="489.4" cy="1822.4" r="9.1" fill="url(#bc1)"/><circle cx="680.6" cy="1774" r="9" fill="url(#gc1)"/><circle cx="515.1" cy="1785.7" r="7.9" fill="url(#bc1)"/><circle cx="687.1" cy="1742.4" r="8.6" fill="url(#gc1)"/><circle cx="661.9" cy="1716.7" r="8.5" fill="url(#bc1)"/><circle cx="601.6" cy="1804.7" r="9.3" fill="url(#bc1)"/><circle cx="732.9" cy="1742.9" r="8.4" fill="url(#bc1)"/><circle cx="510.4" cy="1814.9" r="8.6" fill="url(#bc1)"/><circle cx="470.2" cy="1823.5" r="7.9" fill="url(#gc1)"/><circle cx="609.5" cy="1823.6" r="9.2" fill="url(#gc1)"/><circle cx="671.7" cy="1841.5" r="8.8" fill="url(#bc1)"/><circle cx="705.6" cy="1781.9" r="8.2" fill="url(#gc1)"/><circle cx="590.5" cy="1742" r="9" fill="url(#gc1)"/><circle cx="622.5" cy="1684.8" r="8" fill="url(#gc1)"/><circle cx="546.3" cy="1811.4" r="9.1" fill="url(#gc1)"/><circle cx="633.6" cy="1794.2" r="7.7" fill="url(#gc1)"/><circle cx="705.6" cy="1771.4" r="8" fill="url(#bc1)"/><circle cx="757.1" cy="1800.7" r="8.1" fill="url(#bc1)"/><circle cx="649.1" cy="1759.3" r="9" fill="url(#bc1)"/><circle cx="505.2" cy="1733.6" r="7.7" fill="url(#gc1)"/><circle cx="710.7" cy="1820.1" r="7.8" fill="url(#gc1)"/><circle cx="609.6" cy="1814.1" r="8.4" fill="url(#bc1)"/><circle cx="599.8" cy="1793.5" r="8.8" fill="url(#bc1)"/><circle cx="697.9" cy="1835.2" r="8.5" fill="url(#bc1)"/><circle cx="500.8" cy="1743.6" r="8.8" fill="url(#gc1)"/><circle cx="687.2" cy="1765.8" r="8" fill="url(#bc1)"/><circle cx="600" cy="1825.2" r="7.9" fill="url(#rc1)"/><circle cx="522.9" cy="1715.2" r="9" fill="url(#bc1)"/><circle cx="718.7" cy="1805.1" r="7.7" fill="url(#gc1)"/><circle cx="676.9" cy="1825.8" r="8.6" fill="url(#bc1)"/><circle cx="516.1" cy="1724" r="9.1" fill="url(#bc1)"/><circle cx="690.8" cy="1755.9" r="8.6" fill="url(#gc1)"/><circle cx="472.5" cy="1785.6" r="8.4" fill="url(#gc1)"/><circle cx="479.1" cy="1794.5" r="8.6" fill="url(#gc1)"/><circle cx="672.4" cy="1764" r="8.4" fill="url(#gc1)"/><circle cx="655.9" cy="1736.3" r="9.3" fill="url(#bc1)"/><circle cx="548.8" cy="1773.3" r="9.3" fill="url(#bc1)"/><circle cx="755.4" cy="1767.1" r="7.8" fill="url(#gc1)"/><circle cx="607.8" cy="1783.3" r="8.1" fill="url(#bc1)"/><circle cx="625.6" cy="1721.6" r="8.8" fill="url(#gc1)"/><circle cx="502.3" cy="1822.5" r="7.9" fill="url(#gc1)"/><circle cx="488" cy="1801.4" r="9" fill="url(#gc1)"/><circle cx="465.4" cy="1764.3" r="9.2" fill="url(#gc1)"/><circle cx="496" cy="1796.3" r="9.3" fill="url(#gc1)"/><circle cx="632.7" cy="1728" r="8.6" fill="url(#gc1)"/><circle cx="481.8" cy="1810" r="9.3" fill="url(#bc1)"/><circle cx="705.8" cy="1725.7" r="8.9" fill="url(#bc1)"/><circle cx="685.7" cy="1804.5" r="8.6" fill="url(#gc1)"/><circle cx="516.5" cy="1803.2" r="8" fill="url(#bc1)"/><circle cx="559.3" cy="1778.8" r="8.9" fill="url(#gc1)"/><circle cx="569.6" cy="1752.2" r="8.4" fill="url(#bc1)"/><circle cx="478.9" cy="1819" r="9" fill="url(#bc1)"/><circle cx="592.5" cy="1707.1" r="7.7" fill="url(#gc1)"/><circle cx="524.9" cy="1824.9" r="8.7" fill="url(#gc1)"/><circle cx="542.1" cy="1830.4" r="7.7" fill="url(#bc1)"/><circle cx="629" cy="1778.2" r="9.3" fill="url(#bc1)"/><circle cx="596.1" cy="1728.4" r="9" fill="url(#bc1)"/><circle cx="570.7" cy="1742.5" r="7.9" fill="url(#bc1)"/><circle cx="747.3" cy="1802.5" r="8.5" fill="url(#bc1)"/><circle cx="527.4" cy="1835.1" r="8.3" fill="url(#bc1)"/><circle cx="535.8" cy="1709.7" r="8.4" fill="url(#gc1)"/><circle cx="617.4" cy="1839.9" r="7.8" fill="url(#bc1)"/><circle cx="482.4" cy="1785.6" r="7.9" fill="url(#bc1)"/><circle cx="503.7" cy="1724.1" r="8" fill="url(#bc1)"/><circle cx="551.1" cy="1802.1" r="9" fill="url(#bc1)"/><circle cx="665.7" cy="1832.4" r="8.8" fill="url(#gc1)"/><circle cx="675.2" cy="1717.2" r="8.8" fill="url(#bc1)"/><circle cx="607" cy="1733" r="7.7" fill="url(#bc1)"/><circle cx="541.8" cy="1749.7" r="8.1" fill="url(#gc1)"/><circle cx="557.9" cy="1768.2" r="8.5" fill="url(#bc1)"/><circle cx="567.5" cy="1813.7" r="7.9" fill="url(#bc)"/><circle cx="547.1" cy="1696.9" r="7.9" fill="url(#bc)"/><circle cx="556.3" cy="1816.8" r="8.3" fill="url(#gc)"/><circle cx="677" cy="1727" r="8.9" fill="url(#bc)"/><circle cx="471" cy="1800.1" r="9.1" fill="url(#bc)"/><circle cx="720.4" cy="1731.2" r="8.2" fill="url(#gc)"/><circle cx="616.8" cy="1788.9" r="9.1" fill="url(#bc)"/><circle cx="724.9" cy="1757.5" r="9" fill="url(#gc)"/><circle cx="719.8" cy="1815.4" r="8.8" fill="url(#gc)"/><circle cx="730.5" cy="1838.6" r="8.5" fill="url(#gc)"/><circle cx="475.3" cy="1758.3" r="8" fill="url(#bc)"/><circle cx="713.4" cy="1746" r="8" fill="url(#gc)"/><circle cx="716.7" cy="1840.5" r="9" fill="url(#gc)"/><circle cx="740" cy="1832" r="9.2" fill="url(#bc)"/><circle cx="670.4" cy="1818.4" r="8.5" fill="url(#gc)"/><circle cx="597.2" cy="1779" r="9.1" fill="url(#bc)"/><circle cx="666.9" cy="1784.2" r="8.6" fill="url(#bc)"/><circle cx="595.3" cy="1686.5" r="9.3" fill="url(#gc)"/><circle cx="742.9" cy="1811.9" r="8.8" fill="url(#gc)"/><circle cx="599.6" cy="1714.5" r="8.5" fill="url(#gc)"/><circle cx="686.1" cy="1818.4" r="9.2" fill="url(#gc)"/><circle cx="536.9" cy="1788.1" r="8.4" fill="url(#gc)"/><circle cx="580.4" cy="1825.8" r="9" fill="url(#gc)"/><circle cx="476.9" cy="1776.4" r="8.2" fill="url(#bc)"/><circle cx="639.5" cy="1835" r="7.9" fill="url(#bc)"/><circle cx="618.3" cy="1808.9" r="8.5" fill="url(#gc)"/><circle cx="501.1" cy="1804.9" r="8.3" fill="url(#gc)"/><circle cx="595.3" cy="1815.8" r="9.1" fill="url(#gc)"/><circle cx="713.8" cy="1759.7" r="7.8" fill="url(#gc)"/><circle cx="657.9" cy="1808.4" r="8.6" fill="url(#gc)"/><circle cx="667.4" cy="1798.4" r="9.1" fill="url(#bc)"/><circle cx="575" cy="1724.3" r="8.6" fill="url(#gc)"/><circle cx="521.4" cy="1736.7" r="8.1" fill="url(#gc)"/><circle cx="580.3" cy="1816.4" r="8.5" fill="url(#gc)"/><circle cx="632.8" cy="1687.3" r="9.1" fill="url(#gc)"/><circle cx="623.9" cy="1759.9" r="8" fill="url(#gc)"/><circle cx="727.1" cy="1828.3" r="8.3" fill="url(#gc)"/><circle cx="659.6" cy="1726.5" r="7.7" fill="url(#gc)"/><circle cx="513.3" cy="1829.3" r="8.2" fill="url(#bc)"/><circle cx="545.3" cy="1820.8" r="9.2" fill="url(#bc)"/><circle cx="470.9" cy="1749.1" r="8.2" fill="url(#gc)"/><circle cx="603.8" cy="1771.4" r="9.1" fill="url(#gc)"/><circle cx="624.9" cy="1733.4" r="9.1" fill="url(#gc)"/><circle cx="578.6" cy="1715.5" r="8" fill="url(#gc)"/><circle cx="645.6" cy="1793.2" r="8.1" fill="url(#gc)"/><circle cx="641.1" cy="1740.7" r="8.4" fill="url(#bc)"/><circle cx="739" cy="1822.5" r="9.3" fill="url(#bc)"/><circle cx="517.9" cy="1772" r="8.3" fill="url(#gc)"/><circle cx="678.9" cy="1784.5" r="8.9" fill="url(#bc)"/><circle cx="672.7" cy="1808.1" r="8.1" fill="url(#gc)"/><circle cx="700.9" cy="1734.7" r="8.3" fill="url(#bc)"/><circle cx="530.9" cy="1775.1" r="8" fill="url(#rc1)"/><circle cx="570.9" cy="1692.2" r="9.1" fill="url(#bc)"/><circle cx="550.2" cy="1728.3" r="8.3" fill="url(#bc)"/><circle cx="715.6" cy="1830" r="8.7" fill="url(#gc)"/><circle cx="731" cy="1768.7" r="8.8" fill="url(#bc)"/><circle cx="639.7" cy="1783" r="9.3" fill="url(#bc)"/><circle cx="677.9" cy="1744.7" r="8.2" fill="url(#gc)"/><circle cx="524.3" cy="1787.5" r="8.3" fill="url(#rc1)"/><circle cx="535" cy="1819.1" r="7.8" fill="url(#gc)"/><circle cx="561" cy="1795.9" r="8.9" fill="url(#bc)"/><circle cx="482.3" cy="1767.9" r="7.9" fill="url(#bc)"/><circle cx="604.5" cy="1695.1" r="8.6" fill="url(#gc)"/><circle cx="752.7" cy="1811.7" r="8.6" fill="url(#bc)"/><circle cx="528.3" cy="1743.4" r="7.9" fill="url(#gc)"/><circle cx="721.6" cy="1773.4" r="9.3" fill="url(#bc)"/><circle cx="753" cy="1786.4" r="8.8" fill="url(#gc)"/><circle cx="554.4" cy="1740.2" r="9" fill="url(#bc)"/><circle cx="541.6" cy="1802.4" r="8.7" fill="url(#bc)"/><circle cx="569.8" cy="1824.2" r="8" fill="url(#bc)"/><circle cx="731.7" cy="1796.4" r="9.2" fill="url(#bc)"/><circle cx="720.9" cy="1793.1" r="8.8" fill="url(#gc)"/><circle cx="709.7" cy="1809.8" r="7.7" fill="url(#gc)"/><circle cx="742.5" cy="1793" r="8.9" fill="url(#bc)"/><circle cx="612.5" cy="1752.5" r="9.3" fill="url(#gc)"/><circle cx="637.1" cy="1758.7" r="9.2" fill="url(#gc)"/><circle cx="652.3" cy="1718.6" r="8.9" fill="url(#gc)"/><circle cx="466.9" cy="1778.1" r="7.9" fill="url(#bc)"/><circle cx="649.4" cy="1783.7" r="8.5" fill="url(#gc)"/><circle cx="604" cy="1742.1" r="9" fill="url(#gc)"/><circle cx="451.6" cy="1787.4" r="8.8" fill="url(#gc)"/><circle cx="554.2" cy="1756.6" r="7.7" fill="url(#bc)"/><circle cx="684.7" cy="1717.1" r="8.5" fill="url(#gc)"/><circle cx="710.3" cy="1791.9" r="9.3" fill="url(#gc)"/><circle cx="695.7" cy="1746.5" r="7.9" fill="url(#bc)"/><circle cx="748.3" cy="1754.2" r="9.3" fill="url(#gc)"/><circle cx="642.5" cy="1770.6" r="8.4" fill="url(#bc)"/><circle cx="699" cy="1824.7" r="8.2" fill="url(#bc)"/><circle cx="532" cy="1758.6" r="9.3" fill="url(#bc)"/><circle cx="517.5" cy="1751.3" r="8.9" fill="url(#gc)"/><circle cx="694.9" cy="1798.6" r="9.1" fill="url(#bc)"/><circle cx="575.9" cy="1806.9" r="8.7" fill="url(#gc)"/><circle cx="579.3" cy="1760.2" r="9.1" fill="url(#gc)"/><circle cx="643.6" cy="1750.4" r="8.7" fill="url(#bc)"/><circle cx="563.1" cy="1735.8" r="8.2" fill="url(#gc)"/><circle cx="653.1" cy="1773.1" r="9.2" fill="url(#bc)"/><circle cx="730.1" cy="1780.6" r="9.2" fill="url(#bc)"/><circle cx="600.7" cy="1754.1" r="8.4" fill="url(#gc)"/><circle cx="751.9" cy="1777" r="8.1" fill="url(#bc)"/><circle cx="629.2" cy="1742.4" r="9.3" fill="url(#gc)"/><circle cx="606" cy="1705.6" r="8" fill="url(#gc)"/><circle cx="684.3" cy="1794.7" r="9" fill="url(#bc)"/><circle cx="563.8" cy="1708.7" r="8.4" fill="url(#bc)"/><circle cx="741.1" cy="1782.2" r="8.6" fill="url(#gc)"/><circle cx="628.1" cy="1711.6" r="8" fill="url(#bc)"/><circle cx="571.9" cy="1773.7" r="8.1" fill="url(#gc)"/><circle cx="695.5" cy="1815.7" r="7.9" fill="url(#bc)"/><circle cx="724.4" cy="1748" r="7.8" fill="url(#gc)"/><circle cx="650.6" cy="1704.7" r="8.5" fill="url(#gc)"/><circle cx="613" cy="1768.2" r="8.3" fill="url(#gc)"/><circle cx="626.5" cy="1787.4" r="8.5" fill="url(#gc)"/><circle cx="457.4" cy="1801.8" r="7.7" fill="url(#gc)"/><circle cx="480.9" cy="1829" r="8" fill="url(#bc)"/><circle cx="616.9" cy="1712.6" r="8.4" fill="url(#gc)"/><circle cx="670.4" cy="1735.1" r="8.8" fill="url(#bc)"/><circle cx="479.6" cy="1744" r="8.4" fill="url(#gc)"/><circle cx="643.1" cy="1710.5" r="8.3" fill="url(#gc)"/><circle cx="578.2" cy="1797.6" r="8" fill="url(#gc)"/><circle cx="572.1" cy="1703.5" r="9.1" fill="url(#gc)"/><circle cx="631.9" cy="1769" r="8.4" fill="url(#gc)"/><circle cx="581.5" cy="1780.6" r="8" fill="url(#gc)"/><circle cx="634.1" cy="1809.9" r="8.9" fill="url(#bc)"/><circle cx="493.3" cy="1736.3" r="8.9" fill="url(#gc)"/><circle cx="627.9" cy="1841.2" r="9.2" fill="url(#bc)"/><circle cx="538" cy="1730.6" r="9.2" fill="url(#gc)"/><circle cx="616.9" cy="1725.4" r="7.7" fill="url(#bc)"/><circle cx="650.7" cy="1826.7" r="8.2" fill="url(#gc)"/><circle cx="511" cy="1742.9" r="7.7" fill="url(#gc)"/><circle cx="528.3" cy="1807.9" r="8.6" fill="url(#bc)"/><circle cx="699.3" cy="1806.9" r="8.2" fill="url(#gc)"/><circle cx="505.6" cy="1779.8" r="8.2" fill="url(#gc)"/><circle cx="501.1" cy="1768.3" r="8.3" fill="url(#gc)"/><circle cx="604" cy="1834.5" r="8.5" fill="url(#gc)"/><circle cx="585.6" cy="1791.3" r="8.8" fill="url(#gc)"/><circle cx="544" cy="1738" r="7.9" fill="url(#gc)"/><circle cx="689.5" cy="1732.8" r="9.1" fill="url(#bc)"/><circle cx="741.1" cy="1772.4" r="7.8" fill="url(#bc)"/><circle cx="490.8" cy="1749" r="8.3" fill="url(#gc)"/><circle cx="498.2" cy="1786.5" r="9" fill="url(#yc1)"/><circle cx="642.8" cy="1819.3" r="8.6" fill="url(#gc)"/><circle cx="614.5" cy="1693.2" r="8.2" fill="url(#gc)"/><circle cx="559.4" cy="1700.1" r="7.9" fill="url(#bc)"/><circle cx="460.2" cy="1791.5" r="7.7" fill="url(#gc)"/><circle cx="559.3" cy="1748.6" r="8.3" fill="url(#bc)"/><circle cx="736.6" cy="1752.1" r="9.3" fill="url(#gc)"/><circle cx="650.5" cy="1801.5" r="7.8" fill="url(#gc)"/><circle cx="618.8" cy="1826.3" r="7.8" fill="url(#bc)"/><circle cx="681.2" cy="1838.8" r="8.3" fill="url(#gc)"/><circle cx="528.9" cy="1728" r="9" fill="url(#gc)"/><circle cx="560.2" cy="1690.3" r="9.1" fill="url(#bc)"/><circle cx="613.8" cy="1742" r="8.7" fill="url(#bc)"/><circle cx="463.5" cy="1813.6" r="9" fill="url(#gc)"/><circle cx="545.4" cy="1760.5" r="8.7" fill="url(#bc)"/><circle cx="589.4" cy="1765" r="8.9" fill="url(#gc)"/><circle cx="702.7" cy="1753.1" r="8" fill="url(#bc)"/><circle cx="656.3" cy="1817.8" r="8.9" fill="url(#gc)"/><circle cx="572.7" cy="1786.4" r="8.6" fill="url(#gc)"/><circle cx="655.8" cy="1793.7" r="8.3" fill="url(#bc)"/><circle cx="580.8" cy="1770.4" r="7.7" fill="url(#gc)"/><circle cx="548.1" cy="1709.6" r="8.2" fill="url(#bc)"/><circle cx="487.8" cy="1775.8" r="8.5" fill="url(#bc)"/><circle cx="627.5" cy="1700.3" r="8.6" fill="url(#gc)"/><circle cx="568.8" cy="1764.9" r="8.5" fill="url(#gc)"/><circle cx="605.8" cy="1685.8" r="7.9" fill="url(#gc)"/><circle cx="534.7" cy="1720.7" r="8.9" fill="url(#bc)"/><circle cx="552.6" cy="1718.5" r="8.9" fill="url(#bc)"/><circle cx="690.1" cy="1778.7" r="9.2" fill="url(#bc)"/><circle cx="635.9" cy="1716.8" r="8.5" fill="url(#gc)"/><circle cx="529" cy="1796.6" r="8.9" fill="url(#bc)"/><circle cx="662.6" cy="1759.8" r="8.5" fill="url(#gc)"/><circle cx="692.9" cy="1722.9" r="8.2" fill="url(#gc)"/><circle cx="582" cy="1746.6" r="8.5" fill="url(#bc)"/><circle cx="563.4" cy="1725.4" r="7.7" fill="url(#bc)"/><circle cx="583.4" cy="1702.8" r="8.4" fill="url(#gc)"/><circle cx="669" cy="1751.6" r="9.3" fill="url(#bc)"/><circle cx="493.9" cy="1759.1" r="8.5" fill="url(#bc)"/><circle cx="492.5" cy="1809.9" r="8.5" fill="url(#gc)"/><circle cx="559.2" cy="1807.4" r="9.2" fill="url(#bc)"/><circle cx="624.9" cy="1818.1" r="7.7" fill="url(#bc)"/><circle cx="613.4" cy="1800.6" r="8.3" fill="url(#bc)"/><circle cx="457.4" cy="1774.8" r="7.7" fill="url(#bc)"/><circle cx="706.6" cy="1842.2" r="7.8" fill="url(#bc)"/><circle cx="582.3" cy="1689.2" r="8.4" fill="url(#gc)"/><circle cx="546" cy="1784.7" r="9.2" fill="url(#gc)"/><circle cx="643.1" cy="1725.5" r="7.7" fill="url(#bc)"/><circle cx="742.4" cy="1761.6" r="7.8" fill="url(#gc)"/><circle cx="587.4" cy="1721.4" r="7.8" fill="url(#gc)"/><circle cx="617.4" cy="1776.6" r="8.3" fill="url(#gc)"/><circle cx="593.8" cy="1697.8" r="9.2" fill="url(#gc)"/><circle cx="607.3" cy="1722.9" r="8.5" fill="url(#gc)"/><circle cx="663.4" cy="1770.2" r="8.5" fill="url(#bc)"/><circle cx="687.7" cy="1832.2" r="8.4" fill="url(#bc)"/><circle cx="539.4" cy="1768.5" r="9.1" fill="url(#bc)"/><circle cx="695.9" cy="1770.6" r="8.3" fill="url(#gc)"/><circle cx="517.5" cy="1762.5" r="8" fill="url(#bc)"/><circle cx="698.8" cy="1761.6" r="9.1" fill="url(#bc)"/><circle cx="506.7" cy="1755.9" r="7.8" fill="url(#bc)"/><circle cx="588.8" cy="1754.7" r="9.3" fill="url(#gc)"/><circle cx="590.1" cy="1803.3" r="9.2" fill="url(#bc)"/><circle cx="508.9" cy="1796.7" r="8.9" fill="url(#yc1)"/><circle cx="638.1" cy="1700.7" r="8" fill="url(#gc)"/><circle cx="554.9" cy="1826.4" r="7.7" fill="url(#bc)"/><circle cx="555.1" cy="1788.5" r="9.2" fill="url(#bc)"/><circle cx="626.9" cy="1802.9" r="8.5" fill="url(#bc)"/><circle cx="715.3" cy="1780.6" r="8.3" fill="url(#bc)"/><circle cx="653.8" cy="1747.2" r="7.8" fill="url(#gc)"/><circle cx="698.6" cy="1788.9" r="8.1" fill="url(#bc)"/><circle cx="630.4" cy="1826.7" r="8.5" fill="url(#gc)"/><circle cx="711" cy="1734.9" r="9" fill="url(#gc)"/><circle cx="576.3" cy="1733.8" r="8.7" fill="url(#bc)"/><circle cx="520.2" cy="1814.9" r="8.3" fill="url(#bc)"/><circle cx="679.9" cy="1756.6" r="8" fill="url(#gc)"/><circle cx="731.4" cy="1811" r="7.7" fill="url(#gc)"/><circle cx="591.7" cy="1830.5" r="8.5" fill="url(#gc)"/><circle cx="617.6" cy="1702.1" r="9.3" fill="url(#gc)"/><circle cx="645.8" cy="1810" r="7.7" fill="url(#gc)"/></g>
<rect x="93" y="1073" width="854.5" height="853" fill="none" stroke="#505050" stroke-width="2.7"/>
<line x1="93" y1="1926" x2="93" y2="1810" stroke="#000" stroke-width="2.4"/>
<polygon points="93,1798 106.5,1824 79.5,1824" fill="#000"/>
<line x1="93" y1="1926" x2="168" y2="1852.5" stroke="#000" stroke-width="1.7"/>
<polygon points="178,1843 168.8,1870.8 150,1851.5" fill="#000"/>
<line x1="93" y1="1926" x2="210" y2="1926" stroke="#000" stroke-width="2.4"/>
<polygon points="224,1926.2 198,1939.7 198,1912.7" fill="#000"/>
<text transform="translate(111.19 1826.30) scale(1.1315 1)" font-family="'Liberation Serif', 'Times New Roman', serif" font-style="italic" font-size="62.31">z</text>
<text transform="translate(192.02 1883.02) scale(0.9967 1)" font-family="'Liberation Serif', 'Times New Roman', serif" font-style="italic" font-size="63.87">y</text>
<text transform="translate(160.52 1988.30) scale(1.0470 1)" font-family="'Liberation Serif', 'Times New Roman', serif" font-style="italic" font-size="64.49">x</text>
<text transform="translate(28.48 97.44) scale(0.9954 1)" font-family="'Liberation Serif', 'Times New Roman', serif" font-weight="bold" font-size="87.89">a</text>
<text transform="translate(1006.01 98.26) scale(0.9983 1)" font-family="'Liberation Serif', 'Times New Roman', serif" font-weight="bold" font-size="85.84">b</text>
<text transform="translate(27.84 1140.19) scale(1.0252 1)" font-family="'Liberation Serif', 'Times New Roman', serif" font-weight="bold" font-size="87.21">c</text>
<text transform="translate(1002.63 1142.14) scale(1.0282 1)" font-family="'Liberation Serif', 'Times New Roman', serif" font-weight="bold" font-size="88.12">d</text>
<g clip-path="url(#cpb)">
<polyline points="1175.5,851 1196.7,810.8 1217.9,755.9 1239.2,708 1260.4,698.3 1281.6,729.7 1302.8,763.7 1324,778 1345.3,795 1366.5,792.5 1387.7,801 1408.9,799.7 1430.1,801 1451.4,788.6 1472.6,765 1493.8,746.7 1515,738.9 1536.2,746.7 1557.5,757.2 1578.7,784.6 1599.9,838.3 1621.1,869 1642.3,878.8 1663.6,882 1684.8,883 1706,883 1727.2,883 1748.4,882.5 1769.7,881.6 1790.9,881.6 1812.1,877.5 1833.3,878.3 1854.5,875.8 1875.8,873.3 1897,872.5 1918.2,872.5 1939.4,871.6 1960.6,870 1981.9,869.5 2003.1,869.5 2024.3,869 2045.5,869 2066.7,869 2088,869 2109.2,869.5 2130.4,868.5 2151.6,868 2172.8,868 2194.1,864" fill="none" stroke="#1ef01e" stroke-width="4.6" stroke-linejoin="round"/>
<ellipse cx="1175.5" cy="851" rx="6.4" ry="7.2" fill="#1ef01e"/><ellipse cx="1196.7" cy="810.8" rx="6.4" ry="7.2" fill="#1ef01e"/><ellipse cx="1217.9" cy="755.9" rx="6.4" ry="7.2" fill="#1ef01e"/><ellipse cx="1239.2" cy="708" rx="6.4" ry="7.2" fill="#1ef01e"/><ellipse cx="1260.4" cy="698.3" rx="6.4" ry="7.2" fill="#1ef01e"/><ellipse cx="1281.6" cy="729.7" rx="6.4" ry="7.2" fill="#1ef01e"/><ellipse cx="1302.8" cy="763.7" rx="6.4" ry="7.2" fill="#1ef01e"/><ellipse cx="1324" cy="778" rx="6.4" ry="7.2" fill="#1ef01e"/><ellipse cx="1345.3" cy="795" rx="6.4" ry="7.2" fill="#1ef01e"/><ellipse cx="1366.5" cy="792.5" rx="6.4" ry="7.2" fill="#1ef01e"/><ellipse cx="1387.7" cy="801" rx="6.4" ry="7.2" fill="#1ef01e"/><ellipse cx="1408.9" cy="799.7" rx="6.4" ry="7.2" fill="#1ef01e"/><ellipse cx="1430.1" cy="801" rx="6.4" ry="7.2" fill="#1ef01e"/><ellipse cx="1451.4" cy="788.6" rx="6.4" ry="7.2" fill="#1ef01e"/><ellipse cx="1472.6" cy="765" rx="6.4" ry="7.2" fill="#1ef01e"/><ellipse cx="1493.8" cy="746.7" rx="6.4" ry="7.2" fill="#1ef01e"/><ellipse cx="1515" cy="738.9" rx="6.4" ry="7.2" fill="#1ef01e"/><ellipse cx="1536.2" cy="746.7" rx="6.4" ry="7.2" fill="#1ef01e"/><ellipse cx="1557.5" cy="757.2" rx="6.4" ry="7.2" fill="#1ef01e"/><ellipse cx="1578.7" cy="784.6" rx="6.4" ry="7.2" fill="#1ef01e"/><ellipse cx="1599.9" cy="838.3" rx="6.4" ry="7.2" fill="#1ef01e"/><ellipse cx="1621.1" cy="869" rx="6.4" ry="7.2" fill="#1ef01e"/><ellipse cx="1642.3" cy="878.8" rx="6.4" ry="7.2" fill="#1ef01e"/><ellipse cx="1663.6" cy="882" rx="6.4" ry="7.2" fill="#1ef01e"/><ellipse cx="1684.8" cy="883" rx="6.4" ry="7.2" fill="#1ef01e"/><ellipse cx="1706" cy="883" rx="6.4" ry="7.2" fill="#1ef01e"/><ellipse cx="1727.2" cy="883" rx="6.4" ry="7.2" fill="#1ef01e"/><ellipse cx="1748.4" cy="882.5" rx="6.4" ry="7.2" fill="#1ef01e"/><ellipse cx="1769.7" cy="881.6" rx="6.4" ry="7.2" fill="#1ef01e"/><ellipse cx="1790.9" cy="881.6" rx="6.4" ry="7.2" fill="#1ef01e"/><ellipse cx="1812.1" cy="877.5" rx="6.4" ry="7.2" fill="#1ef01e"/><ellipse cx="1833.3" cy="878.3" rx="6.4" ry="7.2" fill="#1ef01e"/><ellipse cx="1854.5" cy="875.8" rx="6.4" ry="7.2" fill="#1ef01e"/><ellipse cx="1875.8" cy="873.3" rx="6.4" ry="7.2" fill="#1ef01e"/><ellipse cx="1897" cy="872.5" rx="6.4" ry="7.2" fill="#1ef01e"/><ellipse cx="1918.2" cy="872.5" rx="6.4" ry="7.2" fill="#1ef01e"/><ellipse cx="1939.4" cy="871.6" rx="6.4" ry="7.2" fill="#1ef01e"/><ellipse cx="1960.6" cy="870" rx="6.4" ry="7.2" fill="#1ef01e"/><ellipse cx="1981.9" cy="869.5" rx="6.4" ry="7.2" fill="#1ef01e"/><ellipse cx="2003.1" cy="869.5" rx="6.4" ry="7.2" fill="#1ef01e"/><ellipse cx="2024.3" cy="869" rx="6.4" ry="7.2" fill="#1ef01e"/><ellipse cx="2045.5" cy="869" rx="6.4" ry="7.2" fill="#1ef01e"/><ellipse cx="2066.7" cy="869" rx="6.4" ry="7.2" fill="#1ef01e"/><ellipse cx="2088" cy="869" rx="6.4" ry="7.2" fill="#1ef01e"/><ellipse cx="2109.2" cy="869.5" rx="6.4" ry="7.2" fill="#1ef01e"/><ellipse cx="2130.4" cy="868.5" rx="6.4" ry="7.2" fill="#1ef01e"/><ellipse cx="2151.6" cy="868" rx="6.4" ry="7.2" fill="#1ef01e"/><ellipse cx="2172.8" cy="868" rx="6.4" ry="7.2" fill="#1ef01e"/><ellipse cx="2194.1" cy="864" rx="6.4" ry="7.2" fill="#1ef01e"/>
<polyline points="1175.5,876.2 1196.7,870.3 1217.9,863.1 1239.2,841.5 1260.4,802.3 1281.6,758.5 1302.8,745.4 1324,762.4 1345.3,784.6 1366.5,799 1387.7,809.5 1408.9,808.5 1430.1,789.9 1451.4,779.4 1472.6,774.2 1493.8,775.5 1515,787.2 1536.2,817.3 1557.5,859.2 1578.7,880.1 1599.9,885.3 1621.1,886 1642.3,885.5 1663.6,885.5 1684.8,885.5 1706,885.5 1727.2,885.5 1748.4,885 1769.7,885 1790.9,884.6 1812.1,884.6 1833.3,884 1854.5,883.5 1875.8,883 1897,882.5 1918.2,882 1939.4,881.5 1960.6,881.5 1981.9,881 2003.1,881 2024.3,881 2045.5,880.5 2066.7,880.5 2088,880.5 2109.2,880 2130.4,880 2151.6,880 2172.8,880 2194.1,879.6" fill="none" stroke="#ffff00" stroke-width="4.6" stroke-linejoin="round"/>
<polygon points="1175.5,868.6 1182.7,883.8 1168.3,883.8" fill="#ffff00"/><polygon points="1196.7,862.7 1203.9,877.9 1189.5,877.9" fill="#ffff00"/><polygon points="1217.9,855.5 1225.1,870.7 1210.7,870.7" fill="#ffff00"/><polygon points="1239.2,833.9 1246.4,849.1 1232,849.1" fill="#ffff00"/><polygon points="1260.4,794.7 1267.6,809.9 1253.2,809.9" fill="#ffff00"/><polygon points="1281.6,750.9 1288.8,766.1 1274.4,766.1" fill="#ffff00"/><polygon points="1302.8,737.8 1310,753 1295.6,753" fill="#ffff00"/><polygon points="1324,754.8 1331.2,770 1316.8,770" fill="#ffff00"/><polygon points="1345.3,777 1352.5,792.2 1338.1,792.2" fill="#ffff00"/><polygon points="1366.5,791.4 1373.7,806.6 1359.3,806.6" fill="#ffff00"/><polygon points="1387.7,801.9 1394.9,817.1 1380.5,817.1" fill="#ffff00"/><polygon points="1408.9,800.9 1416.1,816.1 1401.7,816.1" fill="#ffff00"/><polygon points="1430.1,782.3 1437.3,797.5 1422.9,797.5" fill="#ffff00"/><polygon points="1451.4,771.8 1458.6,787 1444.2,787" fill="#ffff00"/><polygon points="1472.6,766.6 1479.8,781.8 1465.4,781.8" fill="#ffff00"/><polygon points="1493.8,767.9 1501,783.1 1486.6,783.1" fill="#ffff00"/><polygon points="1515,779.6 1522.2,794.8 1507.8,794.8" fill="#ffff00"/><polygon points="1536.2,809.7 1543.4,824.9 1529,824.9" fill="#ffff00"/><polygon points="1557.5,851.6 1564.7,866.8 1550.3,866.8" fill="#ffff00"/><polygon points="1578.7,872.5 1585.9,887.7 1571.5,887.7" fill="#ffff00"/><polygon points="1599.9,877.7 1607.1,892.9 1592.7,892.9" fill="#ffff00"/><polygon points="1621.1,878.4 1628.3,893.6 1613.9,893.6" fill="#ffff00"/><polygon points="1642.3,877.9 1649.5,893.1 1635.1,893.1" fill="#ffff00"/><polygon points="1663.6,877.9 1670.8,893.1 1656.4,893.1" fill="#ffff00"/><polygon points="1684.8,877.9 1692,893.1 1677.6,893.1" fill="#ffff00"/><polygon points="1706,877.9 1713.2,893.1 1698.8,893.1" fill="#ffff00"/><polygon points="1727.2,877.9 1734.4,893.1 1720,893.1" fill="#ffff00"/><polygon points="1748.4,877.4 1755.6,892.6 1741.2,892.6" fill="#ffff00"/><polygon points="1769.7,877.4 1776.9,892.6 1762.5,892.6" fill="#ffff00"/><polygon points="1790.9,877 1798.1,892.2 1783.7,892.2" fill="#ffff00"/><polygon points="1812.1,877 1819.3,892.2 1804.9,892.2" fill="#ffff00"/><polygon points="1833.3,876.4 1840.5,891.6 1826.1,891.6" fill="#ffff00"/><polygon points="1854.5,875.9 1861.7,891.1 1847.3,891.1" fill="#ffff00"/><polygon points="1875.8,875.4 1883,890.6 1868.6,890.6" fill="#ffff00"/><polygon points="1897,874.9 1904.2,890.1 1889.8,890.1" fill="#ffff00"/><polygon points="1918.2,874.4 1925.4,889.6 1911,889.6" fill="#ffff00"/><polygon points="1939.4,873.9 1946.6,889.1 1932.2,889.1" fill="#ffff00"/><polygon points="1960.6,873.9 1967.8,889.1 1953.4,889.1" fill="#ffff00"/><polygon points="1981.9,873.4 1989.1,888.6 1974.7,888.6" fill="#ffff00"/><polygon points="2003.1,873.4 2010.3,888.6 1995.9,888.6" fill="#ffff00"/><polygon points="2024.3,873.4 2031.5,888.6 2017.1,888.6" fill="#ffff00"/><polygon points="2045.5,872.9 2052.7,888.1 2038.3,888.1" fill="#ffff00"/><polygon points="2066.7,872.9 2073.9,888.1 2059.5,888.1" fill="#ffff00"/><polygon points="2088,872.9 2095.2,888.1 2080.8,888.1" fill="#ffff00"/><polygon points="2109.2,872.4 2116.4,887.6 2102,887.6" fill="#ffff00"/><polygon points="2130.4,872.4 2137.6,887.6 2123.2,887.6" fill="#ffff00"/><polygon points="2151.6,872.4 2158.8,887.6 2144.4,887.6" fill="#ffff00"/><polygon points="2172.8,872.4 2180,887.6 2165.6,887.6" fill="#ffff00"/><polygon points="2194.1,872 2201.3,887.2 2186.9,887.2" fill="#ffff00"/>
<polyline points="1175.5,850 1196.7,816 1217.9,759.8 1239.2,712 1260.4,702.9 1281.6,731 1302.8,761.1 1324,786.6 1345.3,798.4 1366.5,804.2 1387.7,804.2 1408.9,802 1430.1,798.4 1451.4,783.3 1472.6,767.6 1493.8,752.6 1515,745.4 1536.2,740.2 1557.5,753.2 1578.7,788.6 1599.9,832.4 1621.1,869.6 1642.3,878.8 1663.6,880 1684.8,881 1706,881 1727.2,881 1748.4,880.5 1769.7,879.6 1790.9,879.6 1812.1,875.5 1833.3,876.3 1854.5,873.8 1875.8,871.3 1897,870.5 1918.2,870.5 1939.4,869.6 1960.6,868 1981.9,867.5 2003.1,867.5 2024.3,867 2045.5,867 2066.7,867 2088,867 2109.2,867.5 2130.4,866.5 2151.6,866 2172.8,866 2194.1,863" fill="none" stroke="#0b5aa8" stroke-width="4.6" stroke-linejoin="round"/>
<polygon points="1175.5,842.2 1177.2,847.2 1181.8,847.6 1178.2,851.1 1179.4,856.3 1175.5,853.4 1171.6,856.3 1172.8,851.1 1169.2,847.6 1173.8,847.2" fill="#0b5aa8"/><polygon points="1196.7,808.2 1198.4,813.2 1203,813.6 1199.5,817.1 1200.6,822.3 1196.7,819.4 1192.8,822.3 1194,817.1 1190.4,813.6 1195,813.2" fill="#0b5aa8"/><polygon points="1217.9,752 1219.6,757 1224.2,757.4 1220.7,760.9 1221.8,766.1 1217.9,763.2 1214,766.1 1215.2,760.9 1211.6,757.4 1216.2,757" fill="#0b5aa8"/><polygon points="1239.2,704.2 1240.9,709.2 1245.5,709.6 1241.9,713.1 1243.1,718.3 1239.2,715.4 1235.3,718.3 1236.4,713.1 1232.9,709.6 1237.5,709.2" fill="#0b5aa8"/><polygon points="1260.4,695.1 1262.1,700.1 1266.7,700.5 1263.1,704 1264.3,709.2 1260.4,706.3 1256.5,709.2 1257.6,704 1254.1,700.5 1258.7,700.1" fill="#0b5aa8"/><polygon points="1281.6,723.2 1283.3,728.2 1287.9,728.6 1284.3,732.1 1285.5,737.3 1281.6,734.4 1277.7,737.3 1278.9,732.1 1275.3,728.6 1279.9,728.2" fill="#0b5aa8"/><polygon points="1302.8,753.3 1304.5,758.3 1309.1,758.7 1305.6,762.2 1306.7,767.4 1302.8,764.5 1298.9,767.4 1300.1,762.2 1296.5,758.7 1301.1,758.3" fill="#0b5aa8"/><polygon points="1324,778.8 1325.7,783.8 1330.3,784.2 1326.8,787.7 1327.9,792.9 1324,790 1320.1,792.9 1321.3,787.7 1317.7,784.2 1322.3,783.8" fill="#0b5aa8"/><polygon points="1345.3,790.6 1347,795.6 1351.6,796 1348,799.5 1349.2,804.7 1345.3,801.8 1341.4,804.7 1342.5,799.5 1339,796 1343.6,795.6" fill="#0b5aa8"/><polygon points="1366.5,796.4 1368.2,801.4 1372.8,801.8 1369.2,805.3 1370.4,810.5 1366.5,807.6 1362.6,810.5 1363.7,805.3 1360.2,801.8 1364.8,801.4" fill="#0b5aa8"/><polygon points="1387.7,796.4 1389.4,801.4 1394,801.8 1390.4,805.3 1391.6,810.5 1387.7,807.6 1383.8,810.5 1385,805.3 1381.4,801.8 1386,801.4" fill="#0b5aa8"/><polygon points="1408.9,794.2 1410.6,799.2 1415.2,799.6 1411.7,803.1 1412.8,808.3 1408.9,805.4 1405,808.3 1406.2,803.1 1402.6,799.6 1407.2,799.2" fill="#0b5aa8"/><polygon points="1430.1,790.6 1431.8,795.6 1436.4,796 1432.9,799.5 1434,804.7 1430.1,801.8 1426.2,804.7 1427.4,799.5 1423.8,796 1428.4,795.6" fill="#0b5aa8"/><polygon points="1451.4,775.5 1453.1,780.5 1457.7,780.9 1454.1,784.4 1455.3,789.6 1451.4,786.7 1447.5,789.6 1448.6,784.4 1445.1,780.9 1449.7,780.5" fill="#0b5aa8"/><polygon points="1472.6,759.8 1474.3,764.8 1478.9,765.2 1475.3,768.7 1476.5,773.9 1472.6,771 1468.7,773.9 1469.8,768.7 1466.3,765.2 1470.9,764.8" fill="#0b5aa8"/><polygon points="1493.8,744.8 1495.5,749.8 1500.1,750.2 1496.5,753.7 1497.7,758.9 1493.8,756 1489.9,758.9 1491.1,753.7 1487.5,750.2 1492.1,749.8" fill="#0b5aa8"/><polygon points="1515,737.6 1516.7,742.6 1521.3,743 1517.8,746.5 1518.9,751.7 1515,748.8 1511.1,751.7 1512.3,746.5 1508.7,743 1513.3,742.6" fill="#0b5aa8"/><polygon points="1536.2,732.4 1537.9,737.4 1542.5,737.8 1539,741.3 1540.1,746.5 1536.2,743.6 1532.3,746.5 1533.5,741.3 1529.9,737.8 1534.5,737.4" fill="#0b5aa8"/><polygon points="1557.5,745.4 1559.2,750.4 1563.8,750.8 1560.2,754.3 1561.4,759.5 1557.5,756.6 1553.6,759.5 1554.7,754.3 1551.2,750.8 1555.8,750.4" fill="#0b5aa8"/><polygon points="1578.7,780.8 1580.4,785.8 1585,786.2 1581.4,789.7 1582.6,794.9 1578.7,792 1574.8,794.9 1575.9,789.7 1572.4,786.2 1577,785.8" fill="#0b5aa8"/><polygon points="1599.9,824.6 1601.6,829.6 1606.2,830 1602.6,833.5 1603.8,838.7 1599.9,835.8 1596,838.7 1597.2,833.5 1593.6,830 1598.2,829.6" fill="#0b5aa8"/><polygon points="1621.1,861.8 1622.8,866.8 1627.4,867.2 1623.9,870.7 1625,875.9 1621.1,873 1617.2,875.9 1618.4,870.7 1614.8,867.2 1619.4,866.8" fill="#0b5aa8"/><polygon points="1642.3,871 1644,876 1648.6,876.4 1645.1,879.9 1646.2,885.1 1642.3,882.2 1638.4,885.1 1639.6,879.9 1636,876.4 1640.6,876" fill="#0b5aa8"/><polygon points="1663.6,872.2 1665.3,877.2 1669.9,877.6 1666.3,881.1 1667.5,886.3 1663.6,883.4 1659.7,886.3 1660.8,881.1 1657.3,877.6 1661.9,877.2" fill="#0b5aa8"/><polygon points="1684.8,873.2 1686.5,878.2 1691.1,878.6 1687.5,882.1 1688.7,887.3 1684.8,884.4 1680.9,887.3 1682,882.1 1678.5,878.6 1683.1,878.2" fill="#0b5aa8"/><polygon points="1706,873.2 1707.7,878.2 1712.3,878.6 1708.7,882.1 1709.9,887.3 1706,884.4 1702.1,887.3 1703.3,882.1 1699.7,878.6 1704.3,878.2" fill="#0b5aa8"/><polygon points="1727.2,873.2 1728.9,878.2 1733.5,878.6 1730,882.1 1731.1,887.3 1727.2,884.4 1723.3,887.3 1724.5,882.1 1720.9,878.6 1725.5,878.2" fill="#0b5aa8"/><polygon points="1748.4,872.7 1750.1,877.7 1754.7,878.1 1751.2,881.6 1752.3,886.8 1748.4,883.9 1744.5,886.8 1745.7,881.6 1742.1,878.1 1746.7,877.7" fill="#0b5aa8"/><polygon points="1769.7,871.8 1771.4,876.8 1776,877.2 1772.4,880.7 1773.6,885.9 1769.7,883 1765.8,885.9 1766.9,880.7 1763.4,877.2 1768,876.8" fill="#0b5aa8"/><polygon points="1790.9,871.8 1792.6,876.8 1797.2,877.2 1793.6,880.7 1794.8,885.9 1790.9,883 1787,885.9 1788.1,880.7 1784.6,877.2 1789.2,876.8" fill="#0b5aa8"/><polygon points="1812.1,867.7 1813.8,872.7 1818.4,873.1 1814.8,876.6 1816,881.8 1812.1,878.9 1808.2,881.8 1809.4,876.6 1805.8,873.1 1810.4,872.7" fill="#0b5aa8"/><polygon points="1833.3,868.5 1835,873.5 1839.6,873.9 1836.1,877.4 1837.2,882.6 1833.3,879.7 1829.4,882.6 1830.6,877.4 1827,873.9 1831.6,873.5" fill="#0b5aa8"/><polygon points="1854.5,866 1856.2,871 1860.8,871.4 1857.3,874.9 1858.4,880.1 1854.5,877.2 1850.6,880.1 1851.8,874.9 1848.2,871.4 1852.8,871" fill="#0b5aa8"/><polygon points="1875.8,863.5 1877.5,868.5 1882.1,868.9 1878.5,872.4 1879.7,877.6 1875.8,874.7 1871.9,877.6 1873,872.4 1869.5,868.9 1874.1,868.5" fill="#0b5aa8"/><polygon points="1897,862.7 1898.7,867.7 1903.3,868.1 1899.7,871.6 1900.9,876.8 1897,873.9 1893.1,876.8 1894.2,871.6 1890.7,868.1 1895.3,867.7" fill="#0b5aa8"/><polygon points="1918.2,862.7 1919.9,867.7 1924.5,868.1 1920.9,871.6 1922.1,876.8 1918.2,873.9 1914.3,876.8 1915.5,871.6 1911.9,868.1 1916.5,867.7" fill="#0b5aa8"/><polygon points="1939.4,861.8 1941.1,866.8 1945.7,867.2 1942.2,870.7 1943.3,875.9 1939.4,873 1935.5,875.9 1936.7,870.7 1933.1,867.2 1937.7,866.8" fill="#0b5aa8"/><polygon points="1960.6,860.2 1962.3,865.2 1966.9,865.6 1963.4,869.1 1964.5,874.3 1960.6,871.4 1956.7,874.3 1957.9,869.1 1954.3,865.6 1958.9,865.2" fill="#0b5aa8"/><polygon points="1981.9,859.7 1983.6,864.7 1988.2,865.1 1984.6,868.6 1985.8,873.8 1981.9,870.9 1978,873.8 1979.1,868.6 1975.6,865.1 1980.2,864.7" fill="#0b5aa8"/><polygon points="2003.1,859.7 2004.8,864.7 2009.4,865.1 2005.8,868.6 2007,873.8 2003.1,870.9 1999.2,873.8 2000.3,868.6 1996.8,865.1 2001.4,864.7" fill="#0b5aa8"/><polygon points="2024.3,859.2 2026,864.2 2030.6,864.6 2027,868.1 2028.2,873.3 2024.3,870.4 2020.4,873.3 2021.6,868.1 2018,864.6 2022.6,864.2" fill="#0b5aa8"/><polygon points="2045.5,859.2 2047.2,864.2 2051.8,864.6 2048.3,868.1 2049.4,873.3 2045.5,870.4 2041.6,873.3 2042.8,868.1 2039.2,864.6 2043.8,864.2" fill="#0b5aa8"/><polygon points="2066.7,859.2 2068.4,864.2 2073,864.6 2069.5,868.1 2070.6,873.3 2066.7,870.4 2062.8,873.3 2064,868.1 2060.4,864.6 2065,864.2" fill="#0b5aa8"/><polygon points="2088,859.2 2089.7,864.2 2094.3,864.6 2090.7,868.1 2091.9,873.3 2088,870.4 2084.1,873.3 2085.2,868.1 2081.7,864.6 2086.3,864.2" fill="#0b5aa8"/><polygon points="2109.2,859.7 2110.9,864.7 2115.5,865.1 2111.9,868.6 2113.1,873.8 2109.2,870.9 2105.3,873.8 2106.4,868.6 2102.9,865.1 2107.5,864.7" fill="#0b5aa8"/><polygon points="2130.4,858.7 2132.1,863.7 2136.7,864.1 2133.1,867.6 2134.3,872.8 2130.4,869.9 2126.5,872.8 2127.7,867.6 2124.1,864.1 2128.7,863.7" fill="#0b5aa8"/><polygon points="2151.6,858.2 2153.3,863.2 2157.9,863.6 2154.4,867.1 2155.5,872.3 2151.6,869.4 2147.7,872.3 2148.9,867.1 2145.3,863.6 2149.9,863.2" fill="#0b5aa8"/><polygon points="2172.8,858.2 2174.5,863.2 2179.1,863.6 2175.6,867.1 2176.7,872.3 2172.8,869.4 2168.9,872.3 2170.1,867.1 2166.5,863.6 2171.1,863.2" fill="#0b5aa8"/><polygon points="2194.1,855.2 2195.8,860.2 2200.4,860.6 2196.8,864.1 2198,869.3 2194.1,866.4 2190.2,869.3 2191.3,864.1 2187.8,860.6 2192.4,860.2" fill="#0b5aa8"/>
<polyline points="1175.5,830.5 1196.7,828 1217.9,816.5 1239.2,789.5 1260.4,720 1281.6,612.4 1302.8,484.4 1324,369.5 1345.3,282.1 1366.5,239.5 1387.7,229.4 1408.9,246 1430.1,296 1451.4,376.3 1472.6,476.8 1493.8,589.8 1515,694.4 1536.2,785.9 1557.5,843.5 1578.7,867 1599.9,876.2 1621.1,878.8 1642.3,880.4 1663.6,880.4 1684.8,880.4 1706,879.6 1727.2,877.9 1748.4,875.5 1769.7,870.5 1790.9,865.5 1812.1,858 1833.3,849.7 1854.5,847.2 1875.8,841.4 1897,838.1 1918.2,838.9 1939.4,835.6 1960.6,835.8 1981.9,835.1 2003.1,839.6 2024.3,839.6 2045.5,835.1 2066.7,839.6 2088,838.9 2109.2,838.1 2130.4,838.9 2151.6,838.9 2172.8,835.8 2194.1,832.8" fill="none" stroke="#f00008" stroke-width="4.6" stroke-linejoin="round"/>
<polygon points="1175.5,821.1 1184.1,830.5 1175.5,839.9 1166.9,830.5" fill="#f00008"/><polygon points="1196.7,818.6 1205.3,828 1196.7,837.4 1188.1,828" fill="#f00008"/><polygon points="1217.9,807.1 1226.5,816.5 1217.9,825.9 1209.3,816.5" fill="#f00008"/><polygon points="1239.2,780.1 1247.8,789.5 1239.2,798.9 1230.6,789.5" fill="#f00008"/><polygon points="1260.4,710.6 1269,720 1260.4,729.4 1251.8,720" fill="#f00008"/><polygon points="1281.6,603 1290.2,612.4 1281.6,621.8 1273,612.4" fill="#f00008"/><polygon points="1302.8,475 1311.4,484.4 1302.8,493.8 1294.2,484.4" fill="#f00008"/><polygon points="1324,360.1 1332.6,369.5 1324,378.9 1315.4,369.5" fill="#f00008"/><polygon points="1345.3,272.7 1353.9,282.1 1345.3,291.5 1336.7,282.1" fill="#f00008"/><polygon points="1366.5,230.1 1375.1,239.5 1366.5,248.9 1357.9,239.5" fill="#f00008"/><polygon points="1387.7,220 1396.3,229.4 1387.7,238.8 1379.1,229.4" fill="#f00008"/><polygon points="1408.9,236.6 1417.5,246 1408.9,255.4 1400.3,246" fill="#f00008"/><polygon points="1430.1,286.6 1438.7,296 1430.1,305.4 1421.5,296" fill="#f00008"/><polygon points="1451.4,366.9 1460,376.3 1451.4,385.7 1442.8,376.3" fill="#f00008"/><polygon points="1472.6,467.4 1481.2,476.8 1472.6,486.2 1464,476.8" fill="#f00008"/><polygon points="1493.8,580.4 1502.4,589.8 1493.8,599.2 1485.2,589.8" fill="#f00008"/><polygon points="1515,685 1523.6,694.4 1515,703.8 1506.4,694.4" fill="#f00008"/><polygon points="1536.2,776.5 1544.8,785.9 1536.2,795.3 1527.6,785.9" fill="#f00008"/><polygon points="1557.5,834.1 1566.1,843.5 1557.5,852.9 1548.9,843.5" fill="#f00008"/><polygon points="1578.7,857.6 1587.3,867 1578.7,876.4 1570.1,867" fill="#f00008"/><polygon points="1599.9,866.8 1608.5,876.2 1599.9,885.6 1591.3,876.2" fill="#f00008"/><polygon points="1621.1,869.4 1629.7,878.8 1621.1,888.2 1612.5,878.8" fill="#f00008"/><polygon points="1642.3,871 1650.9,880.4 1642.3,889.8 1633.7,880.4" fill="#f00008"/><polygon points="1663.6,871 1672.2,880.4 1663.6,889.8 1655,880.4" fill="#f00008"/><polygon points="1684.8,871 1693.4,880.4 1684.8,889.8 1676.2,880.4" fill="#f00008"/><polygon points="1706,870.2 1714.6,879.6 1706,889 1697.4,879.6" fill="#f00008"/><polygon points="1727.2,868.5 1735.8,877.9 1727.2,887.3 1718.6,877.9" fill="#f00008"/><polygon points="1748.4,866.1 1757,875.5 1748.4,884.9 1739.8,875.5" fill="#f00008"/><polygon points="1769.7,861.1 1778.3,870.5 1769.7,879.9 1761.1,870.5" fill="#f00008"/><polygon points="1790.9,856.1 1799.5,865.5 1790.9,874.9 1782.3,865.5" fill="#f00008"/><polygon points="1812.1,848.6 1820.7,858 1812.1,867.4 1803.5,858" fill="#f00008"/><polygon points="1833.3,840.3 1841.9,849.7 1833.3,859.1 1824.7,849.7" fill="#f00008"/><polygon points="1854.5,837.8 1863.1,847.2 1854.5,856.6 1845.9,847.2" fill="#f00008"/><polygon points="1875.8,832 1884.4,841.4 1875.8,850.8 1867.2,841.4" fill="#f00008"/><polygon points="1897,828.7 1905.6,838.1 1897,847.5 1888.4,838.1" fill="#f00008"/><polygon points="1918.2,829.5 1926.8,838.9 1918.2,848.3 1909.6,838.9" fill="#f00008"/><polygon points="1939.4,826.2 1948,835.6 1939.4,845 1930.8,835.6" fill="#f00008"/><polygon points="1960.6,826.4 1969.2,835.8 1960.6,845.2 1952,835.8" fill="#f00008"/><polygon points="1981.9,825.7 1990.5,835.1 1981.9,844.5 1973.3,835.1" fill="#f00008"/><polygon points="2003.1,830.2 2011.7,839.6 2003.1,849 1994.5,839.6" fill="#f00008"/><polygon points="2024.3,830.2 2032.9,839.6 2024.3,849 2015.7,839.6" fill="#f00008"/><polygon points="2045.5,825.7 2054.1,835.1 2045.5,844.5 2036.9,835.1" fill="#f00008"/><polygon points="2066.7,830.2 2075.3,839.6 2066.7,849 2058.1,839.6" fill="#f00008"/><polygon points="2088,829.5 2096.6,838.9 2088,848.3 2079.4,838.9" fill="#f00008"/><polygon points="2109.2,828.7 2117.8,838.1 2109.2,847.5 2100.6,838.1" fill="#f00008"/><polygon points="2130.4,829.5 2139,838.9 2130.4,848.3 2121.8,838.9" fill="#f00008"/><polygon points="2151.6,829.5 2160.2,838.9 2151.6,848.3 2143,838.9" fill="#f00008"/><polygon points="2172.8,826.4 2181.4,835.8 2172.8,845.2 2164.2,835.8" fill="#f00008"/><polygon points="2194.1,823.4 2202.7,832.8 2194.1,842.2 2185.5,832.8" fill="#f00008"/>
</g>
<rect x="1168.5" y="35.5" width="1036.5" height="853.5" fill="none" stroke="#2b2b2b" stroke-width="3"/>
<line x1="1168.5" y1="718.3" x2="1182.5" y2="718.3" stroke="#2b2b2b" stroke-width="3"/>
<line x1="1168.5" y1="547.6" x2="1182.5" y2="547.6" stroke="#2b2b2b" stroke-width="3"/>
<line x1="1168.5" y1="376.9" x2="1182.5" y2="376.9" stroke="#2b2b2b" stroke-width="3"/>
<line x1="1168.5" y1="206.2" x2="1182.5" y2="206.2" stroke="#2b2b2b" stroke-width="3"/>
<line x1="1339.8" y1="889" x2="1339.8" y2="875" stroke="#2b2b2b" stroke-width="3"/>
<line x1="1512.7" y1="889" x2="1512.7" y2="875" stroke="#2b2b2b" stroke-width="3"/>
<line x1="1685.5" y1="889" x2="1685.5" y2="875" stroke="#2b2b2b" stroke-width="3"/>
<line x1="1858.4" y1="889" x2="1858.4" y2="875" stroke="#2b2b2b" stroke-width="3"/>
<line x1="2031.3" y1="889" x2="2031.3" y2="875" stroke="#2b2b2b" stroke-width="3"/>
<text x="1151" y="902.7" font-family="'DejaVu Sans', 'Liberation Sans', sans-serif" font-size="35.5" fill="#222" text-anchor="end">0.0</text>
<text x="1151" y="731.7" font-family="'DejaVu Sans', 'Liberation Sans', sans-serif" font-size="35.5" fill="#222" text-anchor="end">0.2</text>
<text x="1151" y="559.9" font-family="'DejaVu Sans', 'Liberation Sans', sans-serif" font-size="35.5" fill="#222" text-anchor="end">0.4</text>
<text x="1151" y="391.4" font-family="'DejaVu Sans', 'Liberation Sans', sans-serif" font-size="35.5" fill="#222" text-anchor="end">0.6</text>
<text x="1151" y="219.3" font-family="'DejaVu Sans', 'Liberation Sans', sans-serif" font-size="35.5" fill="#222" text-anchor="end">0.8</text>
<text x="1151" y="49.7" font-family="'DejaVu Sans', 'Liberation Sans', sans-serif" font-size="35.5" fill="#222" text-anchor="end">1.0</text>
<text x="1167.7" y="931.5" font-family="'DejaVu Sans', 'Liberation Sans', sans-serif" font-size="35.5" fill="#222" text-anchor="middle">0</text>
<text x="1340" y="931.5" font-family="'DejaVu Sans', 'Liberation Sans', sans-serif" font-size="35.5" fill="#222" text-anchor="middle">5</text>
<text x="1512.4" y="931.5" font-family="'DejaVu Sans', 'Liberation Sans', sans-serif" font-size="35.5" fill="#222" text-anchor="middle">10</text>
<text x="1684.8" y="931.5" font-family="'DejaVu Sans', 'Liberation Sans', sans-serif" font-size="35.5" fill="#222" text-anchor="middle">15</text>
<text x="1857.1" y="931.5" font-family="'DejaVu Sans', 'Liberation Sans', sans-serif" font-size="35.5" fill="#222" text-anchor="middle">20</text>
<text x="2029.5" y="931.5" font-family="'DejaVu Sans', 'Liberation Sans', sans-serif" font-size="35.5" fill="#222" text-anchor="middle">25</text>
<text x="2201.8" y="931.5" font-family="'DejaVu Sans', 'Liberation Sans', sans-serif" font-size="35.5" fill="#222" text-anchor="middle">30</text>
<line x1="1687" y1="90.5" x2="1768" y2="90.5" stroke="#1ef01e" stroke-width="5.4"/>
<ellipse cx="1727.5" cy="90.5" rx="6.4" ry="7.2" fill="#1ef01e"/>
<line x1="1685" y1="150.5" x2="1766" y2="150.5" stroke="#0b5aa8" stroke-width="5.4"/>
<polygon points="1725.5,142.7 1727.2,147.7 1731.8,148.1 1728.2,151.6 1729.4,156.8 1725.5,153.9 1721.6,156.8 1722.8,151.6 1719.2,148.1 1723.8,147.7" fill="#0b5aa8"/>
<line x1="1892" y1="89.5" x2="1972" y2="89.5" stroke="#ffff00" stroke-width="5.4"/>
<polygon points="1932,81.9 1939.2,97.1 1924.8,97.1" fill="#ffff00"/>
<line x1="1892" y1="148" x2="1972" y2="148" stroke="#f00008" stroke-width="5.4"/>
<polygon points="1932,138.6 1940.6,148 1932,157.4 1923.4,148" fill="#f00008"/>
<text transform="translate(1783.42 107.60) scale(0.8971 1)" font-family="'Liberation Serif', 'Times New Roman', serif" font-style="italic" font-size="48.72">N</text>
<text transform="translate(1814.62 118.50) scale(1.0146 1)" font-family="'Liberation Serif', 'Times New Roman', serif" font-size="36.96">H1</text>
<text transform="translate(1783.42 168.90) scale(0.8971 1)" font-family="'Liberation Serif', 'Times New Roman', serif" font-style="italic" font-size="48.72">N</text>
<text transform="translate(1814.62 180.50) scale(0.9850 1)" font-family="'Liberation Serif', 'Times New Roman', serif" font-size="37.91">H2</text>
<text transform="translate(1989.73 107.60) scale(0.9256 1)" font-family="'Liberation Serif', 'Times New Roman', serif" font-style="italic" font-size="48.72">N</text>
<text transform="translate(2020.70 118.50) scale(1.0583 1)" font-family="'Liberation Serif', 'Times New Roman', serif" font-size="36.51">T1</text>
<text transform="translate(1989.73 168.90) scale(0.9256 1)" font-family="'Liberation Serif', 'Times New Roman', serif" font-style="italic" font-size="48.72">N</text>
<text transform="translate(2020.71 180.50) scale(1.0189 1)" font-family="'Liberation Serif', 'Times New Roman', serif" font-size="37.46">T2</text>
<text transform="translate(1284.32 98.60) scale(0.8723 1)" font-family="'Liberation Serif', 'Times New Roman', serif" font-style="italic" font-size="49.79">N</text>
<text transform="translate(1316.13 109.10) scale(1.0218 1)" font-family="'Liberation Serif', 'Times New Roman', serif" font-size="36.36">H1</text>
<text transform="translate(1377.47 100.90) scale(1.2462 1)" font-family="'Liberation Serif', 'Times New Roman', serif" font-size="48.80">=</text>
<text transform="translate(1427.85 98.12) scale(0.9620 1)" font-family="'Liberation Serif', 'Times New Roman', serif" font-size="48.82">3</text>
<text transform="translate(1452.89 97.89) scale(0.9701 1)" font-family="'Liberation Serif', 'Times New Roman', serif" font-size="43.61">,</text>
<text transform="translate(1474.02 98.60) scale(0.8540 1)" font-family="'Liberation Serif', 'Times New Roman', serif" font-style="italic" font-size="50.86">N</text>
<text transform="translate(1505.20 109.60) scale(1.0326 1)" font-family="'Liberation Serif', 'Times New Roman', serif" font-size="37.42">T1</text>
<text transform="translate(1562.66 101.93) scale(1.1925 1)" font-family="'Liberation Serif', 'Times New Roman', serif" font-size="52.80">=</text>
<text transform="translate(1612.44 98.60) scale(0.9771 1)" font-family="'Liberation Serif', 'Times New Roman', serif" font-size="50.29">2</text>
<text transform="translate(1285.62 166.60) scale(0.8644 1)" font-family="'Liberation Serif', 'Times New Roman', serif" font-style="italic" font-size="50.25">N</text>
<text transform="translate(1317.43 177.60) scale(1.0168 1)" font-family="'Liberation Serif', 'Times New Roman', serif" font-size="36.55">H2</text>
<text transform="translate(1378.27 169.52) scale(1.1972 1)" font-family="'Liberation Serif', 'Times New Roman', serif" font-size="50.80">=</text>
<text transform="translate(1428.81 166.61) scale(0.9642 1)" font-family="'Liberation Serif', 'Times New Roman', serif" font-size="49.71">3</text>
<text transform="translate(1454.87 165.29) scale(0.7916 1)" font-family="'Liberation Serif', 'Times New Roman', serif" font-size="47.50">,</text>
<text transform="translate(1475.12 166.60) scale(0.8782 1)" font-family="'Liberation Serif', 'Times New Roman', serif" font-style="italic" font-size="50.25">N</text>
<text transform="translate(1506.21 177.60) scale(1.0521 1)" font-family="'Liberation Serif', 'Times New Roman', serif" font-size="36.55">T2</text>
<text transform="translate(1564.22 169.52) scale(1.2183 1)" font-family="'Liberation Serif', 'Times New Roman', serif" font-size="50.80">=</text>
<text transform="translate(1613.65 166.61) scale(1.0192 1)" font-family="'Liberation Serif', 'Times New Roman', serif" font-size="50.24">8</text>
<text transform="translate(1644.45 1006.90) scale(1.1694 1)" font-family="'Liberation Serif', 'Times New Roman', serif" font-style="italic" font-size="64.49">z</text>
<text transform="translate(1675.10 1006.97) scale(0.6159 1)" font-family="'Liberation Serif', 'Times New Roman', serif" font-style="italic" font-size="74.30">/</text>
<text transform="translate(1691.61 1006.90) scale(1.1662 1)" font-family="'Liberation Serif', 'Times New Roman', serif" font-style="italic" font-size="65.37">r</text>
<text transform="translate(1719.40 1026.95) scale(1.0755 1)" font-family="'Liberation Serif', 'Times New Roman', serif" font-size="46.37">c</text>
<text transform="translate(1065.96 510.92) rotate(-90) scale(1.2496 1)" font-family="'Liberation Serif', 'Times New Roman', serif" font-style="italic" font-size="42.46">ϕ</text>
<text transform="translate(1080.84 478.30) rotate(-90) scale(0.9821 1)" font-family="'Liberation Serif', 'Times New Roman', serif" font-size="35.49">H,T</text>
<g clip-path="url(#cpd)">
<polyline points="1175.3,1922.2 1196.5,1920.7 1217.7,1919.2 1238.9,1916.1 1260.1,1913.1 1281.3,1911.6 1302.5,1910.1 1323.7,1908.6 1344.9,1905.6 1366.1,1896.6 1387.3,1878.5 1408.5,1864.9 1429.7,1845.4 1450.9,1824.3 1472.1,1806.2 1493.3,1795.7 1514.5,1777.6 1535.7,1764 1556.9,1760.5 1578.1,1765.5 1599.3,1771.5 1620.5,1776.1 1641.7,1787.7 1662.9,1799.2 1684.1,1808.5 1705.3,1813.1 1726.5,1809.9 1747.7,1810.8 1768.9,1814.5 1790.1,1812.2 1811.3,1815.4 1832.5,1813.1 1853.7,1813.1 1874.9,1810.8 1896.1,1801.6 1917.3,1794.6 1938.5,1797.8 1959.7,1809 1980.9,1826.8 2002.1,1845.6 2023.3,1869.8 2044.5,1893.1 2065.7,1913 2086.9,1924 2108.1,1926 2129.3,1927 2150.5,1927 2171.7,1927 2192.9,1927" fill="none" stroke="#1ef01e" stroke-width="4.6" stroke-linejoin="round"/>
<ellipse cx="1175.3" cy="1922.2" rx="6.4" ry="7.2" fill="#1ef01e"/><ellipse cx="1196.5" cy="1920.7" rx="6.4" ry="7.2" fill="#1ef01e"/><ellipse cx="1217.7" cy="1919.2" rx="6.4" ry="7.2" fill="#1ef01e"/><ellipse cx="1238.9" cy="1916.1" rx="6.4" ry="7.2" fill="#1ef01e"/><ellipse cx="1260.1" cy="1913.1" rx="6.4" ry="7.2" fill="#1ef01e"/><ellipse cx="1281.3" cy="1911.6" rx="6.4" ry="7.2" fill="#1ef01e"/><ellipse cx="1302.5" cy="1910.1" rx="6.4" ry="7.2" fill="#1ef01e"/><ellipse cx="1323.7" cy="1908.6" rx="6.4" ry="7.2" fill="#1ef01e"/><ellipse cx="1344.9" cy="1905.6" rx="6.4" ry="7.2" fill="#1ef01e"/><ellipse cx="1366.1" cy="1896.6" rx="6.4" ry="7.2" fill="#1ef01e"/><ellipse cx="1387.3" cy="1878.5" rx="6.4" ry="7.2" fill="#1ef01e"/><ellipse cx="1408.5" cy="1864.9" rx="6.4" ry="7.2" fill="#1ef01e"/><ellipse cx="1429.7" cy="1845.4" rx="6.4" ry="7.2" fill="#1ef01e"/><ellipse cx="1450.9" cy="1824.3" rx="6.4" ry="7.2" fill="#1ef01e"/><ellipse cx="1472.1" cy="1806.2" rx="6.4" ry="7.2" fill="#1ef01e"/><ellipse cx="1493.3" cy="1795.7" rx="6.4" ry="7.2" fill="#1ef01e"/><ellipse cx="1514.5" cy="1777.6" rx="6.4" ry="7.2" fill="#1ef01e"/><ellipse cx="1535.7" cy="1764" rx="6.4" ry="7.2" fill="#1ef01e"/><ellipse cx="1556.9" cy="1760.5" rx="6.4" ry="7.2" fill="#1ef01e"/><ellipse cx="1578.1" cy="1765.5" rx="6.4" ry="7.2" fill="#1ef01e"/><ellipse cx="1599.3" cy="1771.5" rx="6.4" ry="7.2" fill="#1ef01e"/><ellipse cx="1620.5" cy="1776.1" rx="6.4" ry="7.2" fill="#1ef01e"/><ellipse cx="1641.7" cy="1787.7" rx="6.4" ry="7.2" fill="#1ef01e"/><ellipse cx="1662.9" cy="1799.2" rx="6.4" ry="7.2" fill="#1ef01e"/><ellipse cx="1684.1" cy="1808.5" rx="6.4" ry="7.2" fill="#1ef01e"/><ellipse cx="1705.3" cy="1813.1" rx="6.4" ry="7.2" fill="#1ef01e"/><ellipse cx="1726.5" cy="1809.9" rx="6.4" ry="7.2" fill="#1ef01e"/><ellipse cx="1747.7" cy="1810.8" rx="6.4" ry="7.2" fill="#1ef01e"/><ellipse cx="1768.9" cy="1814.5" rx="6.4" ry="7.2" fill="#1ef01e"/><ellipse cx="1790.1" cy="1812.2" rx="6.4" ry="7.2" fill="#1ef01e"/><ellipse cx="1811.3" cy="1815.4" rx="6.4" ry="7.2" fill="#1ef01e"/><ellipse cx="1832.5" cy="1813.1" rx="6.4" ry="7.2" fill="#1ef01e"/><ellipse cx="1853.7" cy="1813.1" rx="6.4" ry="7.2" fill="#1ef01e"/><ellipse cx="1874.9" cy="1810.8" rx="6.4" ry="7.2" fill="#1ef01e"/><ellipse cx="1896.1" cy="1801.6" rx="6.4" ry="7.2" fill="#1ef01e"/><ellipse cx="1917.3" cy="1794.6" rx="6.4" ry="7.2" fill="#1ef01e"/><ellipse cx="1938.5" cy="1797.8" rx="6.4" ry="7.2" fill="#1ef01e"/><ellipse cx="1959.7" cy="1809" rx="6.4" ry="7.2" fill="#1ef01e"/><ellipse cx="1980.9" cy="1826.8" rx="6.4" ry="7.2" fill="#1ef01e"/><ellipse cx="2002.1" cy="1845.6" rx="6.4" ry="7.2" fill="#1ef01e"/><ellipse cx="2023.3" cy="1869.8" rx="6.4" ry="7.2" fill="#1ef01e"/><ellipse cx="2044.5" cy="1893.1" rx="6.4" ry="7.2" fill="#1ef01e"/><ellipse cx="2065.7" cy="1913" rx="6.4" ry="7.2" fill="#1ef01e"/><ellipse cx="2086.9" cy="1924" rx="6.4" ry="7.2" fill="#1ef01e"/><ellipse cx="2108.1" cy="1926" rx="6.4" ry="7.2" fill="#1ef01e"/><ellipse cx="2129.3" cy="1927" rx="6.4" ry="7.2" fill="#1ef01e"/><ellipse cx="2150.5" cy="1927" rx="6.4" ry="7.2" fill="#1ef01e"/><ellipse cx="2171.7" cy="1927" rx="6.4" ry="7.2" fill="#1ef01e"/><ellipse cx="2192.9" cy="1927" rx="6.4" ry="7.2" fill="#1ef01e"/>
<polyline points="1175.3,1925.2 1196.5,1925.2 1217.7,1923.7 1238.9,1922.2 1260.1,1920.7 1281.3,1920.7 1302.5,1919.2 1323.7,1917.7 1344.9,1916.1 1366.1,1913.1 1387.3,1907.1 1408.5,1898.1 1429.7,1886 1450.9,1872.5 1472.1,1858.9 1493.3,1848.4 1514.5,1839.3 1535.7,1831 1556.9,1823.7 1578.1,1817.7 1599.3,1819.1 1620.5,1827 1641.7,1828.4 1662.9,1827 1684.1,1828.4 1705.3,1830.2 1726.5,1831.6 1747.7,1836.3 1768.9,1840.9 1790.1,1845.5 1811.3,1840.9 1832.5,1834.9 1853.7,1830.2 1874.9,1827 1896.1,1831.6 1917.3,1840.9 1938.5,1853.6 1959.7,1871.5 1980.9,1888.6 2002.1,1909 2023.3,1923.3 2044.5,1926.4 2065.7,1926.4 2086.9,1927.5 2108.1,1927.5 2129.3,1927.5 2150.5,1927.5 2171.7,1927.5 2192.9,1927.5" fill="none" stroke="#ffff00" stroke-width="4.6" stroke-linejoin="round"/>
<polygon points="1175.3,1917.6 1182.5,1932.8 1168.1,1932.8" fill="#ffff00"/><polygon points="1196.5,1917.6 1203.7,1932.8 1189.3,1932.8" fill="#ffff00"/><polygon points="1217.7,1916.1 1224.9,1931.3 1210.5,1931.3" fill="#ffff00"/><polygon points="1238.9,1914.6 1246.1,1929.8 1231.7,1929.8" fill="#ffff00"/><polygon points="1260.1,1913.1 1267.3,1928.3 1252.9,1928.3" fill="#ffff00"/><polygon points="1281.3,1913.1 1288.5,1928.3 1274.1,1928.3" fill="#ffff00"/><polygon points="1302.5,1911.6 1309.7,1926.8 1295.3,1926.8" fill="#ffff00"/><polygon points="1323.7,1910.1 1330.9,1925.3 1316.5,1925.3" fill="#ffff00"/><polygon points="1344.9,1908.5 1352.1,1923.7 1337.7,1923.7" fill="#ffff00"/><polygon points="1366.1,1905.5 1373.3,1920.7 1358.9,1920.7" fill="#ffff00"/><polygon points="1387.3,1899.5 1394.5,1914.7 1380.1,1914.7" fill="#ffff00"/><polygon points="1408.5,1890.5 1415.7,1905.7 1401.3,1905.7" fill="#ffff00"/><polygon points="1429.7,1878.4 1436.9,1893.6 1422.5,1893.6" fill="#ffff00"/><polygon points="1450.9,1864.9 1458.1,1880.1 1443.7,1880.1" fill="#ffff00"/><polygon points="1472.1,1851.3 1479.3,1866.5 1464.9,1866.5" fill="#ffff00"/><polygon points="1493.3,1840.8 1500.5,1856 1486.1,1856" fill="#ffff00"/><polygon points="1514.5,1831.7 1521.7,1846.9 1507.3,1846.9" fill="#ffff00"/><polygon points="1535.7,1823.4 1542.9,1838.6 1528.5,1838.6" fill="#ffff00"/><polygon points="1556.9,1816.1 1564.1,1831.3 1549.7,1831.3" fill="#ffff00"/><polygon points="1578.1,1810.1 1585.3,1825.3 1570.9,1825.3" fill="#ffff00"/><polygon points="1599.3,1811.5 1606.5,1826.7 1592.1,1826.7" fill="#ffff00"/><polygon points="1620.5,1819.4 1627.7,1834.6 1613.3,1834.6" fill="#ffff00"/><polygon points="1641.7,1820.8 1648.9,1836 1634.5,1836" fill="#ffff00"/><polygon points="1662.9,1819.4 1670.1,1834.6 1655.7,1834.6" fill="#ffff00"/><polygon points="1684.1,1820.8 1691.3,1836 1676.9,1836" fill="#ffff00"/><polygon points="1705.3,1822.6 1712.5,1837.8 1698.1,1837.8" fill="#ffff00"/><polygon points="1726.5,1824 1733.7,1839.2 1719.3,1839.2" fill="#ffff00"/><polygon points="1747.7,1828.7 1754.9,1843.9 1740.5,1843.9" fill="#ffff00"/><polygon points="1768.9,1833.3 1776.1,1848.5 1761.7,1848.5" fill="#ffff00"/><polygon points="1790.1,1837.9 1797.3,1853.1 1782.9,1853.1" fill="#ffff00"/><polygon points="1811.3,1833.3 1818.5,1848.5 1804.1,1848.5" fill="#ffff00"/><polygon points="1832.5,1827.3 1839.7,1842.5 1825.3,1842.5" fill="#ffff00"/><polygon points="1853.7,1822.6 1860.9,1837.8 1846.5,1837.8" fill="#ffff00"/><polygon points="1874.9,1819.4 1882.1,1834.6 1867.7,1834.6" fill="#ffff00"/><polygon points="1896.1,1824 1903.3,1839.2 1888.9,1839.2" fill="#ffff00"/><polygon points="1917.3,1833.3 1924.5,1848.5 1910.1,1848.5" fill="#ffff00"/><polygon points="1938.5,1846 1945.7,1861.2 1931.3,1861.2" fill="#ffff00"/><polygon points="1959.7,1863.9 1966.9,1879.1 1952.5,1879.1" fill="#ffff00"/><polygon points="1980.9,1881 1988.1,1896.2 1973.7,1896.2" fill="#ffff00"/><polygon points="2002.1,1901.4 2009.3,1916.6 1994.9,1916.6" fill="#ffff00"/><polygon points="2023.3,1915.7 2030.5,1930.9 2016.1,1930.9" fill="#ffff00"/><polygon points="2044.5,1918.8 2051.7,1934 2037.3,1934" fill="#ffff00"/><polygon points="2065.7,1918.8 2072.9,1934 2058.5,1934" fill="#ffff00"/><polygon points="2086.9,1919.9 2094.1,1935.1 2079.7,1935.1" fill="#ffff00"/><polygon points="2108.1,1919.9 2115.3,1935.1 2100.9,1935.1" fill="#ffff00"/><polygon points="2129.3,1919.9 2136.5,1935.1 2122.1,1935.1" fill="#ffff00"/><polygon points="2150.5,1919.9 2157.7,1935.1 2143.3,1935.1" fill="#ffff00"/><polygon points="2171.7,1919.9 2178.9,1935.1 2164.5,1935.1" fill="#ffff00"/><polygon points="2192.9,1919.9 2200.1,1935.1 2185.7,1935.1" fill="#ffff00"/>
<polyline points="1175.3,1919.2 1196.5,1919.2 1217.7,1914.6 1238.9,1910.1 1260.1,1904.1 1281.3,1905.6 1302.5,1902.6 1323.7,1902.6 1344.9,1899.6 1366.1,1893.6 1387.3,1880 1408.5,1858.9 1429.7,1837.8 1450.9,1813.7 1472.1,1792.7 1493.3,1776.1 1514.5,1762.5 1535.7,1767 1556.9,1770 1578.1,1776.1 1599.3,1776.1 1620.5,1787.7 1641.7,1796.9 1662.9,1803.9 1684.1,1809.9 1705.3,1813.1 1726.5,1815.4 1747.7,1811.7 1768.9,1808.5 1790.1,1801.6 1811.3,1799.2 1832.5,1805.3 1853.7,1808.5 1874.9,1808.5 1896.1,1810.8 1917.3,1815.4 1938.5,1819.2 1959.7,1828.3 1980.9,1839.6 2002.1,1857.7 2023.3,1878.1 2044.5,1899.2 2065.7,1914.3 2086.9,1924 2108.1,1925.5 2129.3,1926 2150.5,1926 2171.7,1926 2192.9,1926" fill="none" stroke="#0b5aa8" stroke-width="4.6" stroke-linejoin="round"/>
<polygon points="1175.3,1911.4 1177,1916.4 1181.6,1916.8 1178,1920.3 1179.2,1925.5 1175.3,1922.6 1171.4,1925.5 1172.6,1920.3 1169,1916.8 1173.6,1916.4" fill="#0b5aa8"/><polygon points="1196.5,1911.4 1198.2,1916.4 1202.8,1916.8 1199.2,1920.3 1200.4,1925.5 1196.5,1922.6 1192.6,1925.5 1193.8,1920.3 1190.2,1916.8 1194.8,1916.4" fill="#0b5aa8"/><polygon points="1217.7,1906.8 1219.4,1911.8 1224,1912.2 1220.4,1915.7 1221.6,1920.9 1217.7,1918 1213.8,1920.9 1215,1915.7 1211.4,1912.2 1216,1911.8" fill="#0b5aa8"/><polygon points="1238.9,1902.3 1240.6,1907.3 1245.2,1907.7 1241.6,1911.2 1242.8,1916.4 1238.9,1913.5 1235,1916.4 1236.2,1911.2 1232.6,1907.7 1237.2,1907.3" fill="#0b5aa8"/><polygon points="1260.1,1896.3 1261.8,1901.3 1266.4,1901.7 1262.8,1905.2 1264,1910.4 1260.1,1907.5 1256.2,1910.4 1257.4,1905.2 1253.8,1901.7 1258.4,1901.3" fill="#0b5aa8"/><polygon points="1281.3,1897.8 1283,1902.8 1287.6,1903.2 1284,1906.7 1285.2,1911.9 1281.3,1909 1277.4,1911.9 1278.6,1906.7 1275,1903.2 1279.6,1902.8" fill="#0b5aa8"/><polygon points="1302.5,1894.8 1304.2,1899.8 1308.8,1900.2 1305.2,1903.7 1306.4,1908.9 1302.5,1906 1298.6,1908.9 1299.8,1903.7 1296.2,1900.2 1300.8,1899.8" fill="#0b5aa8"/><polygon points="1323.7,1894.8 1325.4,1899.8 1330,1900.2 1326.4,1903.7 1327.6,1908.9 1323.7,1906 1319.8,1908.9 1321,1903.7 1317.4,1900.2 1322,1899.8" fill="#0b5aa8"/><polygon points="1344.9,1891.8 1346.6,1896.8 1351.2,1897.2 1347.6,1900.7 1348.8,1905.9 1344.9,1903 1341,1905.9 1342.2,1900.7 1338.6,1897.2 1343.2,1896.8" fill="#0b5aa8"/><polygon points="1366.1,1885.8 1367.8,1890.8 1372.4,1891.2 1368.8,1894.7 1370,1899.9 1366.1,1897 1362.2,1899.9 1363.4,1894.7 1359.8,1891.2 1364.4,1890.8" fill="#0b5aa8"/><polygon points="1387.3,1872.2 1389,1877.2 1393.6,1877.6 1390,1881.1 1391.2,1886.3 1387.3,1883.4 1383.4,1886.3 1384.6,1881.1 1381,1877.6 1385.6,1877.2" fill="#0b5aa8"/><polygon points="1408.5,1851.1 1410.2,1856.1 1414.8,1856.5 1411.2,1860 1412.4,1865.2 1408.5,1862.3 1404.6,1865.2 1405.8,1860 1402.2,1856.5 1406.8,1856.1" fill="#0b5aa8"/><polygon points="1429.7,1830 1431.4,1835 1436,1835.4 1432.4,1838.9 1433.6,1844.1 1429.7,1841.2 1425.8,1844.1 1427,1838.9 1423.4,1835.4 1428,1835" fill="#0b5aa8"/><polygon points="1450.9,1805.9 1452.6,1810.9 1457.2,1811.3 1453.6,1814.8 1454.8,1820 1450.9,1817.1 1447,1820 1448.2,1814.8 1444.6,1811.3 1449.2,1810.9" fill="#0b5aa8"/><polygon points="1472.1,1784.9 1473.8,1789.9 1478.4,1790.3 1474.8,1793.8 1476,1799 1472.1,1796.1 1468.2,1799 1469.4,1793.8 1465.8,1790.3 1470.4,1789.9" fill="#0b5aa8"/><polygon points="1493.3,1768.3 1495,1773.3 1499.6,1773.7 1496,1777.2 1497.2,1782.4 1493.3,1779.5 1489.4,1782.4 1490.6,1777.2 1487,1773.7 1491.6,1773.3" fill="#0b5aa8"/><polygon points="1514.5,1754.7 1516.2,1759.7 1520.8,1760.1 1517.2,1763.6 1518.4,1768.8 1514.5,1765.9 1510.6,1768.8 1511.8,1763.6 1508.2,1760.1 1512.8,1759.7" fill="#0b5aa8"/><polygon points="1535.7,1759.2 1537.4,1764.2 1542,1764.6 1538.4,1768.1 1539.6,1773.3 1535.7,1770.4 1531.8,1773.3 1533,1768.1 1529.4,1764.6 1534,1764.2" fill="#0b5aa8"/><polygon points="1556.9,1762.2 1558.6,1767.2 1563.2,1767.6 1559.6,1771.1 1560.8,1776.3 1556.9,1773.4 1553,1776.3 1554.2,1771.1 1550.6,1767.6 1555.2,1767.2" fill="#0b5aa8"/><polygon points="1578.1,1768.3 1579.8,1773.3 1584.4,1773.7 1580.8,1777.2 1582,1782.4 1578.1,1779.5 1574.2,1782.4 1575.4,1777.2 1571.8,1773.7 1576.4,1773.3" fill="#0b5aa8"/><polygon points="1599.3,1768.3 1601,1773.3 1605.6,1773.7 1602,1777.2 1603.2,1782.4 1599.3,1779.5 1595.4,1782.4 1596.6,1777.2 1593,1773.7 1597.6,1773.3" fill="#0b5aa8"/><polygon points="1620.5,1779.9 1622.2,1784.9 1626.8,1785.3 1623.2,1788.8 1624.4,1794 1620.5,1791.1 1616.6,1794 1617.8,1788.8 1614.2,1785.3 1618.8,1784.9" fill="#0b5aa8"/><polygon points="1641.7,1789.1 1643.4,1794.1 1648,1794.5 1644.4,1798 1645.6,1803.2 1641.7,1800.3 1637.8,1803.2 1639,1798 1635.4,1794.5 1640,1794.1" fill="#0b5aa8"/><polygon points="1662.9,1796.1 1664.6,1801.1 1669.2,1801.5 1665.6,1805 1666.8,1810.2 1662.9,1807.3 1659,1810.2 1660.2,1805 1656.6,1801.5 1661.2,1801.1" fill="#0b5aa8"/><polygon points="1684.1,1802.1 1685.8,1807.1 1690.4,1807.5 1686.8,1811 1688,1816.2 1684.1,1813.3 1680.2,1816.2 1681.4,1811 1677.8,1807.5 1682.4,1807.1" fill="#0b5aa8"/><polygon points="1705.3,1805.3 1707,1810.3 1711.6,1810.7 1708,1814.2 1709.2,1819.4 1705.3,1816.5 1701.4,1819.4 1702.6,1814.2 1699,1810.7 1703.6,1810.3" fill="#0b5aa8"/><polygon points="1726.5,1807.6 1728.2,1812.6 1732.8,1813 1729.2,1816.5 1730.4,1821.7 1726.5,1818.8 1722.6,1821.7 1723.8,1816.5 1720.2,1813 1724.8,1812.6" fill="#0b5aa8"/><polygon points="1747.7,1803.9 1749.4,1808.9 1754,1809.3 1750.4,1812.8 1751.6,1818 1747.7,1815.1 1743.8,1818 1745,1812.8 1741.4,1809.3 1746,1808.9" fill="#0b5aa8"/><polygon points="1768.9,1800.7 1770.6,1805.7 1775.2,1806.1 1771.6,1809.6 1772.8,1814.8 1768.9,1811.9 1765,1814.8 1766.2,1809.6 1762.6,1806.1 1767.2,1805.7" fill="#0b5aa8"/><polygon points="1790.1,1793.8 1791.8,1798.8 1796.4,1799.2 1792.8,1802.7 1794,1807.9 1790.1,1805 1786.2,1807.9 1787.4,1802.7 1783.8,1799.2 1788.4,1798.8" fill="#0b5aa8"/><polygon points="1811.3,1791.4 1813,1796.4 1817.6,1796.8 1814,1800.3 1815.2,1805.5 1811.3,1802.6 1807.4,1805.5 1808.6,1800.3 1805,1796.8 1809.6,1796.4" fill="#0b5aa8"/><polygon points="1832.5,1797.5 1834.2,1802.5 1838.8,1802.9 1835.2,1806.4 1836.4,1811.6 1832.5,1808.7 1828.6,1811.6 1829.8,1806.4 1826.2,1802.9 1830.8,1802.5" fill="#0b5aa8"/><polygon points="1853.7,1800.7 1855.4,1805.7 1860,1806.1 1856.4,1809.6 1857.6,1814.8 1853.7,1811.9 1849.8,1814.8 1851,1809.6 1847.4,1806.1 1852,1805.7" fill="#0b5aa8"/><polygon points="1874.9,1800.7 1876.6,1805.7 1881.2,1806.1 1877.6,1809.6 1878.8,1814.8 1874.9,1811.9 1871,1814.8 1872.2,1809.6 1868.6,1806.1 1873.2,1805.7" fill="#0b5aa8"/><polygon points="1896.1,1803 1897.8,1808 1902.4,1808.4 1898.8,1811.9 1900,1817.1 1896.1,1814.2 1892.2,1817.1 1893.4,1811.9 1889.8,1808.4 1894.4,1808" fill="#0b5aa8"/><polygon points="1917.3,1807.6 1919,1812.6 1923.6,1813 1920,1816.5 1921.2,1821.7 1917.3,1818.8 1913.4,1821.7 1914.6,1816.5 1911,1813 1915.6,1812.6" fill="#0b5aa8"/><polygon points="1938.5,1811.4 1940.2,1816.4 1944.8,1816.8 1941.2,1820.3 1942.4,1825.5 1938.5,1822.6 1934.6,1825.5 1935.8,1820.3 1932.2,1816.8 1936.8,1816.4" fill="#0b5aa8"/><polygon points="1959.7,1820.5 1961.4,1825.5 1966,1825.9 1962.4,1829.4 1963.6,1834.6 1959.7,1831.7 1955.8,1834.6 1957,1829.4 1953.4,1825.9 1958,1825.5" fill="#0b5aa8"/><polygon points="1980.9,1831.8 1982.6,1836.8 1987.2,1837.2 1983.6,1840.7 1984.8,1845.9 1980.9,1843 1977,1845.9 1978.2,1840.7 1974.6,1837.2 1979.2,1836.8" fill="#0b5aa8"/><polygon points="2002.1,1849.9 2003.8,1854.9 2008.4,1855.3 2004.8,1858.8 2006,1864 2002.1,1861.1 1998.2,1864 1999.4,1858.8 1995.8,1855.3 2000.4,1854.9" fill="#0b5aa8"/><polygon points="2023.3,1870.3 2025,1875.3 2029.6,1875.7 2026,1879.2 2027.2,1884.4 2023.3,1881.5 2019.4,1884.4 2020.6,1879.2 2017,1875.7 2021.6,1875.3" fill="#0b5aa8"/><polygon points="2044.5,1891.4 2046.2,1896.4 2050.8,1896.8 2047.2,1900.3 2048.4,1905.5 2044.5,1902.6 2040.6,1905.5 2041.8,1900.3 2038.2,1896.8 2042.8,1896.4" fill="#0b5aa8"/><polygon points="2065.7,1906.5 2067.4,1911.5 2072,1911.9 2068.4,1915.4 2069.6,1920.6 2065.7,1917.7 2061.8,1920.6 2063,1915.4 2059.4,1911.9 2064,1911.5" fill="#0b5aa8"/><polygon points="2086.9,1916.2 2088.6,1921.2 2093.2,1921.6 2089.6,1925.1 2090.8,1930.3 2086.9,1927.4 2083,1930.3 2084.2,1925.1 2080.6,1921.6 2085.2,1921.2" fill="#0b5aa8"/><polygon points="2108.1,1917.7 2109.8,1922.7 2114.4,1923.1 2110.8,1926.6 2112,1931.8 2108.1,1928.9 2104.2,1931.8 2105.4,1926.6 2101.8,1923.1 2106.4,1922.7" fill="#0b5aa8"/><polygon points="2129.3,1918.2 2131,1923.2 2135.6,1923.6 2132,1927.1 2133.2,1932.3 2129.3,1929.4 2125.4,1932.3 2126.6,1927.1 2123,1923.6 2127.6,1923.2" fill="#0b5aa8"/><polygon points="2150.5,1918.2 2152.2,1923.2 2156.8,1923.6 2153.2,1927.1 2154.4,1932.3 2150.5,1929.4 2146.6,1932.3 2147.8,1927.1 2144.2,1923.6 2148.8,1923.2" fill="#0b5aa8"/><polygon points="2171.7,1918.2 2173.4,1923.2 2178,1923.6 2174.4,1927.1 2175.6,1932.3 2171.7,1929.4 2167.8,1932.3 2169,1927.1 2165.4,1923.6 2170,1923.2" fill="#0b5aa8"/><polygon points="2192.9,1918.2 2194.6,1923.2 2199.2,1923.6 2195.6,1927.1 2196.8,1932.3 2192.9,1929.4 2189,1932.3 2190.2,1927.1 2186.6,1923.6 2191.2,1923.2" fill="#0b5aa8"/>
<polyline points="1175.3,1914.6 1196.5,1911.6 1217.7,1905.6 1238.9,1893.6 1260.1,1878.5 1281.3,1858.9 1302.5,1833.3 1323.7,1804.7 1344.9,1774.6 1366.1,1750.5 1387.3,1729.4 1408.5,1705.3 1429.7,1694.8 1450.9,1688.7 1472.1,1679.7 1493.3,1664.6 1514.5,1640.5 1535.7,1601.4 1556.9,1554.1 1578.1,1500.9 1599.3,1438.5 1620.5,1373.7 1641.7,1318.2 1662.9,1268.7 1684.1,1235 1705.3,1216.4 1726.5,1210.4 1747.7,1217.4 1768.9,1237.3 1790.1,1265 1811.3,1307.6 1832.5,1362.1 1853.7,1430.1 1874.9,1505.5 1896.1,1589.7 1917.3,1676.7 1938.5,1752.1 1959.7,1816.2 1980.9,1864.5 2002.1,1892.4 2023.3,1906 2044.5,1912.8 2065.7,1910.5 2086.9,1912.8 2108.1,1911.3 2129.3,1914.3 2150.5,1912.8 2171.7,1917.3 2192.9,1914.3" fill="none" stroke="#f00008" stroke-width="4.6" stroke-linejoin="round"/>
<polygon points="1175.3,1905.2 1183.9,1914.6 1175.3,1924 1166.7,1914.6" fill="#f00008"/><polygon points="1196.5,1902.2 1205.1,1911.6 1196.5,1921 1187.9,1911.6" fill="#f00008"/><polygon points="1217.7,1896.2 1226.3,1905.6 1217.7,1915 1209.1,1905.6" fill="#f00008"/><polygon points="1238.9,1884.2 1247.5,1893.6 1238.9,1903 1230.3,1893.6" fill="#f00008"/><polygon points="1260.1,1869.1 1268.7,1878.5 1260.1,1887.9 1251.5,1878.5" fill="#f00008"/><polygon points="1281.3,1849.5 1289.9,1858.9 1281.3,1868.3 1272.7,1858.9" fill="#f00008"/><polygon points="1302.5,1823.9 1311.1,1833.3 1302.5,1842.7 1293.9,1833.3" fill="#f00008"/><polygon points="1323.7,1795.3 1332.3,1804.7 1323.7,1814.1 1315.1,1804.7" fill="#f00008"/><polygon points="1344.9,1765.2 1353.5,1774.6 1344.9,1784 1336.3,1774.6" fill="#f00008"/><polygon points="1366.1,1741.1 1374.7,1750.5 1366.1,1759.9 1357.5,1750.5" fill="#f00008"/><polygon points="1387.3,1720 1395.9,1729.4 1387.3,1738.8 1378.7,1729.4" fill="#f00008"/><polygon points="1408.5,1695.9 1417.1,1705.3 1408.5,1714.7 1399.9,1705.3" fill="#f00008"/><polygon points="1429.7,1685.4 1438.3,1694.8 1429.7,1704.2 1421.1,1694.8" fill="#f00008"/><polygon points="1450.9,1679.3 1459.5,1688.7 1450.9,1698.1 1442.3,1688.7" fill="#f00008"/><polygon points="1472.1,1670.3 1480.7,1679.7 1472.1,1689.1 1463.5,1679.7" fill="#f00008"/><polygon points="1493.3,1655.2 1501.9,1664.6 1493.3,1674 1484.7,1664.6" fill="#f00008"/><polygon points="1514.5,1631.1 1523.1,1640.5 1514.5,1649.9 1505.9,1640.5" fill="#f00008"/><polygon points="1535.7,1592 1544.3,1601.4 1535.7,1610.8 1527.1,1601.4" fill="#f00008"/><polygon points="1556.9,1544.7 1565.5,1554.1 1556.9,1563.5 1548.3,1554.1" fill="#f00008"/><polygon points="1578.1,1491.5 1586.7,1500.9 1578.1,1510.3 1569.5,1500.9" fill="#f00008"/><polygon points="1599.3,1429.1 1607.9,1438.5 1599.3,1447.9 1590.7,1438.5" fill="#f00008"/><polygon points="1620.5,1364.3 1629.1,1373.7 1620.5,1383.1 1611.9,1373.7" fill="#f00008"/><polygon points="1641.7,1308.8 1650.3,1318.2 1641.7,1327.6 1633.1,1318.2" fill="#f00008"/><polygon points="1662.9,1259.3 1671.5,1268.7 1662.9,1278.1 1654.3,1268.7" fill="#f00008"/><polygon points="1684.1,1225.6 1692.7,1235 1684.1,1244.4 1675.5,1235" fill="#f00008"/><polygon points="1705.3,1207 1713.9,1216.4 1705.3,1225.8 1696.7,1216.4" fill="#f00008"/><polygon points="1726.5,1201 1735.1,1210.4 1726.5,1219.8 1717.9,1210.4" fill="#f00008"/><polygon points="1747.7,1208 1756.3,1217.4 1747.7,1226.8 1739.1,1217.4" fill="#f00008"/><polygon points="1768.9,1227.9 1777.5,1237.3 1768.9,1246.7 1760.3,1237.3" fill="#f00008"/><polygon points="1790.1,1255.6 1798.7,1265 1790.1,1274.4 1781.5,1265" fill="#f00008"/><polygon points="1811.3,1298.2 1819.9,1307.6 1811.3,1317 1802.7,1307.6" fill="#f00008"/><polygon points="1832.5,1352.7 1841.1,1362.1 1832.5,1371.5 1823.9,1362.1" fill="#f00008"/><polygon points="1853.7,1420.7 1862.3,1430.1 1853.7,1439.5 1845.1,1430.1" fill="#f00008"/><polygon points="1874.9,1496.1 1883.5,1505.5 1874.9,1514.9 1866.3,1505.5" fill="#f00008"/><polygon points="1896.1,1580.3 1904.7,1589.7 1896.1,1599.1 1887.5,1589.7" fill="#f00008"/><polygon points="1917.3,1667.3 1925.9,1676.7 1917.3,1686.1 1908.7,1676.7" fill="#f00008"/><polygon points="1938.5,1742.7 1947.1,1752.1 1938.5,1761.5 1929.9,1752.1" fill="#f00008"/><polygon points="1959.7,1806.8 1968.3,1816.2 1959.7,1825.6 1951.1,1816.2" fill="#f00008"/><polygon points="1980.9,1855.1 1989.5,1864.5 1980.9,1873.9 1972.3,1864.5" fill="#f00008"/><polygon points="2002.1,1883 2010.7,1892.4 2002.1,1901.8 1993.5,1892.4" fill="#f00008"/><polygon points="2023.3,1896.6 2031.9,1906 2023.3,1915.4 2014.7,1906" fill="#f00008"/><polygon points="2044.5,1903.4 2053.1,1912.8 2044.5,1922.2 2035.9,1912.8" fill="#f00008"/><polygon points="2065.7,1901.1 2074.3,1910.5 2065.7,1919.9 2057.1,1910.5" fill="#f00008"/><polygon points="2086.9,1903.4 2095.5,1912.8 2086.9,1922.2 2078.3,1912.8" fill="#f00008"/><polygon points="2108.1,1901.9 2116.7,1911.3 2108.1,1920.7 2099.5,1911.3" fill="#f00008"/><polygon points="2129.3,1904.9 2137.9,1914.3 2129.3,1923.7 2120.7,1914.3" fill="#f00008"/><polygon points="2150.5,1903.4 2159.1,1912.8 2150.5,1922.2 2141.9,1912.8" fill="#f00008"/><polygon points="2171.7,1907.9 2180.3,1917.3 2171.7,1926.7 2163.1,1917.3" fill="#f00008"/><polygon points="2192.9,1904.9 2201.5,1914.3 2192.9,1923.7 2184.3,1914.3" fill="#f00008"/>
</g>
<rect x="1168" y="1070" width="1035" height="861" fill="none" stroke="#2b2b2b" stroke-width="3"/>
<line x1="1168" y1="1808" x2="1182" y2="1808" stroke="#2b2b2b" stroke-width="3"/>
<line x1="1168" y1="1685" x2="1182" y2="1685" stroke="#2b2b2b" stroke-width="3"/>
<line x1="1168" y1="1562" x2="1182" y2="1562" stroke="#2b2b2b" stroke-width="3"/>
<line x1="1168" y1="1439" x2="1182" y2="1439" stroke="#2b2b2b" stroke-width="3"/>
<line x1="1168" y1="1316" x2="1182" y2="1316" stroke="#2b2b2b" stroke-width="3"/>
<line x1="1168" y1="1193" x2="1182" y2="1193" stroke="#2b2b2b" stroke-width="3"/>
<line x1="1339" y1="1931" x2="1339" y2="1917" stroke="#2b2b2b" stroke-width="3"/>
<line x1="1511.5" y1="1931" x2="1511.5" y2="1917" stroke="#2b2b2b" stroke-width="3"/>
<line x1="1683.9" y1="1931" x2="1683.9" y2="1917" stroke="#2b2b2b" stroke-width="3"/>
<line x1="1856.4" y1="1931" x2="1856.4" y2="1917" stroke="#2b2b2b" stroke-width="3"/>
<line x1="2028.8" y1="1931" x2="2028.8" y2="1917" stroke="#2b2b2b" stroke-width="3"/>
<text x="1150.5" y="1945.7" font-family="'DejaVu Sans', 'Liberation Sans', sans-serif" font-size="35.5" fill="#222" text-anchor="end">0.0</text>
<text x="1150.5" y="1822.7" font-family="'DejaVu Sans', 'Liberation Sans', sans-serif" font-size="35.5" fill="#222" text-anchor="end">0.1</text>
<text x="1150.5" y="1699.3" font-family="'DejaVu Sans', 'Liberation Sans', sans-serif" font-size="35.5" fill="#222" text-anchor="end">0.2</text>
<text x="1150.5" y="1575.5" font-family="'DejaVu Sans', 'Liberation Sans', sans-serif" font-size="35.5" fill="#222" text-anchor="end">0.3</text>
<text x="1150.5" y="1453.2" font-family="'DejaVu Sans', 'Liberation Sans', sans-serif" font-size="35.5" fill="#222" text-anchor="end">0.4</text>
<text x="1150.5" y="1330.4" font-family="'DejaVu Sans', 'Liberation Sans', sans-serif" font-size="35.5" fill="#222" text-anchor="end">0.5</text>
<text x="1150.5" y="1204.2" font-family="'DejaVu Sans', 'Liberation Sans', sans-serif" font-size="35.5" fill="#222" text-anchor="end">0.6</text>
<text x="1150.5" y="1081" font-family="'DejaVu Sans', 'Liberation Sans', sans-serif" font-size="35.5" fill="#222" text-anchor="end">0.7</text>
<text x="1167" y="1974.5" font-family="'DejaVu Sans', 'Liberation Sans', sans-serif" font-size="35.5" fill="#222" text-anchor="middle">0</text>
<text x="1339.2" y="1974.5" font-family="'DejaVu Sans', 'Liberation Sans', sans-serif" font-size="35.5" fill="#222" text-anchor="middle">5</text>
<text x="1511.5" y="1974.5" font-family="'DejaVu Sans', 'Liberation Sans', sans-serif" font-size="35.5" fill="#222" text-anchor="middle">10</text>
<text x="1683.8" y="1974.5" font-family="'DejaVu Sans', 'Liberation Sans', sans-serif" font-size="35.5" fill="#222" text-anchor="middle">15</text>
<text x="1856" y="1974.5" font-family="'DejaVu Sans', 'Liberation Sans', sans-serif" font-size="35.5" fill="#222" text-anchor="middle">20</text>
<text x="2028.2" y="1974.5" font-family="'DejaVu Sans', 'Liberation Sans', sans-serif" font-size="35.5" fill="#222" text-anchor="middle">25</text>
<text x="2200.5" y="1974.5" font-family="'DejaVu Sans', 'Liberation Sans', sans-serif" font-size="35.5" fill="#222" text-anchor="middle">30</text>
<line x1="2003" y1="1130" x2="2083" y2="1130" stroke="#1ef01e" stroke-width="5.4"/>
<ellipse cx="2043" cy="1130" rx="6.4" ry="7.2" fill="#1ef01e"/>
<line x1="2003" y1="1188.8" x2="2083" y2="1188.8" stroke="#ffff00" stroke-width="5.4"/>
<polygon points="2043,1181.2 2050.2,1196.4 2035.8,1196.4" fill="#ffff00"/>
<line x1="2003" y1="1247.5" x2="2083" y2="1247.5" stroke="#0b5aa8" stroke-width="5.4"/>
<polygon points="2043,1239.7 2044.7,1244.7 2049.3,1245.1 2045.7,1248.6 2046.9,1253.8 2043,1250.9 2039.1,1253.8 2040.3,1248.6 2036.7,1245.1 2041.3,1244.7" fill="#0b5aa8"/>
<line x1="2003" y1="1303.5" x2="2083" y2="1303.5" stroke="#f00008" stroke-width="5.4"/>
<polygon points="2043,1294.1 2051.6,1303.5 2043,1312.9 2034.4,1303.5" fill="#f00008"/>
<text transform="translate(2095.02 1143.50) scale(0.8564 1)" font-family="'Liberation Serif', 'Times New Roman', serif" font-style="italic" font-size="50.55">N</text>
<text transform="translate(2125.92 1153.80) scale(1.0023 1)" font-family="'Liberation Serif', 'Times New Roman', serif" font-size="37.42">H1</text>
<text transform="translate(2094.42 1202.30) scale(0.8620 1)" font-family="'Liberation Serif', 'Times New Roman', serif" font-style="italic" font-size="50.70">N</text>
<text transform="translate(2125.01 1213.60) scale(1.0207 1)" font-family="'Liberation Serif', 'Times New Roman', serif" font-size="37.57">T1</text>
<text transform="translate(2094.42 1263.50) scale(0.8725 1)" font-family="'Liberation Serif', 'Times New Roman', serif" font-style="italic" font-size="50.09">N</text>
<text transform="translate(2125.63 1274.20) scale(0.9899 1)" font-family="'Liberation Serif', 'Times New Roman', serif" font-size="37.46">H2</text>
<text transform="translate(2096.02 1321.90) scale(0.8833 1)" font-family="'Liberation Serif', 'Times New Roman', serif" font-style="italic" font-size="49.48">N</text>
<text transform="translate(2126.60 1332.30) scale(1.0461 1)" font-family="'Liberation Serif', 'Times New Roman', serif" font-size="36.85">T2</text>
<text transform="translate(1243.52 1181.10) scale(0.8540 1)" font-family="'Liberation Serif', 'Times New Roman', serif" font-style="italic" font-size="50.86">N</text>
<text transform="translate(1274.83 1192.10) scale(0.9881 1)" font-family="'Liberation Serif', 'Times New Roman', serif" font-size="37.42">H1</text>
<text transform="translate(1336.72 1183.52) scale(1.2183 1)" font-family="'Liberation Serif', 'Times New Roman', serif" font-size="50.80">=</text>
<text transform="translate(1387.81 1180.62) scale(0.9671 1)" font-family="'Liberation Serif', 'Times New Roman', serif" font-size="49.56">3</text>
<text transform="translate(1413.61 1179.79) scale(0.9330 1)" font-family="'Liberation Serif', 'Times New Roman', serif" font-size="47.50">,</text>
<text transform="translate(1434.62 1181.10) scale(0.8676 1)" font-family="'Liberation Serif', 'Times New Roman', serif" font-style="italic" font-size="50.86">N</text>
<text transform="translate(1465.20 1192.10) scale(1.0540 1)" font-family="'Liberation Serif', 'Times New Roman', serif" font-size="36.66">T1</text>
<text transform="translate(1524.22 1183.52) scale(1.2183 1)" font-family="'Liberation Serif', 'Times New Roman', serif" font-size="50.80">=</text>
<text transform="translate(1573.94 1181.10) scale(0.9771 1)" font-family="'Liberation Serif', 'Times New Roman', serif" font-size="50.29">2</text>
<text transform="translate(1237.02 1251.10) scale(0.8540 1)" font-family="'Liberation Serif', 'Times New Roman', serif" font-style="italic" font-size="50.86">N</text>
<text transform="translate(1268.34 1262.10) scale(1.0072 1)" font-family="'Liberation Serif', 'Times New Roman', serif" font-size="36.55">H2</text>
<text transform="translate(1330.22 1253.02) scale(1.2787 1)" font-family="'Liberation Serif', 'Times New Roman', serif" font-size="48.40">=</text>
<text transform="translate(1379.82 1250.62) scale(0.9622 1)" font-family="'Liberation Serif', 'Times New Roman', serif" font-size="49.56">3</text>
<text transform="translate(1405.99 1249.79) scale(0.9471 1)" font-family="'Liberation Serif', 'Times New Roman', serif" font-size="47.50">,</text>
<text transform="translate(1426.52 1251.10) scale(0.8676 1)" font-family="'Liberation Serif', 'Times New Roman', serif" font-style="italic" font-size="50.86">N</text>
<text transform="translate(1457.21 1262.10) scale(1.0521 1)" font-family="'Liberation Serif', 'Times New Roman', serif" font-size="36.55">T2</text>
<text transform="translate(1516.77 1253.02) scale(1.2565 1)" font-family="'Liberation Serif', 'Times New Roman', serif" font-size="48.40">=</text>
<text transform="translate(1552.28 1250.62) scale(1.0874 1)" font-family="'Liberation Serif', 'Times New Roman', serif" font-size="49.35">10</text>
<text transform="translate(1643.42 2053.06) scale(1.0205 1)" font-family="'Liberation Serif', 'Times New Roman', serif" font-style="italic" font-size="68.32">y</text>
<text transform="translate(1677.10 2052.96) scale(0.6062 1)" font-family="'Liberation Serif', 'Times New Roman', serif" font-style="italic" font-size="75.49">/</text>
<text transform="translate(1694.26 2052.50) scale(1.1096 1)" font-family="'Liberation Serif', 'Times New Roman', serif" font-style="italic" font-size="65.37">r</text>
<text transform="translate(1721.84 2072.54) scale(1.0340 1)" font-family="'Liberation Serif', 'Times New Roman', serif" font-size="47.20">c</text>
<text transform="translate(1059.74 1531.69) rotate(-90) scale(1.2164 1)" font-family="'Liberation Serif', 'Times New Roman', serif" font-style="italic" font-size="42.57">ϕ</text>
<text transform="translate(1074.86 1499.32) rotate(-90) scale(1.0040 1)" font-family="'Liberation Serif', 'Times New Roman', serif" font-size="35.37">H,T</text>
</svg>
</body></html>
